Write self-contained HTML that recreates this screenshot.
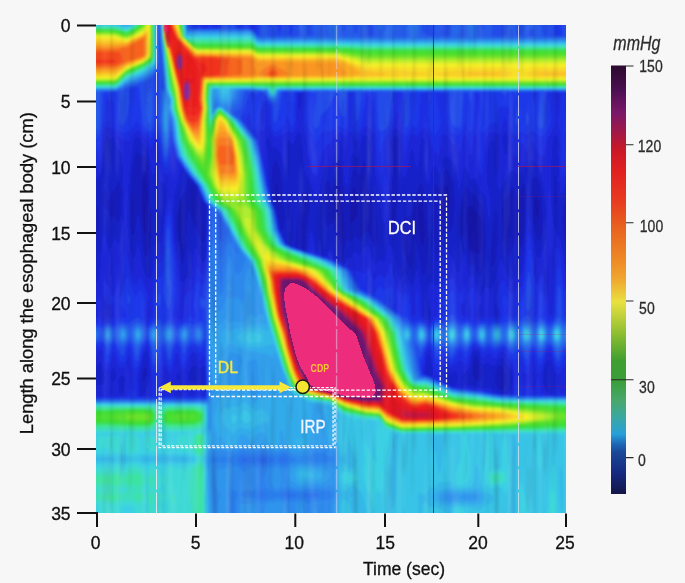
<!DOCTYPE html>
<html><head><meta charset="utf-8"><title>Esophageal pressure topography</title>
<style>
html,body{margin:0;padding:0;background:#f7f7f7;}
svg{display:block}
text{font-family:"Liberation Sans",sans-serif;}
</style></head>
<body>
<svg width="685" height="583" viewBox="0 0 685 583">
<defs>
<clipPath id="pc"><rect x="96" y="25" width="470" height="488"/></clipPath>
<filter id="bl" x="-2%" y="-2%" width="104%" height="104%"><feGaussianBlur stdDeviation="0.8"/></filter>
<pattern id="st" width="141" height="173" patternUnits="userSpaceOnUse"><rect x="85.6" y="135" width="2.5" height="41" fill="#fff" opacity="0.051"/><rect x="0.7" y="122" width="3.0" height="81" fill="#fff" opacity="0.034"/><rect x="38.1" y="24" width="4.0" height="60" fill="#000" opacity="0.075"/><rect x="108.6" y="88" width="2.5" height="94" fill="#fff" opacity="0.030"/><rect x="83.9" y="-12" width="2.5" height="61" fill="#fff" opacity="0.053"/><rect x="86.2" y="69" width="1.5" height="60" fill="#fff" opacity="0.025"/><rect x="26.4" y="100" width="4.0" height="51" fill="#fff" opacity="0.050"/><rect x="21.2" y="26" width="2.0" height="87" fill="#000" opacity="0.068"/><rect x="87.6" y="108" width="2.5" height="63" fill="#000" opacity="0.069"/><rect x="49.5" y="83" width="1.5" height="29" fill="#fff" opacity="0.035"/><rect x="20.6" y="121" width="2.5" height="94" fill="#000" opacity="0.057"/><rect x="87.4" y="97" width="2.0" height="36" fill="#fff" opacity="0.032"/><rect x="55.1" y="-3" width="2.5" height="40" fill="#000" opacity="0.044"/><rect x="119.7" y="95" width="4.0" height="34" fill="#000" opacity="0.073"/><rect x="123.8" y="79" width="2.0" height="38" fill="#000" opacity="0.055"/><rect x="24.7" y="133" width="1.5" height="70" fill="#000" opacity="0.047"/><rect x="56.3" y="21" width="3.0" height="86" fill="#fff" opacity="0.041"/><rect x="44.1" y="110" width="1.5" height="27" fill="#fff" opacity="0.026"/><rect x="16.8" y="147" width="1.5" height="55" fill="#000" opacity="0.069"/><rect x="47.2" y="82" width="3.0" height="73" fill="#fff" opacity="0.041"/><rect x="104.8" y="137" width="4.0" height="90" fill="#fff" opacity="0.048"/><rect x="111.0" y="4" width="1.5" height="54" fill="#000" opacity="0.031"/><rect x="86.1" y="117" width="4.0" height="76" fill="#fff" opacity="0.031"/><rect x="49.7" y="11" width="2.5" height="49" fill="#000" opacity="0.056"/><rect x="46.6" y="27" width="1.5" height="56" fill="#000" opacity="0.053"/><rect x="71.4" y="135" width="4.0" height="77" fill="#000" opacity="0.049"/><rect x="120.3" y="51" width="3.0" height="30" fill="#fff" opacity="0.041"/><rect x="130.3" y="23" width="4.0" height="81" fill="#000" opacity="0.062"/><rect x="86.3" y="148" width="2.0" height="53" fill="#fff" opacity="0.027"/><rect x="29.2" y="138" width="2.0" height="84" fill="#fff" opacity="0.043"/><rect x="65.6" y="83" width="2.5" height="46" fill="#000" opacity="0.051"/><rect x="86.0" y="90" width="3.0" height="38" fill="#fff" opacity="0.037"/><rect x="104.7" y="121" width="4.0" height="33" fill="#000" opacity="0.066"/><rect x="120.2" y="71" width="3.0" height="89" fill="#fff" opacity="0.026"/><rect x="2.8" y="24" width="3.0" height="38" fill="#000" opacity="0.032"/><rect x="80.9" y="9" width="2.0" height="72" fill="#fff" opacity="0.034"/><rect x="128.6" y="73" width="3.0" height="71" fill="#000" opacity="0.039"/><rect x="78.7" y="-13" width="4.0" height="81" fill="#000" opacity="0.068"/><rect x="6.9" y="39" width="4.0" height="33" fill="#000" opacity="0.066"/><rect x="43.0" y="129" width="2.0" height="81" fill="#fff" opacity="0.048"/><rect x="120.9" y="14" width="2.5" height="70" fill="#000" opacity="0.034"/><rect x="90.6" y="89" width="2.5" height="83" fill="#000" opacity="0.045"/><rect x="98.9" y="130" width="2.5" height="36" fill="#fff" opacity="0.045"/><rect x="29.4" y="78" width="4.0" height="91" fill="#fff" opacity="0.033"/><rect x="62.5" y="94" width="2.5" height="52" fill="#fff" opacity="0.045"/><rect x="113.8" y="45" width="1.5" height="51" fill="#000" opacity="0.040"/><rect x="33.9" y="37" width="4.0" height="31" fill="#000" opacity="0.056"/><rect x="41.1" y="-7" width="2.5" height="78" fill="#fff" opacity="0.029"/><rect x="17.9" y="-6" width="3.0" height="44" fill="#fff" opacity="0.050"/><rect x="84.9" y="12" width="4.0" height="55" fill="#000" opacity="0.047"/><rect x="97.4" y="-3" width="3.0" height="79" fill="#000" opacity="0.060"/><rect x="50.8" y="-9" width="3.0" height="61" fill="#000" opacity="0.039"/><rect x="36.5" y="73" width="2.0" height="88" fill="#fff" opacity="0.031"/><rect x="109.5" y="92" width="3.0" height="75" fill="#000" opacity="0.072"/><rect x="115.5" y="114" width="3.0" height="70" fill="#fff" opacity="0.048"/><rect x="103.8" y="105" width="2.0" height="56" fill="#fff" opacity="0.038"/><rect x="4.6" y="126" width="2.5" height="52" fill="#000" opacity="0.062"/><rect x="52.3" y="124" width="2.5" height="89" fill="#fff" opacity="0.029"/><rect x="104.2" y="152" width="1.5" height="75" fill="#000" opacity="0.071"/><rect x="16.9" y="-4" width="1.5" height="94" fill="#fff" opacity="0.030"/><rect x="78.8" y="57" width="4.0" height="38" fill="#000" opacity="0.040"/><rect x="105.4" y="-8" width="3.0" height="58" fill="#fff" opacity="0.034"/><rect x="42.8" y="105" width="2.0" height="29" fill="#000" opacity="0.070"/><rect x="125.5" y="23" width="2.5" height="53" fill="#fff" opacity="0.029"/><rect x="4.5" y="67" width="4.0" height="37" fill="#000" opacity="0.052"/><rect x="25.2" y="96" width="1.5" height="44" fill="#000" opacity="0.043"/><rect x="70.7" y="89" width="2.5" height="53" fill="#000" opacity="0.069"/><rect x="24.6" y="4" width="2.5" height="33" fill="#000" opacity="0.072"/><rect x="31.6" y="148" width="4.0" height="60" fill="#fff" opacity="0.052"/><rect x="5.6" y="35" width="2.0" height="67" fill="#fff" opacity="0.032"/><rect x="63.7" y="132" width="1.5" height="83" fill="#000" opacity="0.062"/><rect x="116.4" y="98" width="3.0" height="76" fill="#fff" opacity="0.030"/><rect x="103.6" y="9" width="2.0" height="67" fill="#fff" opacity="0.053"/><rect x="21.3" y="69" width="4.0" height="31" fill="#000" opacity="0.056"/><rect x="110.1" y="29" width="2.5" height="74" fill="#000" opacity="0.073"/><rect x="59.4" y="52" width="4.0" height="73" fill="#000" opacity="0.045"/><rect x="91.7" y="16" width="1.5" height="79" fill="#fff" opacity="0.047"/><rect x="2.1" y="146" width="2.5" height="58" fill="#fff" opacity="0.047"/><rect x="71.7" y="106" width="4.0" height="64" fill="#000" opacity="0.072"/><rect x="5.4" y="58" width="1.5" height="69" fill="#000" opacity="0.033"/><rect x="81.3" y="18" width="1.5" height="87" fill="#fff" opacity="0.039"/><rect x="102.8" y="102" width="1.5" height="64" fill="#000" opacity="0.051"/><rect x="85.0" y="122" width="2.0" height="70" fill="#fff" opacity="0.042"/><rect x="54.3" y="109" width="3.0" height="52" fill="#fff" opacity="0.048"/><rect x="69.0" y="38" width="1.5" height="52" fill="#000" opacity="0.065"/></pattern>
<filter id="bs" x="-2%" y="-5%" width="104%" height="110%"><feGaussianBlur stdDeviation="0.8 6"/></filter>
<filter id="b2" x="-50%" y="-50%" width="200%" height="200%"><feGaussianBlur stdDeviation="1.3"/></filter>
<linearGradient id="cb" x1="0" y1="0" x2="0" y2="1">
<stop offset="0" stop-color="#2a0a2e"/>
<stop offset="0.055" stop-color="#4a1050"/>
<stop offset="0.11" stop-color="#7a1868"/>
<stop offset="0.155" stop-color="#a01848"/>
<stop offset="0.195" stop-color="#c81828"/>
<stop offset="0.245" stop-color="#e02020"/>
<stop offset="0.315" stop-color="#e83a20"/>
<stop offset="0.375" stop-color="#e86020"/>
<stop offset="0.455" stop-color="#ee8a25"/>
<stop offset="0.50" stop-color="#f0a830"/>
<stop offset="0.552" stop-color="#e8e040"/>
<stop offset="0.63" stop-color="#88bc30"/>
<stop offset="0.69" stop-color="#3f9e30"/>
<stop offset="0.735" stop-color="#3a9e3a"/>
<stop offset="0.785" stop-color="#48a870"/>
<stop offset="0.82" stop-color="#3aa8a0"/>
<stop offset="0.86" stop-color="#28a0d8"/>
<stop offset="0.883" stop-color="#1e68b8"/>
<stop offset="0.902" stop-color="#1a4898"/>
<stop offset="0.95" stop-color="#152a80"/>
<stop offset="1" stop-color="#141548"/>
</linearGradient>
</defs>
<rect width="685" height="583" fill="#f7f7f7"/>
<!-- heat map -->
<g clip-path="url(#pc)">
<g filter="url(#bl)">
<rect x="86" y="15" width="490" height="508" fill="#1617aa"/>
<path fill="#181aba" d="M573.5 520.6L88.4 520.5L88.5 17.5L573.5 17.5L573.5 203.4L568.5 210.1L567.5 212.5L566.6 222.5L567.1 230.5L568.5 236.4L569.5 237.8L570.5 237.9L573.5 236.2L573.5 520.6ZM146 233.5L146.9 230.5L147.5 223.2L147.4 190.5L146.5 175.5L145.5 171.5L144.5 170.8L143.3 173.5L142.3 180.5L142 200.5L143.5 225.1L144.5 231.7L145.5 234.2L146 233.5ZM277.7 202.5L278.4 199.5L278.3 193.5L277.5 185.4L276.5 183.3L275.9 187.5L276 193.5L276.5 199.4L277.5 202.9L277.7 202.5ZM446.2 215.5L447.9 210.5L448.6 200.5L447.5 188.9L446.5 185.2L445.5 184.5L444.5 186.3L443.3 191.5L441.5 208.5L441.9 212.5L442.7 214.5L444.5 216.2L446.2 215.5ZM340.8 242.5L341.5 242.3L342.7 235.5L343.4 217.5L342.2 200.5L340.5 188.6L339.5 185.1L338.5 186.4L337.9 192.5L337.7 212.5L338.8 232.5L339.5 238.6L340.8 242.5ZM351.6 222.5L356.5 216.4L357.7 211.5L357.1 197.5L355.8 190.5L354.5 187.7L353.5 188.5L352.5 192.2L350.2 208.5L350 219.5L350.5 222.2L351.6 222.5ZM538.6 218.5L539 211.5L538.5 202.4L537.5 196.9L536.5 195.8L535.5 200.4L535.7 207.5L537.5 218.6L538.5 218.9L538.6 218.5ZM423 244.5L424.3 235.5L424.2 221.5L422.5 205.6L421.5 201.8L420.5 200.9L419.5 202.8L418.5 209.5L418.4 224.5L420.5 239.9L421.5 243.7L422.5 245.4L423 244.5ZM479.3 253.5L480.5 249.5L481.8 238.5L481.9 228.5L481 220.5L479.5 216.1L475.9 212.5L472.5 207.6L470.5 206L469.5 205.9L468.4 206.5L467.3 208.5L466.6 215.5L467.3 227.5L469.5 248.1L470.5 251.7L471.5 252.5L474.5 250.5L475.5 250.9L478.5 254.4L479.3 253.5Z"/>
<path fill="#1920c8" d="M573.5 520.6L88.4 520.5L88.5 219.6L89.5 215.5L90 208.5L89.5 203.5L88.5 201L88.5 17.5L573.5 17.5L573.5 187.3L567.5 194.5L565.9 198.5L563.4 210.5L562.6 220.5L563.8 233.5L567.1 249.5L568.5 252.1L569.3 252.5L573.5 252.5L573.5 520.6ZM393.9 230.5L395.5 225.5L397 210.5L397.4 179.5L398.7 152.5L398.5 140.6L397.7 137.5L396.5 136.1L395.5 136.4L394.5 138.1L393.3 144.5L393 179.5L390.2 211.5L390.9 225.5L392.5 230.4L393.5 231L393.9 230.5ZM146.7 255.5L148.1 252.5L149.1 247.5L150.5 230.5L149.5 186.5L148.6 171.5L147.5 163.5L145.5 157.1L144.5 156L143.5 155.7L140.5 156.3L137.5 151L136.5 151.1L135.5 153L133.5 161.4L131.4 178.5L130.1 205.5L130.6 225.5L131.5 232.3L132.5 235.1L133.5 235L135 229.5L137.5 213L138.5 210.8L139.5 215L143.5 248.8L145.5 255.5L146.7 255.5ZM340.9 261.5L341.5 261.1L342.5 257.5L345.5 239.9L346.5 237.9L349.5 241.3L350.5 241.4L354.5 236.4L355.5 236.6L358.5 239.4L359.5 238.9L362.5 233.5L367.5 229.9L368.5 230.6L372.5 242.8L374.5 246.6L375.5 246.3L376.9 242.5L377.9 235.5L378 227.5L375.5 199.6L373.5 191.2L372.5 191.2L369.5 198.2L368.5 195.5L365.5 165.6L364.5 161L363.5 160L359.5 175.3L358.5 175.7L357.5 174.8L354.5 170.5L353.5 170.7L353.2 171.5L348.5 196.6L346.5 203.7L345.5 203.1L344.5 198.8L340.5 163.6L339.5 158.9L338.5 158.8L336.8 166.5L333.5 197.1L332.5 195.1L330.2 185.5L328.5 181.7L327.5 181.1L326.5 181.7L325.2 185.5L324 193.5L323.7 203.5L324.2 214.5L325.3 222.5L326.5 225.7L327.5 226.1L330.6 223.5L332.5 221.1L333.5 220.7L334.5 225.1L338.5 257.7L339.3 260.5L340.9 261.5ZM282.7 230.5L284.1 223.5L284.4 214.5L281.9 185.5L279.5 169.5L277.5 163.5L276.5 161.9L275.5 161.4L274.5 162.2L273.5 164.6L272.5 170.5L271.8 182.5L272 193.5L273.5 202.5L276.2 209.5L280.5 228.3L281.5 230.2L282.7 230.5ZM437.7 259.5L441.1 239.5L442.5 233.9L444.5 231.2L448.5 232.1L450.5 230.8L452.5 225.9L453.7 218.5L454.5 200.5L453.5 184.7L452.5 181.1L447.7 171.5L446.5 170.1L445.5 170L444.5 171.3L440.5 187.3L439.5 189.1L438.5 188.9L435.5 183.2L434.5 183.5L433.5 188.5L433.1 205.5L435.5 250.7L436.5 259.9L437.5 260.5L437.7 259.5ZM556.6 206.5L556.8 192.5L555.5 175.3L554.5 177.5L554.4 192.5L555.5 204.4L556.5 207L556.6 206.5ZM539.8 240.5L541.5 235.8L542.5 226.5L542.4 215.5L541.2 198.5L540 187.5L538.5 180.6L536.5 177.4L534.5 177L533.5 177.2L532.5 178.5L531.5 183.5L531.3 191.5L532 202.5L533.8 218.5L536.5 235L538.5 240.9L539.5 241L539.8 240.5ZM182.6 263.5L183.5 260.7L184.7 252.5L187.5 214.9L188.5 209.4L189.5 210.2L193.5 222.5L196.8 229.5L200.5 239.2L202.5 241.8L203.5 241.5L204.5 239.8L205.5 234.8L206.1 218.5L205.7 205.5L203.5 203.7L202.1 201.5L195.4 186.5L191.5 181.1L188.5 178.7L187.8 179.5L186.5 190L185.5 191.6L183.5 193.3L181.5 198.1L178.9 208.5L177.8 216.5L177.8 227.5L179.5 250.3L180.6 259.5L181.5 263.4L182.6 263.5ZM118.7 221.5L119.5 219L120.2 212.5L120.6 198.5L119.9 185.5L119.5 182.4L118.5 181.2L115.5 188.9L114.5 190.2L112.5 190.3L111.5 192.6L108.6 208.5L109.2 213.5L110.5 216.8L111.5 217.3L113.5 216.2L114.5 216.4L117.5 222L118.5 222.2L118.7 221.5ZM423.7 275.5L424.5 273.8L425.5 267.7L427.1 252.5L428 237.5L428 223.5L426.9 210.5L423.8 191.5L422.5 185.7L421.5 183.5L420.5 183.3L418.7 186.5L417.1 191.5L412.5 212.3L407.5 218.2L406.5 218.3L404.5 217.1L403.5 219L402.5 227.8L402.1 244.5L402.6 249.5L405.5 255.1L409.5 268.6L410.5 269.9L411.8 265.5L413.5 236.4L414.5 234.2L418.5 251L422.5 274.3L423.5 275.9L423.7 275.5ZM508.7 255.5L509.5 254.5L513.5 244.3L516.5 234.4L517.5 234.3L520.5 247.1L521.5 246.3L522.5 242.2L524.9 222.5L526.2 199.5L525.6 187.5L524.5 184.2L523.5 183.6L521.5 187.4L518.5 199.8L517.5 202L516.5 199.6L514.5 190.1L513.5 187.7L512.5 187.2L511.5 188.1L508.5 195.3L504.5 200L503.5 203.3L502.7 209.5L502.6 216.5L504.2 238.5L506.5 252.8L507.5 255.2L508.7 255.5ZM480.4 276.5L481.6 273.5L483 266.5L484.8 247.5L484.8 228.5L483.3 212.5L482.2 207.5L480.5 203.5L474.5 195.6L470.5 192.5L466.5 186.4L465.5 186.5L463.5 192.5L461.5 207.5L460.2 224.5L460.5 234.5L461.5 236.1L463.5 235.3L464.5 235.6L465.5 237.5L469.5 263L470.5 264.8L473.5 264.1L474.5 264.9L478.5 276.1L479.5 277.2L480.4 276.5ZM107.3 208.5L107.9 206.5L106.7 196.5L105.5 190L104.5 188.7L103.2 194.5L103.3 203.5L104.5 207.7L105.5 208.9L106.5 209.2L107.3 208.5ZM303.5 248.5L308.8 216.5L309.6 207.5L309 200.5L307.6 195.5L305.5 192.8L303.5 192.2L302.5 192.9L301.5 195L299.5 205.1L297.5 222.7L295.7 245.5L297.2 247.5L299.6 248.5L303.5 248.5ZM288.6 220.5L289.5 216.4L290.1 202.5L290.3 194.5L289.5 193.7L287.3 210.5L287.5 216.8L288.6 220.5ZM97.6 244.5L98.5 235.7L99 217.5L98.5 208.5L97.5 205.8L96.5 210.1L96.3 217.5L97.5 245.4L97.6 244.5ZM492.7 266.5L494.5 263L495.5 258.9L497 246.5L497.6 222.5L496.5 210.1L495.5 210.2L494.5 218.3L491.2 253.5L491.2 263.5L491.5 265.5L492.7 266.5ZM479.7 380.5L481.2 378.5L481.5 374.5L477.5 359L476.5 356.7L475.5 356.8L474.5 359.3L473.5 365.2L473 370.5L473.3 374.5L475.5 379.3L477.5 380.6L479.7 380.5ZM502.8 389.5L504 387.5L505.2 383.5L505.7 376.5L504.7 372.5L502.8 368.5L500.6 365.5L499.5 365.4L497.5 368.3L495.8 372.5L495 376.5L495.1 379.5L496.3 384.5L498.5 388.9L500.5 390.3L502.8 389.5ZM143 380.5L144.5 379.3L146.5 375.3L146.6 369.5L145.5 367L143.5 370L142.4 373.5L142 378.5L142.5 380.6L143 380.5Z"/>
<path fill="#1a25d7" d="M573.5 520.5L88.4 520.5L88.5 395L89.5 394.1L91.1 387.5L92.5 384.2L94.5 383.6L99.5 384.9L101.5 384.7L103.5 382.5L104.4 377.5L102.5 367.4L101.5 364.7L100.5 363.6L98.5 364.4L92.5 371.3L91.5 371.4L88.5 369.4L88.5 251.3L91.5 239.6L92.5 240.5L93 246.5L93.5 276.5L94.5 281.4L95.5 282.8L96.5 282.9L98.5 279.7L99.5 275L101.6 243.5L102.5 235.8L103.5 233.5L104.9 235.5L107.5 246L108.5 248.6L109.5 249.4L110.5 248.4L113.5 239.5L114.5 237.9L115.5 238.1L118.5 243.2L119.5 242.9L119.9 241.5L121 235.5L122 222.5L122.9 192.5L122.4 165.5L120.9 154.5L119.5 151.3L116.9 147.5L113.5 137.9L112.4 137.5L109.5 140.3L107.5 136.6L106.5 136.2L105.5 137.7L105.2 139.5L103.2 162.5L100.5 174.5L97.5 178L93.5 187L92.5 187.5L88.5 186.2L88.5 17.5L573.5 17.5L573.5 172.8L570.5 171.9L569.5 172.2L563.5 192.2L562.5 194.7L561.5 195.7L560.5 194.2L559.7 190.5L558.6 179.5L557.5 138.5L556.5 135.4L555.5 135.4L554.1 138.5L553.3 143.5L551.7 164.5L551.3 181.5L552 205.5L553.6 222.5L555.5 230.1L559.5 236.8L561.6 243.5L564 255.5L565.5 271L566.5 273.8L569.3 267.5L570.5 265.9L571.5 265.6L573.5 266.1L573.5 367.7L571.4 368.5L569.5 370L568.5 372.5L568.1 375.5L568.8 381.5L571.5 391.4L572.5 393.4L573.5 393.7L573.5 520.5ZM299.9 109.5L300.8 105.5L301.4 95.5L301.1 93.5L299.5 93L298.6 93.5L298.4 94.5L298.4 102.5L298.5 106L299.5 110.4L299.9 109.5ZM428.5 319.5L429.9 316.5L430.3 313.5L427.1 297.5L427.1 291.5L428 285.5L429.5 281.5L430.5 281L432.5 282L435.5 285.4L436.5 285.6L437.5 284.8L438.5 282.9L440.5 274.4L442.5 253.2L443.5 248.3L444.5 246.1L445.5 245.8L446.5 246.8L449.5 253.1L452.5 257.5L456.5 269.3L457.5 271.5L458.5 272.2L459.8 269.5L462.5 253.8L463.5 251.1L464.5 250.7L465.6 253.5L468.5 274.4L469.5 276.5L470.5 276.5L472.5 275.2L473.5 275.6L474.5 277.3L479.5 296.4L480.5 296.6L483.5 288.5L485.5 285.8L486.5 285.9L489.5 288.6L490.5 288.8L492.5 286.5L496.4 275.5L500.5 257.4L501.5 256.4L506.5 272L508.5 276.9L510.5 280L511.5 280.4L512.5 279.6L516.5 269L517.5 269.9L519.5 274.5L520.5 275.1L521.5 273.2L522.5 267.2L527.5 220.6L528.5 215.6L529.5 214.4L531.5 221.5L536.9 254.5L537.5 257.1L538.5 258.4L539.5 257.7L543 249.5L545 240.5L545.9 228.5L545.4 214.5L542.7 185.5L540.6 172.5L538.5 166.9L535.5 164L532.5 159.9L531.5 160L528.5 166.8L527.5 167.8L526.5 167.8L523.5 165.6L522.5 166.2L518.5 176L517.5 176.4L513.5 171.5L511.5 171.1L510.5 171.8L504.5 181.4L500.5 190.8L499.5 190.9L498.3 187.5L496.9 178.5L494.7 144.5L493.5 140.7L492.5 140L491.3 140.5L489.9 143.5L488.8 149.5L487.5 170.5L488 185.5L490.5 197.7L491 203.5L490.6 215.5L489.5 221.6L488.5 221.2L486 200.5L484.6 195.5L478.6 188.5L474.5 179.5L471.5 179.7L470.5 178.9L466.5 168.9L465.5 167.5L464.5 168.1L463.5 171L459.5 191.8L458.5 194L456.3 172.5L454.6 164.5L453.5 162.7L450.5 161L446.5 156.7L444.5 156.9L443.5 158.6L440.5 172.2L439.5 174.3L438.5 173.8L435.5 167.1L434.5 165.9L433.5 166L431.8 170.5L429.5 183.8L428.5 186.1L427.5 185.3L426.2 180.5L424.9 170.5L424.5 159.5L424.9 142.5L424.5 139.4L423.5 138L422.5 138.2L421.2 141.5L419.4 159.5L417.5 168.1L416.5 169.2L415.5 167.3L412.7 150.5L412.5 149.6L411.5 149.4L407.4 172.5L405.5 176.9L404.5 177.7L403 177.5L402.2 175.5L401.5 170.3L400.9 137.5L399.5 132.1L398.5 130.3L396.5 129L395.5 129.6L393.5 132.9L391.6 140.5L389.9 180.5L386.5 219.5L385.5 225.2L384.5 226.2L383.5 224.9L381.5 217.6L375.5 178.8L371.9 160.5L371 153.5L370.5 142L369.4 139.5L366.1 135.5L364.5 135L363.5 135.6L361.9 138.5L359.1 154.5L357.5 159.2L356.5 159.2L353.5 153.9L352.4 153.5L351.5 156.3L348.5 180.9L347.5 185.1L346.5 186.9L345.5 185.9L344.2 178.5L341.9 145.5L340.5 140.7L339.5 139.9L338.5 140.4L336.5 145.8L332.5 165.6L331.5 167L327.5 165.7L326.5 166L323.8 170.5L322 177.5L319.5 192.4L318.5 196.2L317.5 197.1L315.5 195L312.5 189.8L308.5 180.4L305.5 175.1L304.3 171.5L302.2 158.5L301.9 138.5L300.9 134.5L299.5 132L298.5 131.7L296.5 134.5L293.5 146L292.5 146L289.5 140.9L288.5 140.2L287.5 141L286.2 148.5L285.5 167.8L284.5 169.5L282.1 158.5L280 153.5L276.5 148.1L275.5 147.6L272.5 147.7L271.5 147.1L268.5 137.7L267.5 137.3L266.7 139.5L266.5 142.5L268 154.5L268.2 177.5L269.5 189.3L272.2 201.5L275.7 210.5L279.5 229.5L286.5 243.5L289.8 245.5L299.5 249.5L303.5 250.6L306.4 250.5L309.5 233.7L310.5 231.2L311.5 230.8L312.5 232.6L313.8 238.5L315.4 252.5L316.5 253.5L319.5 254L322.7 255.5L326.5 256L327.1 255.5L328.5 249.5L329.5 248.5L330.5 249.7L333.3 258.5L338.3 262.5L343.5 264.5L345.1 263.5L346.5 258.6L347.5 257.5L349.5 257.9L350.5 257.3L353.5 252.3L354.5 251.7L355.5 252L358.5 255L359.5 254.8L363.5 247.7L366.5 245.2L367.5 245.2L368.5 246.1L369.5 248.2L373.5 262.5L374.5 264.3L375.5 264.6L379.5 260L380.5 259.9L383.5 261.7L384.5 260.8L385.5 257.8L388 245.5L388.5 244.5L389.5 244.2L390.5 244.7L393.1 248.5L395.3 254.5L398 274.5L399.5 280L400.5 280.4L403.7 273.5L404.5 272.2L405.5 272.1L407.5 275.9L410.5 284.6L411.5 285.8L411.9 285.5L413.5 282L415.5 270.1L416.5 267.5L417.5 268.7L422.3 294.5L422.9 314.5L424 317.5L425.5 319.6L427.5 320.3L428.5 319.5ZM505.8 154.5L506.5 154.2L507.5 150.2L508.2 140.5L507.5 135.1L505.5 132L504.5 132.2L503.5 133.7L502.5 139.5L503.5 148.2L504.5 152.5L505.8 154.5ZM150.7 278.5L151.9 273.5L153.3 254.5L154.5 246.2L155.5 243L156.5 241.8L157.5 241.8L159.5 243.3L160.5 242.3L161.5 237.6L165.5 200.5L165.6 189.5L164.8 185.5L163.5 183.2L162.5 182.7L160.5 182.8L159.5 180.7L156.5 164.3L155.5 164.9L153.5 178L152.5 179.7L149.2 158.5L147.5 151.4L145.5 146.8L142.5 143.2L139.5 138.4L137.5 136.9L135.5 138L133.9 142.5L129.7 171.5L127.7 207.5L127.7 222.5L128.4 235.5L130 246.5L132.5 255.7L133.5 257.5L134.5 257L137.5 244.5L138.5 243.3L139.5 246.1L142.4 263.5L144.5 272.2L146.5 275.6L149.5 278.5L150.7 278.5ZM260.7 142.5L260.5 141.2L260.5 142.8L260.7 142.5ZM183.1 281.5L186.5 276.6L187.5 277.1L189.5 279.4L190.5 279.1L191.5 276.6L193.2 252.5L194.4 247.5L195.5 246.6L197.5 249.6L201.5 260.2L202.5 261.2L203.5 261.2L204.5 260.2L205.5 256.1L206.6 243.5L207.6 206.5L207.4 205.5L203.7 201.5L196.5 185.7L183.5 169.9L181.5 168.3L180.9 169.5L178.5 183.6L175.5 190.8L174.5 194.9L173.8 212.5L174.5 228.5L179.5 273.6L180.5 279.4L181.5 281.9L182.5 282.1L183.1 281.5ZM480 316.5L481.4 314.5L481.8 311.5L480.5 304.1L479.5 303.8L477.8 313.5L478.5 316.6L480 316.5ZM506.4 393.5L509.3 391.5L511.1 388.5L512.5 381.5L512.5 376L511 371.5L502.5 359L500.5 357.5L499.5 358.2L495.5 364.9L493.5 366.2L491.6 365.5L488.5 362.8L487.5 362.7L483.5 365.7L482.5 365.3L480.9 362.5L477.5 351L476.5 350L474.7 350.5L472.5 354.5L469.5 367.6L468.5 369.5L465.2 372.5L463.8 374.5L463.7 378.5L465.5 384.5L467.5 386L472.5 385.2L481.5 388.2L490.5 387.7L492.5 388.7L496.7 392.5L498.8 393.5L502.5 393.9L506.4 393.5ZM142.7 395.5L143.8 394.5L147.8 384.5L149.5 376.5L148.5 360.1L147.5 352.8L146.5 351.3L145.5 351.8L144.5 354.1L139.7 372.5L139 377.5L139.9 394.5L140.7 395.5L142.7 395.5ZM432.6 376.5L433.1 375.5L432.5 370.1L429.8 356.5L428.5 354.1L427.5 355.8L424.8 372.5L425.4 373.5L429.1 375.5L432.6 376.5ZM551.9 393.5L554 382.5L554.1 374.5L551.5 363L550.5 360.9L549.5 359.9L548.5 359.7L547.5 360.6L546.5 362.7L543.8 371.5L543.1 375.5L543.2 380.5L544.5 386.2L548.5 392.5L549.5 393.6L551.9 393.5ZM204.6 390.5L205.5 379.5L204.5 366.9L203.5 365.9L200.5 368.9L199.5 369L194.5 365.4L189.5 370.6L188.3 374.5L188.5 378.8L189.5 380.6L192.5 380.4L196.5 384.4L200.5 384.4L201.5 385.5L203.5 390.5L204.5 391.4L204.6 390.5ZM453.8 386.5L455.7 385.5L457 382.5L457.9 377.5L457.3 373.5L456.5 372.1L454.5 371.4L452.5 372.5L448.5 376.5L447.5 375.1L444.5 367.2L443.5 366.2L442.5 366.9L441.1 371.5L440.6 377.5L441.1 380.5L443.5 382.5L448.5 383.7L450.5 385.5L453.8 386.5ZM115 380.5L116 378.5L116.1 375.5L114.5 368.8L113.5 367.7L112.5 369.1L111.5 372.5L111 377.5L111.5 379.8L112.5 381.2L113.5 381.5L115 380.5ZM533.1 374.5L533.5 372.5L532.5 370.8L532.5 375.2L533.1 374.5ZM178.7 379.5L179.3 376.5L178.5 373.5L177.5 372.7L176.7 374.5L176.6 376.5L177.5 379.3L178.5 379.8L178.7 379.5ZM123.2 394.5L124.5 383.8L125.8 378.5L126.5 377.5L125.5 378.1L121.5 376L120.4 376.5L119 378.5L118.8 383.5L120 394.5L121.5 395.4L123.2 394.5Z"/>
<path fill="#1c2ee2" d="M573.5 520.5L88.4 520.5L88.5 396.9L95.5 396.1L106.5 396.4L111.5 395.4L120.5 397L126.5 396.2L127.7 395.5L128.1 394.5L131.4 380.5L132.1 373.5L130.5 358.7L129.5 354.9L128.5 355.6L125.5 365.8L124.5 367.4L122.5 368.4L120.5 368L118.5 366.5L116.9 362.5L114.5 352.5L113.5 352L109.5 367.9L108.5 369.6L107.5 370.2L106.5 369.5L104.6 364.5L102.7 351.5L101.5 349.1L99.5 349.7L98.1 351.5L94.6 360.5L92.5 363.4L91.5 363.8L90.5 363.4L88.5 361.6L88.5 280.6L90.5 286.3L92.2 296.5L92.3 302.5L91.5 313.5L92.5 318.6L93.5 319.5L94.5 319.6L95.9 318.5L97.5 315.9L98.5 316L100.5 319.6L102.5 321.5L104.5 320.5L107.5 317.6L112.5 318.6L113.5 317.4L114.2 314.5L113.5 306.1L112.5 303.1L111.5 303.2L109.5 305.5L108.5 305.9L106.5 303.5L102.8 294.5L103.5 284.2L104.5 279.7L108.5 286.2L112.5 296.7L113.5 296.1L121.5 272.4L124.5 251.4L125.5 250.5L129.5 263.8L132.5 277.7L134.5 283.7L135.5 284.3L136.5 283.4L139.5 277L140.5 277.3L147.6 292.5L148.9 297.5L149.2 301.5L147.1 315.5L147.5 317.6L148.5 318.9L149.5 319L150.5 318.3L151.6 316.5L152.2 313.5L151.9 299.5L155.6 268.5L156.5 263.6L157.5 261.9L159.5 262.8L160.5 262.7L161.5 260L165.5 217.5L167.5 203.5L168.5 198.6L169.5 196.7L170.5 199.3L171.1 204.5L173.5 240.1L176.5 264.5L179.2 294.5L179.1 301.5L176.7 315.5L177.1 317.5L178.5 319.4L179.5 319.9L181.5 319.6L183.6 317.5L184.7 314.5L184 301.5L184.6 296.5L186.5 292.6L190.5 291.2L192.5 288L193.7 282.5L195.5 268.5L196.5 265.6L197.5 265.9L200.5 272.4L202.5 274.9L204.5 275L205.5 272.5L207.5 243.5L208.3 206.5L207.5 204.5L205.1 202.5L203.9 200.5L197.5 186L188.1 174.5L176.1 158.5L174.7 155.5L172.5 146.8L171.5 147.6L170.8 160.5L169.3 171.5L168.2 174.5L167.5 175.4L166.5 175.4L163.5 172.2L161.2 166.5L159.9 159.5L157.5 140.5L156.5 137.8L155.5 137.6L154.5 139.3L151.5 149.3L150.5 148.8L147.5 141.9L145.5 138.7L139.5 131.8L137.5 130.7L136.5 130.8L134.5 132.2L132.4 135.5L129.5 141.9L128.5 141.8L126.5 140.2L123.5 140.3L121.5 139.1L118.5 136L114.5 130L112.5 128L109.5 128.4L107.5 126.5L106.5 126.4L104.5 130.8L103.2 135.5L101.5 152.6L99.8 160.5L93.5 172.1L91.5 173.9L88.5 175.2L88.5 17.5L203.2 17.5L203.5 23.2L204.5 26.6L205.3 17.5L573.5 17.5L573.5 151.5L571 135.5L569.5 131.6L568.5 130.5L567.5 130.6L565.5 133.5L564.5 137.5L565 165.5L564.1 174.5L562.5 179.9L561.5 179.5L560.4 173.5L559.9 158.5L560.4 137.5L557.8 123.5L560.5 94.5L560.3 93.5L558.5 92.6L556.5 93L555.7 94.5L555.5 120.5L554.9 125.5L552.5 131.7L550.5 134.7L547.6 137.5L546.7 139.5L544.5 153.6L543.5 156.9L542.5 157L536.5 150.8L532.5 140.4L531.5 140.5L531 141.5L528.5 150.1L527.5 152L526.5 152L525.5 150.5L523.5 143.9L522.5 142.2L521.5 143L517.5 155.4L516.5 156.5L514.5 156.4L513.5 155.1L512.4 151.5L510.5 134.5L506.5 120L505.5 118.7L504.5 118.8L503.5 120.5L500.5 131.7L498.5 135.4L494.5 132.4L491.5 131.9L488.5 133.8L486.1 137.5L484.8 143.5L483.1 169.5L481.9 174.5L481.5 175.3L480.5 175.7L479.5 174.4L478.7 171.5L477.8 165.5L477.3 155.5L477.8 139.5L476.5 134.2L475.5 133.7L474.5 134.6L473.4 137.5L471.5 152.7L470.5 156.4L469.5 155.7L469 153.5L467.4 139.5L466.5 136L465.5 134.6L464.5 134.7L463 137.5L460.5 150.5L459.5 152.7L458.5 152.1L455.5 145.9L451.5 143L447.5 135.7L444.5 133.9L442.5 133.9L441.3 135.5L440.4 138.5L439.6 152.5L438.5 156.2L437.5 155.7L431.9 147.5L428.4 134.5L425.5 129L424.5 127.9L423.5 127.6L421.5 129.4L416.5 137L415.5 136.7L412.5 133.7L411.5 134L410.5 135.4L409.1 139.5L406.5 151.9L405.5 153.7L404.5 152.2L403 137.5L400.7 126.5L399.5 117.3L398.5 112.5L397.5 111.2L396.5 112.7L393.9 124.5L390.2 136.5L389.2 141.5L385.5 191.1L384.5 198L383.5 199.3L382.5 196.7L376.5 166.3L374.1 135.5L371.5 129.7L366.5 126L365.5 126L364.5 126.8L362.5 129.7L359.9 134.5L357.5 141.6L356.5 142.8L351.5 131.5L350.5 131.1L349.5 132L346.5 137.5L345.5 138.1L340.5 132.7L339.5 132.4L337.5 133.2L333.9 137.5L329.5 144.6L326.5 145.7L324.5 148.4L321.5 157L317.5 174.3L316.5 175.8L315.5 176L313.5 174.1L311.2 168.5L308 155.5L306.7 140.5L302.8 127.5L303.6 99.5L303.5 93.5L302.9 92.5L298.5 92L297.1 92.5L296.6 93.5L296.2 124.5L295.2 129.5L293.5 133.2L292.5 133.8L291.5 133.6L288.5 131.3L287.5 131.1L280.5 136.1L275.5 136.9L273.5 136.6L271.5 133.9L268.8 126.5L268.1 120.5L268.4 110.5L267.5 108L267 122.5L265.9 127.5L264.5 130.2L263.5 130.9L260.5 130.1L259.5 130.6L257.3 133.5L256.5 136.5L258 140.5L263.1 160.5L270.5 197.8L271.5 201.6L275.1 210.5L278.5 228.5L285.5 243.5L288.4 245.5L301.2 250.5L307.5 251.7L309.1 251.5L310.5 250.6L313.5 253.5L315.7 254.5L330.5 258.9L340.5 264.4L348.5 267.9L352.5 270.4L353.5 270.6L355.5 269.7L363.5 274.1L364.5 274L365.4 272.5L367.5 266.3L368.5 266.6L371.7 276.5L373.5 279.8L374.5 279.9L375.5 279.1L378.5 274.5L379.5 273.8L380.5 274L383.5 277.6L384.5 277.9L385.5 277.3L387.3 273.5L389.5 265L390.5 263L391.5 263.3L392.6 266.5L395.9 284.5L398.5 292.3L399.5 293.3L400.5 292.8L404.5 283.3L405.5 282.6L406.5 283.4L407.5 285.5L411 298.5L412.1 312.5L412.5 314.5L413.5 315.7L414.6 315.5L415.9 312.5L415 298.5L416.1 291.5L416.5 290.1L417.5 289.3L418.5 291.6L419.4 297.5L419.3 310.5L419.9 314.5L422.9 319.5L427.5 324L429.5 323.1L433.5 318.1L436.3 315.5L437.4 313.5L438.4 298.5L444.5 277.9L445.5 276.8L448.5 280.1L449.5 280L452.5 278.1L453.5 278.4L455.5 281.9L459.5 293.2L460.5 294.3L463.5 284.9L464.5 283.4L465.5 285.7L467.3 296.5L464.5 302.7L463.5 303.6L461.5 303.1L460.5 304.2L459.9 311.5L460.5 314L461.5 315.1L467.5 318L469.5 317.7L470.5 316.5L470.9 312.5L467.8 296.5L470.8 288.5L472.5 286.1L473.5 286.8L474.5 289.5L475.5 295.5L475.6 303.5L474.3 314.5L474.7 317.5L476.2 320.5L477.5 321.3L478.5 321.1L486.5 317L490.5 317.8L494.5 316.9L498.5 317L499.6 315.5L499.5 311.5L498.5 308.4L495.8 303.5L495.3 298.5L497.3 289.5L500.5 281.7L502.5 280.1L504.5 281.3L509.5 291.8L511.5 294.5L512.5 294.2L513.5 292.8L516.5 287.1L517.5 286.7L520.5 287.8L522.3 284.5L523.7 276.5L526.5 244.4L528.5 233.4L529.5 232L530.5 233.6L531.5 237.5L533.2 248.5L535.5 282.3L536.5 284.6L537.5 283.7L541.5 274.3L542.5 273.7L543.5 275.2L544.5 279.1L548.1 297.5L548.4 313.5L549.5 315.7L550.5 316.3L551.5 316L552.5 314.6L553 311.5L553.2 300.5L554.7 281.5L554.2 252.5L554.7 249.5L555.7 247.5L556.5 246.9L557.5 247L558.5 248.2L561.1 257.5L563.5 281.5L564.5 288.7L565.5 292L566.5 291.1L569.3 280.5L570.5 277.7L571.5 277L573.5 277.5L573.5 362.2L571.5 362.7L567.4 362.5L561.5 369.7L558.5 375.2L557.5 375.3L555.5 369.9L551.5 354.2L550.5 352.6L548.5 351.8L547.5 352.4L546.4 354.5L543.5 364.5L539.9 374.5L539.5 378.5L542 393.5L542.7 394.5L550.5 395.4L554.8 394.5L557.5 384.2L558.5 385.3L560.5 393.6L561.5 394.3L563.5 394L564.2 393.5L565.5 390.2L566.5 390.1L569 394.5L573.5 395.4L573.5 520.5ZM98.5 307.4L97.5 307.4L97 303.5L97.5 299.8L98.5 298.3L99.5 298.4L99.8 300.5L98.5 307.4ZM145.9 396.5L148 395.5L148.6 394.5L151.1 383.5L151.7 377.5L149 350.5L148.3 347.5L147.5 346.1L146.5 345.6L144.5 347.2L143.5 349.5L141 361.5L137.2 374.5L136.8 379.5L137.6 395.5L138.4 396.5L140.5 397L145.9 396.5ZM513 394.5L513.8 393.5L515.1 379.5L515.2 374.5L514.7 370.5L513.5 367.5L509.5 362.3L506.5 355.7L501.5 351.5L499.5 352.1L495.5 358.4L494.5 358.7L493.5 358L490.5 353.9L488.5 352.9L486.5 353.9L483.5 358.3L482.5 358.3L481.5 356.9L478.5 349L477.5 347.5L475.5 346.5L473.5 347.7L471.7 350.5L468.9 360.5L467.5 363.6L465.5 364.5L460.5 360.5L458.5 360.6L452.9 366.5L450.5 368L449.5 368.1L448.5 367.4L444.5 357.5L443.5 356.4L442.5 356.8L441.5 359.2L437.5 375.9L436.6 376.5L436.7 377.5L439 380.5L443.5 383.5L452.5 387.5L456.5 387.6L461.5 386.4L466.5 388.5L475.5 388.9L481.5 390.5L490.5 391.8L499.3 394.5L513 394.5ZM436.5 377.5L433.5 364.5L431.5 352.4L430.4 349.5L428.5 347.6L427.5 348.1L426.7 349.5L425.8 352.5L424.5 361.8L422.7 368.5L423 373.5L424 374.5L432.5 377.8L434.5 378.2L436.5 377.5ZM205 396.5L205.8 394.5L206.3 379.5L205.5 362.7L204.5 355.9L203.5 355.5L201.5 359.8L199.5 361.6L197.5 359.9L194.5 352.1L193.5 351.5L192.5 352.1L190.5 355L186 367.5L184.5 369.6L183.5 369.8L182.5 369L180.7 365.5L177.5 353.5L176.5 352.6L175.5 354.3L172.5 369.9L171.5 372.7L170.5 373.9L169.5 373.5L168.5 372.3L164.5 364.4L163.5 363.9L161.6 369.5L160.3 377.5L161.5 395.5L164.5 396.7L168.5 396.5L170.7 395.5L171.4 394.5L171.5 392.3L172.5 391L173.7 394.5L175 395.5L180.5 395.9L181.8 395.5L182.6 394.5L184.5 391L185.5 391.1L188.5 395.6L191.1 395.5L193.5 393.9L196.5 395.1L199.5 395.1L202.7 396.5L205 396.5ZM534.2 389.5L536.9 381.5L537.8 376.5L534.7 358.5L533.5 355.1L532.5 355.2L531.5 358.3L529.5 369.4L528.5 373.5L527.5 375.3L523.5 371.9L522.4 372.5L521.9 375.5L522.5 380.6L524.5 386.2L525.5 385.9L527.5 381L528.5 380.8L532.5 389.6L533.5 390.2L534.2 389.5Z"/>
<path fill="#1d39e9" d="M573.5 520.5L88.5 520.5L88.5 397.9L122.5 397.9L129.2 397.5L131.3 396.5L133.5 389L134.5 390.6L135.2 396.5L138.5 397.8L152.5 397.2L165.5 397.9L204.5 397.8L205.6 397.5L206.5 395.5L206.8 380.5L205.5 349L204.5 345.1L203.5 346L200.5 352.8L199.5 353.8L198.5 353.1L196.5 348.5L194.5 345.9L192.5 345.9L190.5 347.2L188.3 350.5L185.5 361.2L184.5 362.8L183.5 363L182.5 361.9L181.5 359L179.5 348.1L177.5 345.2L176.5 345L175.5 345.4L174.5 346.9L173.5 350.4L171.6 363.5L170.5 365.9L169.5 366.4L168.5 365.8L166.8 362.5L164.4 351.5L163.5 349.7L162.5 350.2L159.3 365.5L157.5 369.3L155.5 371.4L154.5 371.4L153.5 370.3L152.5 367.6L151.3 361.5L149.8 347.5L148.5 343.9L146.5 342.1L144.5 343.5L142.5 347.5L139.4 361.5L137.5 366.4L135.5 368.8L134.5 367.7L133.6 364.5L131.5 349.5L130.5 347.3L129.5 346.4L128.5 346.7L127.5 348.1L124.7 360.5L123.5 362.5L122.5 362.9L120.5 361.9L119.5 360.2L116.8 349.5L114.5 345.6L113.5 345.5L112.5 346.4L111.6 348.5L109.5 360.8L108.5 363.1L107.5 363.8L106.5 362.8L105.5 359.5L103.5 346.5L101.5 343.9L99.5 344.5L96.1 347.5L92.5 355.3L91.5 356L88.5 352.1L88.5 317.8L90.3 320.5L92.5 322.3L94.5 322.9L97.5 322.8L101.5 325.2L102.5 325.2L107.5 321.8L113.5 323.4L114.9 322.5L119.5 317L123.5 318.4L125.4 317.5L125.7 314.5L124.5 309.9L122.5 306.1L120.5 304.6L120 301.5L120.4 298.5L122.5 292.9L125.5 280.8L126.5 277.9L127.5 276.9L128.5 277.8L129.5 280.1L134.5 296L135.5 296.6L136.5 295.7L139.5 290.4L140.5 290.3L142.4 293.5L143.8 301.5L143 315.5L143.5 318.5L144.6 321.5L146.1 323.5L147.5 324.3L149.5 323.5L152.7 320.5L154.4 317.5L155 314.5L154.9 297.5L156.5 282.1L157.5 278.3L158.5 277.3L160.5 278.2L161.5 277.7L162.5 273.7L165.4 230.5L166.5 221.8L168.5 213.5L169.5 214.2L170.6 220.5L176 290.5L175.5 299.9L172.3 312.5L172.5 318.1L174.5 322.2L177.5 324.1L179.5 323.9L186.4 320.5L190.5 315.1L193.5 319.3L194.5 319.9L195.5 319.6L196.6 317.5L196.7 314.5L193.8 305.5L193.6 302.5L196.5 283.9L197.5 281.9L198.5 281.8L201.5 284.8L204.5 286.1L205.5 284.4L206.5 277.5L208.3 237.5L208.9 206.5L208.1 204.5L205.8 202.5L204.4 200.5L198.5 186.5L188 173.5L176.9 157.5L176 155.5L171.5 138L170.5 138.9L168.3 162.5L167.1 166.5L166.5 167.5L165.5 167.7L163.9 165.5L162.3 160.5L159.3 137.5L158.3 133.5L156.5 130.1L155.5 130.2L154.5 131.4L151.5 137L150.5 137.8L149.5 137.4L142.8 130.5L138.5 122.4L137.5 121.1L136.5 121.1L130.5 130.5L126.5 131.2L123.5 132.4L120.5 131.8L117.8 128.5L116.4 124.5L113.5 102.3L112.8 100.5L112.5 99.8L110.5 101.1L109.5 100.7L107.5 96.6L106.5 96.2L105.2 102.5L103.3 126.5L98.9 147.5L94.5 157.2L88.5 163L88.5 17.5L92.2 17.5L92.5 19.4L93.5 19.7L99.5 19.6L105.5 20.1L108.7 19.5L109.2 17.5L123.9 17.5L124.4 20.5L126.5 21.6L130.4 20.5L131 19.5L131.2 17.5L193.9 17.5L194.3 25.5L195.1 27.5L197.2 27.5L198.5 26.6L202.4 28.5L204.5 28.7L206.8 28.5L208.7 27.5L208.5 17.5L212.2 17.5L212 26.5L212.4 27.5L215.5 28.1L217.6 27.5L218 26.5L218.3 17.5L249.1 17.5L249.3 27.5L254.5 30.6L255.3 30.5L255.7 29.5L256.3 17.5L573.5 17.5L573.5 132.7L571.9 129.5L570.9 124.5L569.2 93.5L567.5 92.4L558.5 91.6L549.5 92.7L548 93.5L550.5 107.7L550.7 122.5L549.2 126.5L543.5 135.2L541.5 136.8L539.5 136.3L537.5 135.2L532.5 130.6L531.5 130.8L527.5 135.3L526.5 135.1L523.5 131.5L522.5 131L516.5 135.3L514.5 134.7L512.5 131.2L511.5 127.9L509.7 110.5L508.5 106.5L507.5 105.7L499.5 106.8L498.6 109.5L497.2 122.5L496.5 123.2L492.5 122.7L490.5 123.4L484.5 130.9L482.5 132.4L481.5 132.4L479.5 129.3L478.7 124.5L479.9 106.5L479.9 94.5L479.7 93.5L478.8 92.5L477.5 92.4L476.3 92.5L475.2 94.5L473.9 125.5L472.5 130.1L470.5 132.8L469.5 132.5L468.5 131L465.5 121.8L462.3 130.5L459.5 134.8L457.5 134.9L453.5 133.5L450.5 131.2L447.9 126.5L446.9 122.5L445.1 94.5L444.5 93.4L438.5 92.4L436.5 93L435.9 94.5L439.7 118.5L439.7 125.5L438.6 129.5L436.5 133.3L434.5 134.7L432.5 133.7L430 129.5L428.7 124.5L427.6 93.5L424.5 92.8L420.7 93.5L420.1 94.5L418.7 120.5L417.5 126.8L416.5 128.1L415.5 128L413.5 125.2L412.5 124.6L407.5 134.6L406.5 135.8L405.5 135.5L403.5 130.5L402.7 125.5L401.5 93.5L400.5 92.5L399.5 92.3L395.3 92.5L394.5 94.2L392.6 116.5L390.8 127.5L388.5 133.3L384.4 138.5L382.8 141.5L380.5 152.7L379.5 154.5L378.5 150.6L377.7 138.5L374.4 125.5L373.5 109.6L372.5 102L370.8 97.5L368.5 94.6L367.5 94.5L366.5 95.4L365.5 98.3L361.1 123.5L359.5 128.5L357.5 132.2L356.5 132.6L355.5 131.8L353.6 126.5L353.1 120.5L353.2 93.5L352.7 92.5L350.5 92.1L349 92.5L348.5 93.5L347.7 122.5L346.5 128.2L345.5 129.4L344.5 129.6L340.5 126.2L338.5 125.5L332.3 130.5L329.5 131.3L325.5 131.3L322.5 132.3L319.3 135.5L316.5 143.6L315.5 144.1L312.5 134.5L310.5 131.3L307.5 127.9L306.5 125.5L305.5 93.5L305.1 92.5L302.6 91.5L297.4 91.5L295.3 92.5L295 93.5L294.2 119.5L293.5 124.8L292.5 126.7L291.5 126.7L290.5 125.5L287.5 115.6L286.5 114.3L284.5 123.1L282.8 126.5L280.6 128.5L277.5 130.2L275.5 130.9L273.5 130.6L272.2 128.5L271.3 124.5L270.5 105.9L268.5 102.1L266.5 100.6L265.5 100.4L263.8 102.5L260.5 111.6L257.1 125.5L255.5 129.2L254.5 130.3L253.5 130.4L252.5 129.5L251.6 127.5L249.7 115.5L248.5 113.1L247.5 113.2L246.5 114.6L244.5 121.5L245.6 124.5L252.5 132.5L257.1 140.5L264.1 169.5L267.5 188.1L270.9 201.5L274.6 210.5L278.2 229.5L284.8 243.5L287.4 245.5L296.9 249.5L303.5 251.5L310.5 252.9L317 255.5L328.5 258.9L347.5 268.5L351 271.5L360.9 288.5L363.3 290.5L367.4 292.5L372.5 294.5L374.5 294.7L377.5 288.4L379.5 286.4L380.5 286.9L383.5 290.6L384.5 290.8L386.5 289.8L390.5 286L391.3 286.5L392.6 289.5L393.9 297.5L393.6 302.5L392.2 307.5L394.5 310.5L400.5 314.5L401.5 314.5L402 313.5L402.6 302.5L403.5 296.6L404.5 293.4L405.5 292.1L406.1 292.5L407.5 295.3L408.3 299.5L409.4 315.5L411.1 319.5L413.5 321.7L414.5 321.8L417.5 319.9L419.5 319.3L422.5 321.1L427.5 326.6L428.5 326.9L434.5 320.7L442.3 317.5L443.8 315.5L444.6 312.5L444.4 302.5L445.3 297.5L446.5 295.8L452.5 290.4L453.5 290.5L454.5 292L455.5 295.5L456.7 315.5L458.5 319.5L460.5 320.9L464.5 320.4L467.5 320.8L472.5 322.1L476.5 324.2L481.5 321.7L483.5 321.2L489.5 322.4L494.5 320.7L499.5 320.9L500.9 320.5L502.6 318.5L504.1 314.5L504.2 311.5L502.8 300.5L503.3 296.5L504.5 294.9L505.5 295.8L506.7 300.5L506.8 305.5L506 312.5L506.7 315.5L508.4 317.5L509.5 317.8L513.7 317.5L516.3 316.5L518.4 314.5L519.2 312.5L519.4 304.5L521.5 299.1L523.5 291.9L525.1 281.5L527.5 253.7L528.5 249L529.5 247.8L530.5 249.9L531.7 257.5L534 295.5L534 302.5L532.9 313.5L533.3 316.5L534.5 317.9L535.5 317.6L538 313.5L539.3 296.5L540.5 292.5L541.5 291L542.5 291.2L543.5 293.4L544.4 299.5L544.1 311.5L544.7 315.5L547.5 320.7L548.6 321.5L550.5 321.7L553.5 319L555.1 314.5L555.8 292.5L557.5 268.1L558.5 265.1L559.5 267.3L560.5 272.8L562.8 291.5L563.9 314.5L564.5 317.2L565.5 318.4L566.5 317.7L567.5 314.5L567.9 299.5L569.5 289.6L570.5 286.9L571.5 286L573.5 286.3L573.5 357L571.5 357.4L570.5 357L567.5 353.8L566.5 353.3L565.5 353.6L563.5 356.7L559.5 365.9L558.5 367L557.5 367L555.5 363.4L552.5 351.3L550.5 348.2L548.5 347.7L546.4 349.5L542.5 361.3L540.5 364.8L539.5 365.1L537.9 362.5L535.1 351.5L533.5 349.3L532.5 349.5L531 352.5L528.5 364.1L527.5 365.8L526.5 366.1L523.9 363.5L520.5 356.4L519.5 356L518.8 356.5L515.5 360.3L512.5 360.1L510.5 357.9L507.5 351.3L505.6 349.5L503.5 348.5L500.5 348.1L495.5 352.4L494.5 352.2L490.5 348.7L488.5 348.2L486.5 349L483.5 352L482.5 352.1L477.5 345.1L475.5 343.8L473.5 344.7L471.5 347.1L467.5 356.7L466.5 357.9L465.2 357.5L461.5 352L459.5 351.6L457.5 352.9L453.1 361.5L451.5 363L450.5 363.3L449.5 362.8L448.5 361.4L445.4 352.5L443.6 350.5L442.5 350.6L440.5 354.5L438.5 362.9L437.5 365.2L436.5 365.6L434.7 361.5L432.3 349.5L430.5 345.7L428.5 344L426.5 346L425.4 348.5L423.1 359.5L421.2 364.5L420.9 367.5L421.7 373.5L422.5 374.8L426.5 375.8L436.5 380.1L442.2 383.5L450.6 387.5L453.5 388.4L461.5 388.5L466.5 389.6L474.5 390.1L499.5 395L512.5 395.6L515.5 394.5L516.9 385.5L517.5 383.5L518.5 383.1L519.8 386.5L521.1 393.5L521.5 394.5L523.5 395.3L529.5 394.9L534.5 395.5L538.5 395L544.5 395.9L551.5 396L557.5 395.4L573.5 396L573.5 520.5ZM534.6 98.5L535.5 97L535.9 93.5L534.5 92.9L531.8 93.5L533.5 98.4L534.6 98.5ZM88.5 304.7L88.5 299.8L88.5 304.7ZM164.4 316.5L164.5 315.3L163.5 313.8L163.5 317.2L164.4 316.5Z"/>
<path fill="#224be8" d="M573.5 520.5L88.5 520.5L88.5 398.8L205.5 398.6L206.5 397.9L207.1 395.5L207.3 381.5L206.2 347.5L205.5 339.7L204.5 339L201.5 345.1L199.5 347.1L198.5 346.8L193.5 342.1L190.5 343.3L187.5 346.5L184.5 354L183.5 354.3L181.8 348.5L179.5 343.7L177.5 341.2L176.5 340.9L175.5 341.4L172.9 346.5L170.9 357.5L169.5 360.6L168.5 360.1L167.5 357.7L165.4 347.5L163.5 344.4L162.5 344.4L160.9 346.5L159.7 349.5L157.3 361.5L155.5 364.4L154.5 364.6L153.5 363.5L152.5 360.6L150.5 345.8L148.5 341L146.5 338.6L144.5 340.5L141.9 345.5L138.5 358.8L136.5 361.8L135.5 361L134.7 358.5L132.5 346.6L130.8 343.5L129.5 342.6L128.5 343L126.5 345.8L123.5 355.2L122.5 356.3L121.4 355.5L117.4 345.5L114.5 341.8L113.5 342L112.5 343L111 345.5L108.5 355.1L107.5 356.3L104.7 345.5L102.5 341.1L101.5 340.2L99.5 340.9L92.5 347.3L90.5 347.5L88.5 346.3L88.5 323L96.9 325.5L101.5 328.6L105.5 324.9L107.5 323.8L109.5 324.2L113.5 326.7L114.5 326.6L119.5 322.4L121.5 322.1L128.5 323.1L136.5 318L138.5 317.7L140.5 319.6L146.5 328.2L147.5 328L157.5 318.8L158.5 318.5L162.3 323.5L163.5 324L168.5 319.2L169.5 319.4L174.5 326L176.5 327.7L178.5 327.2L181.5 324.9L184.5 323.6L189.5 323.2L193.5 324.8L194.5 324.7L200.5 320.7L201.5 321L202.5 322.2L204.5 326.3L205.5 324.3L205.7 318.5L205.5 310.7L204.5 304.9L202.5 308.9L201.5 309.2L199.9 305.5L199.2 300.5L199.9 297.5L200.5 297L201.5 297.1L203 298.5L204.5 301.6L205.5 298L206.5 289L208.7 242.5L209.5 206.5L208.6 204.5L204.9 200.5L198.5 185.8L188.5 173.5L177.1 156.5L172.8 140.5L171.5 131.5L170.5 131L167.6 158.5L166.5 161.5L165.5 162.1L164.3 160.5L162.6 153.5L160.5 135.6L158 121.5L157.8 108.5L159 82.5L158.5 71.4L155.5 75.1L154.7 77.5L155.2 100.5L154.9 114.5L153.8 124.5L151.5 130.9L150.5 131.7L149.5 131.7L147.8 130.5L144.5 126.7L143.1 123.5L141.7 116.5L139.8 94.5L138.5 87.1L137.8 86.5L136.5 86.5L130 88.5L129.1 89.5L129.1 103.5L128.1 113.5L125.3 122.5L124.1 124.5L122.5 125.6L121.5 125.3L120.1 123.5L118.7 117.5L117.9 106.5L118 93.5L117.4 92.5L115.5 92.1L105.5 92.1L103.8 92.5L103.1 93.5L101.8 122.5L100.5 130.3L98.5 135.1L94.5 141.3L92.5 142.6L88.5 143.1L88.5 17.5L90.5 17.5L90.7 19.5L92.1 20.5L105.5 20.8L109.3 20.5L110.5 19.9L111.1 19.5L111.3 17.5L120.5 17.5L120.9 20.5L126.5 22.5L130.5 21.5L132.3 20.5L133.3 19.5L133.9 17.5L190.8 17.5L191.2 27.5L192.8 28.5L194.5 28.8L204.5 29.3L210.5 28.7L216.5 29L219.6 28.5L220.5 27.9L221.2 26.5L221.3 17.5L235.1 17.5L235.3 27.5L238.5 28.7L245.5 28.2L250.5 29.1L252.5 30L257.5 34.7L258.6 34.5L259 32.5L259.7 17.5L269.3 17.5L269.5 25.5L270.5 33.9L270.7 17.5L276.9 17.5L277.6 28.5L278.5 32.9L279.5 33.9L280.5 32.3L281.1 28.5L281.7 17.5L289.6 17.5L289.3 33.5L289.4 34.5L290.5 35L291.8 34.5L292.5 31.8L293.6 17.5L369.2 17.5L369.5 21.7L370.5 24.8L371.5 22.4L371.7 17.5L554 17.5L554.9 34.5L555.9 35.5L558.5 36L561.8 35.5L562.5 34.5L561.2 17.5L573.5 17.5L573.5 92.4L569.3 91.5L557.5 91.2L547.6 91.5L544.8 92.5L544.8 121.5L543.5 127.3L542.5 128.6L541.5 129L538.9 127.5L537.5 123.5L539.7 93.5L539.4 92.5L536.4 91.5L519.5 92.5L514.5 91.7L509.5 91.9L506.8 92.5L504.5 95.2L503.5 95L501.7 92.5L498.5 91.7L489.5 92.2L475.4 91.5L472.7 92.5L472.2 93.5L470.5 104.3L468.5 93.5L467.5 92.4L464.1 92.5L463.6 93.5L461.5 121.7L460.5 126L459.5 127.7L458.5 128.1L453.5 126.1L451.8 123.5L450.4 115.5L448.9 93.5L448.5 92.5L444.8 91.5L414.5 91.5L409 92.5L408.5 93.5L409.1 107.5L408.9 120.5L407.8 126.5L406.5 128.4L405.2 126.5L404.5 119.5L404.8 104.5L405.9 93.5L405.3 92.5L401.5 91.5L394.6 91.5L392.4 92.5L389.9 117.5L388.7 124.5L386.5 128.7L382.5 131.2L380.5 131L379.5 130.1L378 126.5L376.8 93.5L376.4 92.5L373.5 91.7L365.5 91.7L362.6 92.5L362 93.5L358.5 116.7L357.5 121.4L356.5 122L355.8 114.5L355.5 93.5L354.5 92.1L351.5 91.3L348.6 91.5L347.1 92.5L345.6 111.5L344.5 117.1L343.5 117.8L341.5 114.9L339.2 106.5L337.5 96.3L336.5 94.1L335.5 94.4L332.5 98.8L328.5 107.7L324.5 112.4L321.5 114.5L320.5 116.7L318.7 125.5L317.5 127.9L316.5 128.6L315.5 128.4L314.5 127L313.7 122.5L314.1 114.5L316.2 96.5L316.1 93.5L314.5 92.4L308.5 92.2L301.5 91.1L295 91.5L293.1 92.5L292.7 93.5L292.5 99.8L291.5 104.1L290.9 93.5L290.4 92.5L286.5 91.6L282.2 92.5L277.4 117.5L275.9 121.5L274.5 122.4L273.5 119.8L272.9 109.5L272.1 105.5L270.5 102.5L265.6 96.5L263.5 92.7L261.5 92.2L259 92.5L257.6 93.5L256.5 96.1L254.3 92.5L250.5 92.3L249.2 93.5L241.2 117.5L241.6 119.5L243.8 123.5L254 136.5L256.8 141.5L263.9 171.5L266.5 186.5L270.3 201.5L274.1 210.5L277.7 229.5L284.2 243.5L286.7 245.5L296 249.5L311.5 253.9L329.5 259.9L347.5 269.3L349.8 271.5L359.6 289.5L364.6 292.5L378.5 299.3L392.6 310.5L401.5 316.8L403.5 317.7L406.5 316.8L411.5 323.2L413.5 325L415.5 324.6L418.5 322L420.5 321.7L423.5 323.6L428.5 329.9L429.5 329.3L432.5 324.6L434.5 322.6L437.5 321.4L443.5 322.1L449.5 316L451.5 314.7L452.5 314.9L453.5 315.8L457.5 322.2L459.5 323.9L460.5 324.1L464.5 322.4L467.5 322.5L470 323.5L474.5 327L475.5 327.2L479.5 324.1L482.5 322.9L484.5 323.1L489.5 325.5L495.5 322.4L501.5 323.5L504.5 322.2L511.5 320.6L517.5 321.8L519.5 321.6L527.5 314.6L531.5 320.7L533.5 322.8L535.5 322.4L539.5 318.8L541.5 318.3L543.5 319.2L547.5 324.1L549.5 325.1L551.5 324.1L553.5 321.8L556.4 316.5L557 312.5L557.5 292.3L558.5 286.1L559.5 285.2L560.5 288.5L561.5 295.9L562.2 316.5L563.5 320.7L564.5 322.2L565.5 322.6L567.7 320.5L569.7 315.5L569.8 302.5L570.5 297.1L571.5 295.2L573.5 295.5L573.5 352.5L571.5 352.7L570.5 352.2L566.5 348.6L564.5 349L562.5 352L559.7 359.5L558.5 361.5L557.5 361.7L556.5 360.5L552.8 348.5L551.5 346.2L549.5 344.7L547.5 345.3L546.5 346.4L541.5 357.6L540.5 358.5L539.2 357.5L535.5 348L533.5 346L532.5 346.2L530.5 349.5L527.5 359.5L526.5 360.2L524.5 357.6L521.5 350.4L519.5 348.8L517.5 349.4L513.5 353.8L512.5 354.1L510.5 352.3L507.5 347.8L504.5 345.8L501.5 345.3L495.5 348.9L490.5 345.4L488.5 345L483.5 348.5L482.5 348.7L480.5 347.2L475.5 341.3L474.5 341.3L472.5 343.2L466.5 351.7L465.5 351.6L461.5 347.8L460.5 347.3L458.5 347.7L456.5 349.7L453.5 355.9L451.5 358.5L450.5 358.6L449.5 357.6L445.5 348.5L443.5 346.9L442.5 347.1L440.5 349.5L437.5 357.6L436.5 358.2L432.5 346.6L430.5 342.7L428.5 340.8L427.5 341.6L425.4 345.5L421.5 356.8L420.5 357.4L419.5 357L419.2 357.5L418.9 360.5L420 370.5L421.6 375.5L427.5 376.8L452.5 388.7L474.5 391L500.5 395.6L573.5 396.6L573.5 520.5ZM517.5 124.8L516.5 125L515.5 123.5L515.4 119.5L516.5 113L518.5 106.3L519.5 109.5L519.5 117L518.7 122.5L517.5 124.8ZM527.5 125.9L526.5 125.3L525.7 121.5L525.7 116.5L526.5 111.7L527.5 111.8L528.8 118.5L528.6 123.5L527.5 125.9ZM433.5 123.5L433.1 120.5L433.5 118.3L433.9 121.5L433.5 123.5ZM168.5 309L167.5 308L165.2 301.5L164 292.5L165.5 244.5L166.5 233.3L167.5 227.5L168.5 225.6L169.5 228.5L170.6 240.5L172 291.5L170.9 302.5L169.5 307.8L168.5 309ZM528.5 311.1L527.5 311.3L526.5 309L525.6 304.5L525.5 299.5L527.5 278.9L528.5 272.1L529.5 271.3L531.3 287.5L531.6 297.5L530.5 306.4L528.5 311.1ZM158.5 307L157.5 302.9L157.4 299.5L158.5 292.9L159.6 293.5L160.5 298.5L159.6 305.5L158.5 307ZM129.5 304.8L128.5 304.3L127.4 300.5L127.5 295.4L128.5 293.6L129.5 295.3L130.2 299.5L130.2 302.5L129.5 304.8Z"/>
<path fill="#255ae9" d="M92.5 132.5L88.5 131.2L88.5 17.5L89 19.5L91.5 20.8L105.5 21.2L111.6 20.5L112.9 19.5L113.1 17.5L118.6 17.5L118.8 19.5L120.5 21.5L126.5 22.9L131.5 21.6L133.6 20.5L136.1 17.5L158.4 17.5L158.5 62.5L158 66.5L156.2 71.5L150.5 79.1L142.5 82.9L128.5 87.1L122.5 90.2L116.5 91.2L104.5 91.4L100.5 92.5L99.7 93.5L99.9 113.5L99 125.5L97.9 128.5L96.5 130.6L94.5 132.1L92.5 132.5ZM573.5 520.5L88.5 520.5L88.5 399.7L204.5 399.6L206.5 399.2L207.5 396.5L207.7 379.5L206.2 332.5L210.1 206.5L209.1 204.5L205.3 200.5L198.8 185.5L189 173.5L177.7 156.5L173.4 140.5L171.5 126.2L170.5 123.4L167.7 151.5L166.5 156.3L165.5 157.1L163.9 153.5L160 121.5L160.8 92.5L161.2 90.5L163.5 87.5L162.1 74.5L160.8 51.5L160.1 17.5L187.8 17.5L187.9 26.5L188.5 28.4L189.5 28.7L195.5 29.5L215.5 29.6L225.5 28.1L238.5 29.4L249.5 29.6L252.5 30.7L256.7 35.5L258.5 36.6L260.5 35.9L261.2 34.5L262 17.5L265.4 17.5L266.3 33.5L266.8 35.5L267.5 36.1L269.5 36.7L275.5 36.1L279.5 36.7L284.5 35.8L290.5 36.8L299.5 35.6L300.3 34.5L298.9 26.5L298.4 17.5L306.3 17.5L307 34.5L307.7 35.5L310.5 35.9L312.2 35.5L312.7 34.5L312.4 17.5L320.9 17.5L321.5 23L322.5 25.1L323.5 23.6L323.9 17.5L341.1 17.5L341.6 26.5L342.5 30.4L343.5 31.5L344.5 30.7L345.5 27.9L346.6 17.5L352.8 17.5L353.5 28.5L354.5 32.9L355.5 33.8L356.7 32.5L358 28.5L359 17.5L365.8 17.5L366.2 26.5L367.6 34.5L368.5 35.6L371.5 36.3L373.9 35.5L374.3 34.5L374.4 17.5L421.3 17.5L421.5 25.5L422.5 31.8L423.5 32.4L425.5 32.1L427.4 35.5L431.5 36.4L434.5 35.5L434.9 34.5L435.2 17.5L440.8 17.5L439.9 34.5L440.5 35.6L443.5 36.2L447.5 35.7L448.5 34.5L449.5 26.6L449.8 17.5L480.1 17.5L480.8 24.5L481.5 27L483.5 30.8L484.1 28.5L484.1 17.5L492.8 17.5L491.8 34.5L492.2 35.5L496.5 36.6L506.8 35.5L507.4 34.5L506.8 17.5L515.7 17.5L515.6 34.5L516.1 35.5L518.5 35.9L520.9 35.5L522 34.5L522.8 32.5L524 26.5L524.4 17.5L541 17.5L541.7 28.5L543.2 35.5L546.5 36.5L559.5 37.1L567.5 36.4L570 35.5L569.9 17.5L573.5 17.5L573.5 91.3L558.5 90.8L542.5 91.6L534.5 91L504.5 91.5L477.5 91L464.5 91.3L453.5 92.4L445.5 91.1L407.5 91.4L397.5 90.9L386.5 92.4L373.5 91.1L358.5 91.7L350.5 90.9L346.4 91.5L345.1 92.5L343.5 100.2L342.5 99.3L341.2 92.5L339.1 91.5L328.5 91.5L322.5 92L300.5 90.7L292.5 91.4L284.5 91.1L281.1 91.5L280.1 92.5L277.7 100.5L275.8 103.5L274.5 104.2L272.5 103L268.4 98.5L264.5 91.6L250.5 90.8L245.9 91.5L244.9 92.5L243.4 100.5L241.5 106.6L239.5 109.1L237.5 109.7L235.5 111.1L234 113.5L235.1 115.5L240.5 120.1L255.8 140.5L260.2 157.5L266 186.5L269.2 199.5L273.9 211.5L277.2 229.5L283.7 243.5L286 245.5L295.3 249.5L328.5 260L345.1 268.5L348.7 271.5L357.3 288.5L359.4 290.5L377.5 299.9L400.9 317.5L403.5 320.1L407.5 321L413.5 327.8L414.5 327.9L415.5 327.3L419.5 323.3L421.5 323.4L423.5 324.8L426.1 328.5L428.1 333.5L428.2 336.5L426.8 340.5L421.5 351L420.5 351.2L419.5 350.3L415.5 344.8L415 345.5L418.7 369.5L420.5 375.8L421.7 376.5L427.5 377.3L452.5 389.2L475.5 391.8L498.5 395.8L524.5 396.8L573.5 397L573.5 520.5ZM285.5 26L284.6 17.5L286.7 17.5L286.5 21.9L285.5 26ZM533.3 35.5L533.7 34.5L533.1 31.5L532.5 29.1L531.5 27.9L529.5 30.6L528.2 34.5L528.6 35.5L530.5 36.1L533.3 35.5ZM484.7 33.5L484.5 32.7L484.7 33.5ZM150.5 124.5L149.5 124.9L148.5 124L147 120.5L145.9 115.5L145.6 109.5L147 97.5L149.5 88.5L150.5 87.8L151.7 93.5L152.2 107.5L151.7 119.5L150.5 124.5ZM221.6 220.5L221.5 219L220.5 218.2L220.5 220.2L221.6 220.5ZM167.5 287.7L166.5 275.5L166.3 257.5L167.5 241.7L168.5 240.9L169.4 251.5L169.5 265.6L168.5 286L167.5 287.7ZM558.5 356.6L557.5 356.9L556.5 355.5L553.5 347.3L551.5 343.8L549.5 341.9L547.5 342.8L542.5 351L540.5 352.9L539.5 352.2L534.5 343.7L533.5 343.2L532.5 343.6L530.5 346.6L527.5 353.6L526.5 354.5L525.5 353.8L521.5 346.8L519.5 345.2L517.5 345.8L514.5 348.8L512.5 349.9L510.5 348.9L506.5 344.3L503.5 342.8L501.5 343.2L497.5 346.2L495.5 346.8L493.5 345.7L490.5 342.6L488.5 342.2L484.5 345.8L482.5 346.6L480.5 345.5L475.5 338.3L474.5 338L467.5 347.9L465.5 348.3L461.5 344.9L459.5 344.2L456.5 346.6L452.5 353.3L451.5 354.2L450.5 354L445.5 345.5L443.5 344.1L441.5 345.3L437.5 351.1L436.5 351.3L430.8 340.5L429.2 335.5L429.4 334.5L431.9 327.5L434.5 324.1L436.5 323.1L438.5 323L443.5 325.4L449.5 320.1L451.5 319.5L454.5 321L457.5 325L459.5 326.8L460.5 326.7L464.5 323.9L466.5 323.6L468.5 324.2L471.3 326.5L474.5 330.8L475.5 330.5L479.4 325.5L481.5 324.3L484.5 324.6L488.5 328.1L489.5 328.3L493.5 324.8L495.5 323.7L497.5 323.8L501.5 325.8L503.5 326.1L509.5 322.9L512.5 322.3L514.5 322.9L517.5 324.9L519.5 325.2L524.5 320.7L526.5 320.1L529.5 321.5L533.5 326.1L535.5 325.4L539.5 321.5L542.5 321.2L544.5 322.6L548.5 327.7L549.5 328L551.5 326.3L558.5 317.2L559.5 316.7L564.5 325.4L565.5 325.5L566.5 324.8L570.5 319.7L571.5 319.1L573.5 319L573.5 349.4L570.5 349.2L566.5 345.6L564.5 345.5L562.2 348.5L558.5 356.6ZM137.5 354.8L136.5 354.9L133.7 345.5L130.5 339.6L129.5 339.3L128.5 340.1L124.5 346.1L122.5 348.1L120.5 346.6L115.5 338.7L114.5 338L113.5 338.8L108.5 346.8L107.5 347.2L104.1 341.5L101.8 335.5L102 332.5L104.6 327.5L106.5 325.7L108.5 325.4L110.5 326.4L114.5 330.4L118.5 325.9L120.5 324.6L124.5 324.6L129.5 327.4L130.5 327.2L134.2 323.5L136.5 322.1L138.5 322L140.5 323.2L144 328.5L145 331.5L145.2 334.5L144.1 338.5L139.9 347.5L137.5 354.8ZM154.5 359.1L153.5 356.5L152.1 347.5L148.3 337.5L147.6 334.5L147.9 331.5L148.8 329.5L152.5 324.9L155.5 323.4L157.5 323.3L162.5 327.5L163.5 327.2L167.5 323.2L169.5 322.8L173 326.5L176.5 333.3L180.5 327.5L183.5 325.4L185.5 325.2L187.5 325.8L192.5 328.7L193.5 328.5L198.5 324.6L200.5 324.6L201.5 325.5L203.3 329.5L203.8 334.5L202.8 339.5L200.5 343.4L198.5 344L193.5 339L192.5 338.6L190.5 339.9L185.5 345.8L184.5 346.5L183.5 346.4L181.1 343.5L176.5 335.3L171.8 345.5L169.5 352.7L168.5 352.2L166.6 346.5L164.5 342.5L162.5 340.7L161.5 341.4L158 347.5L155.5 358.1L154.5 359.1ZM91.5 344.6L88.5 343.3L88.5 325.6L92.5 325.7L96.5 327.4L99 330.5L100.1 333.5L100 335.5L97.3 340.5L94.5 343.3L91.5 344.6Z"/>
<path fill="#2766ea" d="M93.5 121.8L92.5 122.4L91.5 121.3L88.5 111.2L88.5 20.6L93.5 21.5L107.5 21.5L112.5 20.8L115.5 19.5L116.5 19.6L120.5 22L126.5 23.3L132.6 21.5L134.5 20.5L137.2 17.5L157.9 17.5L157.9 61.5L156.9 67.5L155.2 71.5L151.5 76.1L145.5 80L127.5 86.4L119.5 89.9L115.5 90.7L96.5 91.5L94.1 92.5L93.7 94.5L94.7 105.5L94.9 113.5L94.5 118.5L93.5 121.8ZM573.5 520.5L88.5 520.5L88.5 400.4L205.5 400.4L207.3 399.5L207.9 397.5L208.2 380.5L207 331.5L210.8 206.5L205.7 200.5L199.2 185.5L189.5 173.5L178.2 156.5L173.9 140.5L171.5 120.7L170.5 118L169.6 120.5L167.4 147.5L166.5 151.3L165.5 152.4L164.5 150.5L163.2 143.5L161.2 123.5L162 92.5L164.5 87.5L161 43.5L160.6 17.5L186.9 17.5L187.1 27.5L187.5 28.9L188.5 29.5L204.5 30.2L225.5 29.4L249.5 30L252.5 31.2L256.5 36.2L258.5 37.4L263.5 36.7L269.5 37.6L290.5 37.6L303.5 37L311.5 37.3L318.5 36.2L323.5 36.9L327.6 36.5L328.7 35.5L328.7 34.5L327.5 26.7L327.1 17.5L338.7 17.5L339.1 35.5L339.7 36.5L342.5 37.1L347.7 36.5L349.5 35.1L351.1 36.5L353.5 37.1L362.5 36.9L370.5 37.6L375.5 37.2L381.8 35.5L382.6 32.5L385.5 30.4L387.5 26.7L389 21.5L389.4 17.5L393.8 17.5L394.4 35.5L395 36.5L397.5 37.1L405.5 36.8L406.6 36.5L407.1 35.5L406.1 17.5L419.4 17.5L419 35.5L419.5 36.7L421.5 37.2L446.5 37.5L451.1 36.5L451.8 33.5L452.2 17.5L460.6 17.5L460.1 25.5L458.6 35.5L459 36.5L461.5 37.2L464.5 37.1L465.8 36.5L466.1 35.5L465.1 17.5L476.9 17.5L477.4 35.5L478 36.5L479.5 37L496.5 37.6L511.5 36.9L517.4 37.5L531.5 37.5L538.5 36.9L544.5 37.5L559.5 37.8L570.5 37.4L572.8 36.5L573.5 35.4L573.5 90.8L477.5 90.6L453.5 91.2L444.5 90.6L397.5 90.5L386.5 91.2L371.5 90.6L357.5 91L350.5 90.5L343.5 91.4L336.5 90.8L284.5 90.7L279.5 91.5L276.6 99.5L275.5 101L273.5 101.7L271.5 100.7L268.5 97.5L265.5 91.4L262.5 90.8L246.5 90.4L242.5 91.5L241.4 97.5L240.1 101.5L235.5 106.9L231.9 112.5L234 115.5L239.9 120.5L255.3 140.5L259.6 157.5L265.4 186.5L268.7 199.5L273.2 210.5L276.7 229.5L283.2 243.5L285.5 245.5L294.6 249.5L327.5 260L345.7 269.5L348.3 272.5L356.9 289.5L377.5 300.7L399.7 317.5L403.5 322.1L407.5 322.9L408.5 323.5L413.5 330.8L414.5 331.1L417.6 326.5L419.5 324.7L421.5 324.5L423.5 325.8L425.8 329.5L427 335.5L426 340.5L423.5 345.5L421.5 347.9L420.5 348L414.5 340.3L413.5 340.7L412.7 342.5L417.5 369.5L419.7 376.5L427.5 377.8L452.5 389.7L474.5 392.1L498.5 396.2L523.5 397.3L573.5 397.4L573.5 520.5ZM381.5 32.1L379.5 30.8L378.5 28.6L377.5 22.7L377.3 17.5L382.6 17.5L382.4 31.5L381.5 32.1ZM511.5 30.5L510.5 29.5L509.6 25.5L509.1 17.5L513.3 17.5L512.8 26.5L511.5 30.5ZM573.5 33.3L573 17.5L573.5 17.5L573.5 33.3ZM92.1 102.5L92.4 94.5L92.3 93.5L91.5 93L90.6 101.5L91.5 103L92.1 102.5ZM222 241.5L224 235.5L224.7 225.5L222.3 218.5L218.5 213L217.5 212.4L217 213.5L217.1 218.5L218.3 232.5L220.5 240.5L221.5 241.9L222 241.5ZM558.5 351.7L557.5 351.9L556.5 350.9L549.5 338.7L548.5 338.9L542.5 348.2L540.5 349.2L538.5 347.4L534.5 340.8L533.5 340.3L532.5 341.1L528.5 348.2L526.5 350.1L524.5 348.5L519.5 342.1L517.5 343L513.5 347.1L511.5 347.4L509.5 345.9L505.5 341L503.5 340L497.5 344.8L495.5 345.2L493.5 343.9L489.5 338.7L488.5 338.9L484.5 344.1L482.5 345.1L481.5 344.9L478.9 342.5L476.8 338.5L476.1 334.5L476.6 331.5L478.5 327.5L481.5 325.2L484.5 325.9L488.5 331.3L489.5 331.7L493.2 326.5L495.5 324.9L498.5 325.4L503.5 329.3L505.5 328.3L509.5 324.3L512.5 323.7L514.5 324.5L518.5 328.3L519.5 328.2L523.5 323.6L526.5 322.1L529.5 323.5L533.5 329.2L534.5 329.2L539.5 323.2L542.5 322.8L544.5 324.3L548.5 331L549.5 331.4L554 324.5L557.5 321.2L559.5 321L560.5 321.9L564.5 328.2L565.5 328.1L570.5 322.1L573.5 321.7L573.5 347.4L570.5 347.1L566.5 343.2L565.5 342.5L564.5 342.6L558.5 351.7ZM452.5 349.9L451.5 350.5L450.5 350.3L445.5 342.9L443.5 341.4L442.5 341.9L437.5 347.9L436.5 348L434.5 346L431.8 340.5L430.8 335.5L431.8 329.5L434.5 325.3L436.5 324.2L438.5 324.4L443.5 328.4L444.5 328L448.5 323L451.5 321.6L454.5 323L458.5 328.9L459.5 329.6L460.5 329.2L463.5 325.8L465.5 324.8L468.5 325.3L470.7 327.5L472.8 332.5L473 335.5L471.9 339.5L469.5 344L467.5 346L465.5 346.3L460.5 341.6L459.5 341.2L457.5 342.8L452.5 349.9ZM137.5 347.8L136.5 347.5L134.5 344.1L131.7 337.5L130.7 333.5L132 329.5L133.8 326.5L135.5 324.9L137.5 324L139.5 324.5L141.6 326.5L143.1 329.5L143.8 333.5L143.3 337.5L142.2 340.5L139.5 345.4L137.5 347.8ZM154.5 347.8L151.5 343.1L149 336.5L149 332.5L150.5 328.4L153.5 325.7L156.5 325.4L158.5 326.7L161.5 331.4L162.5 332.1L167 325.5L168.5 324.7L170.5 325.3L173.3 329.5L174.3 334.5L173.3 339.5L170.5 345.3L169.5 346.4L168.5 346.4L162.5 336.4L161.5 336.9L156.5 346L154.5 347.8ZM122.5 344.8L120.5 343.7L118.9 341.5L117.1 337.5L116.6 334.5L117 331.5L118.4 328.5L120.5 326.4L122.5 325.8L124.5 326.1L126.5 327.6L128.9 331.5L129.3 333.5L129.1 335.5L126.8 340.5L124.5 343.7L122.5 344.8ZM199.5 342.1L198.5 342.1L196.5 340.5L194.7 337.5L193.9 334.5L194.3 331.5L196 328.5L197.5 327L199.5 326.4L201.1 327.5L202.1 329.5L202.8 334.5L201.7 339.5L199.5 342.1ZM92.5 342.7L90.5 342.4L88.5 341.1L88.5 327.8L91.5 326.9L93.5 327.3L95.7 328.5L97.2 330.5L98 333.5L97.8 336.5L96.5 339.5L94.5 341.6L92.5 342.7ZM108.5 344.1L107.5 344.2L105.5 342.2L103.9 338.5L103.2 335.5L103.5 332.5L104.5 329.5L106 327.5L107.5 326.6L109.5 327.1L111 328.5L113.1 333.5L112.2 338.5L110.5 341.8L108.5 344.1ZM184.5 344L182.5 343.2L181.2 341.5L179.3 337.5L178.9 334.5L179.2 332.5L180.5 329.3L182.5 327.2L184.5 326.5L186.5 327L188.4 328.5L190.2 331.5L190.6 333.5L190.2 336.5L188.7 339.5L186.5 342.5L184.5 344Z"/>
<path fill="#2972eb" d="M101.5 90.5L88.5 91.1L88.5 21.1L93.5 21.8L106.5 21.8L116.5 20.8L120.5 22.4L126.5 23.7L133.5 21.5L138 17.5L157.4 17.5L157.3 62.5L156 68.5L153.6 72.5L150.5 75.7L144.5 79.4L127.5 85.5L117.5 89.9L101.5 90.5ZM573.5 520.5L88.5 520.5L88.5 401L205.5 401.1L207.5 400.7L208.3 398.5L208.7 385.5L207.7 330.5L210.3 249.5L212.5 221.7L213.5 222.2L215.2 235.5L220.5 256.6L221.5 259L222.5 257.4L223.5 252.8L227.2 233.5L227.3 230.5L225.5 224.5L219.5 212.6L217.5 210.4L213.5 208.9L210.9 205.5L206.7 201.5L199.7 185.5L189.9 173.5L178.6 156.5L174.4 140.5L171.8 119.5L170.5 115.7L169.5 114.9L167.5 140.7L166.5 146.4L165.5 147.7L164.5 145.4L162.2 128.5L161.9 117.5L163 92.5L164.7 89.5L165 87.5L161.2 38.5L160.8 17.5L186.4 17.5L186.6 27.5L187.2 29.5L188.5 30.2L249.5 30.5L252.5 31.7L257.5 37.8L259.5 38.2L324.5 38L331.8 37.5L333.4 36.5L333.8 35.5L332.5 18.5L332.5 17.5L333.5 17.5L336 17.5L336.1 36.5L337.5 37.5L340.5 38L371.5 38.4L408.5 37.9L409.6 37.5L410.2 36.5L409.3 17.5L417.5 17.5L417.6 25.5L416.4 36.5L416.9 37.5L421.5 38.3L447.5 38.4L454.5 37.7L465.5 38.2L468 37.5L468.7 36.5L468 17.5L471.5 17.5L474.3 17.5L473.6 36.5L474.8 37.5L476.5 37.9L496.5 38.4L573.5 38.1L573.5 90.4L350.5 90.3L343.5 90.8L282.5 90.4L280.5 90.5L278.5 91.5L276.5 97.9L275.3 99.5L273.5 100.4L271.5 99.6L269.5 97.8L268 95.5L266.5 91.5L265.5 90.8L251.5 89.9L245.5 90L241.5 90.5L240 91.5L238.1 98.5L229.8 111.5L232.1 114.5L239.5 120.8L254.7 140.5L259.1 157.5L264.9 186.5L268.4 200.5L272.8 210.5L276.6 230.5L282.7 243.5L284.9 245.5L293.9 249.5L327.5 260.4L344.6 269.5L347.2 272.5L355.6 289.5L358.6 291.5L376.2 300.5L398.6 317.5L403.5 323.8L406.5 323.9L408.5 324.8L411.1 328.5L412.8 333.5L413 336.5L411.3 343.5L416.6 370.5L418.4 376.5L419.5 377.5L425.5 377.7L427.5 378.3L452.5 390.1L475.5 392.7L499.5 396.7L523.5 397.7L573.5 397.8L573.5 520.5ZM452.5 347.6L451.5 348L449.5 347L444.5 338.5L443.5 337.9L438.5 345.3L436.5 346L434.5 344.3L432.2 339.5L431.6 335.5L432.2 330.5L434.5 326.3L436.5 325.2L438.6 325.5L440.8 327.5L443.5 331.8L444.5 331.3L448.5 324.6L450.5 323.2L452.5 323.1L455.5 325.9L459.5 334L462.4 328.5L464.5 326.2L467.5 325.8L469.5 327.2L471.3 330.5L472 335.5L471.1 339.5L468.8 343.5L466.5 345L464.5 344.2L462.3 341.5L459.5 336.7L455.2 344.5L452.5 347.6ZM526.5 347.5L525.5 347.2L523.5 345.1L519.5 338.5L518.5 338.7L515.4 343.5L512.5 345.8L510.5 345.3L508.5 343.2L505.8 338.5L504.6 334.5L507 328.5L509.5 325.5L511.5 324.7L513.5 325.1L516 327.5L518.5 331.6L519.5 331.7L522.4 326.5L524.5 324.2L527.5 323.6L529.9 325.5L533.1 332.5L533.4 335.5L529.5 344.7L527.5 347.2L526.5 347.5ZM558.5 348.6L557.5 348.8L555.5 346.9L552.9 342.5L550.9 337.5L550.9 332.5L552.9 327.5L555.5 324L558.5 322.5L560.5 323.9L564.5 331.4L565.5 331L569.5 324.3L571.5 323.2L573.5 323.2L573.5 345.8L571.5 345.9L569.5 344.8L565.5 339.4L564.5 339.2L560.5 346.1L558.5 348.6ZM541.5 347L539.5 346.4L538 344.5L533.7 334.5L534.5 333.8L537.6 326.5L539.5 324.5L541.5 323.8L543.5 324.6L545.1 326.5L547 330.5L547.8 334.5L547.1 338.5L545.9 341.5L543.5 345.4L541.5 347ZM421.5 346L419.5 345.3L418.2 343.5L415.9 338.5L415.4 335.5L415.8 332.5L417.3 328.5L418.7 326.5L420.5 325.4L422.5 325.8L424.5 328L425.9 331.5L426.3 334.5L426.2 337.5L424.9 341.5L423.5 344L421.5 346ZM137.5 344.8L135.5 343.4L134 340.5L132.8 336.5L132.6 333.5L133.1 330.5L134.7 327.5L136.5 325.8L138.5 325.5L140.5 326.7L141.7 328.5L142.7 331.5L143 334.5L141.4 340.5L139.5 343.4L137.5 344.8ZM169.5 344L168.5 344L166.5 341.8L164.9 338.5L164.1 335.5L164.2 332.5L165.2 329.5L166.5 327.5L168.5 326.1L170.5 326.7L171.5 327.8L172.8 330.5L173.3 333.5L173.2 336.5L172.4 339.5L170.9 342.5L169.5 344ZM483.5 343.6L481.5 343.9L479.5 342.3L477.9 339.5L477.1 336.5L477.2 332.5L478.1 329.5L479.5 327.3L481.5 326.1L483.5 326.3L485 327.5L487 331.5L487.6 334.5L487 338.5L485.5 341.5L483.5 343.6ZM497.5 343.7L495.5 344L493.5 342.5L491.8 339.5L490.8 335.5L491.1 332.5L492.7 328.5L494.5 326.4L496.5 325.7L498.5 326.3L499.9 327.5L501.8 330.5L503.3 334.5L502.9 336.5L500.8 340.5L497.5 343.7ZM123.5 342.7L121.5 342.5L120.3 341.5L118.7 338.5L118 335.5L118.1 332.5L119.2 329.5L120.5 327.9L122.5 327L124.5 327.4L125.8 328.5L127.1 330.5L127.7 333.5L126.8 338.5L125.5 340.8L123.5 342.7ZM155.5 344.1L154.5 344.4L152.5 342.9L150.5 339.1L149.7 335.5L149.8 332.5L150.8 329.5L152.5 327.4L154.5 326.6L156.5 327L158 328.5L159.8 333.5L159.1 338.5L157.5 341.7L155.5 344.1ZM93.5 340.9L91.5 341.2L88.5 338.9L88.5 329.8L91.5 328.1L93.5 328.4L95.1 329.5L96.4 331.5L96.9 333.5L96.4 337.5L95.2 339.5L93.5 340.9ZM108.5 342.3L107.5 342.4L105.6 340.5L104 335.5L104.9 330.5L106.2 328.5L107.5 327.8L109.5 328.3L110.5 329.3L112 333.5L111.3 338.5L108.5 342.3ZM185.5 341.7L183.5 342.1L182.5 341.5L180.6 338.5L179.9 335.5L180.8 330.5L182.5 328.4L184.5 327.7L186.5 328.5L187.5 329.5L188.9 333.5L187.9 338.5L185.5 341.7ZM198.5 340.5L197.1 339.5L195.9 337.5L195.3 333.5L196.7 329.5L198.5 328L199.5 328.1L201.4 330.5L201.9 335.5L200.5 339.6L198.5 340.5ZM263.4 463.5L265.3 462.5L266.9 460.5L266.2 458.5L264.5 457.1L262.5 456.5L260.5 456.8L258 458.5L257.4 459.5L258.1 461.5L260.5 463.3L263.4 463.5ZM246.6 461.5L247.7 460.5L247.7 459.5L246.6 458.5L244.5 458.2L242.6 459.5L242.7 460.5L243.9 461.5L246.6 461.5Z"/>
<path fill="#2b7eec" d="M116.5 89.7L88.5 90.3L88.5 21.6L106.5 22.1L116.5 21.4L126.5 24L134.2 21.5L138.6 17.5L157 17.5L157 61.5L156.1 66.5L154.8 69.5L150.5 74.6L144.5 78.3L127.5 84.6L116.5 89.7ZM573.5 520.5L88.5 520.5L88.5 401.6L208 401.5L208.7 399.5L209.3 391.5L208.3 329.5L210.9 260.5L211.5 251L212.5 245.8L213.5 245.4L215.9 253.5L217.3 262.5L219.1 280.5L220.5 285.5L221.5 284.8L222.5 280.7L225.8 253.5L227.5 245.5L228.5 243L229.5 242.1L230.5 242.4L231.5 243.6L236.5 253.9L237.5 254.2L238.7 252.5L238.5 250.5L237.5 248.1L231 235.5L223.3 218.5L219.5 211.6L217.5 209.7L213.5 207.3L207.1 201.5L200.1 185.5L190.3 173.5L179.1 156.5L174.8 140.5L172.5 120.1L169.5 111.8L168.7 114.5L167.5 135.4L166.5 141.5L165.5 142.9L164.5 140.1L162.8 127.5L162.6 114.5L163.8 93.5L165.3 89.5L165.4 87.5L161.9 44.5L161.1 17.5L186 17.5L186.3 28.5L187.5 30.8L249.5 31L252.5 32.3L256.5 37.7L257.5 38.5L259.5 38.9L334.5 38.5L403.5 39.1L413.5 38.5L421.5 39.1L470.5 38.7L483.5 39.2L573.5 39.1L573.5 90.1L282.5 90.1L278.5 90.8L275.9 97.5L273.5 99.3L271.5 98.8L269.5 96.9L267.1 91.5L266.1 90.5L251.5 89.5L244.5 89.6L238.6 90.5L237.7 91.5L236.1 97.5L233.8 102.5L230.5 107.1L227.3 109.5L227.6 110.5L230.3 113.5L239.5 121.5L254.2 140.5L258.6 157.5L264.4 186.5L267.9 200.5L272.4 210.5L276.1 230.5L282.2 243.5L284.5 245.6L293.5 249.6L326.9 260.5L343.6 269.5L346.2 272.5L354.4 289.5L357.4 291.5L375.2 300.5L397.5 317.5L403.5 325.4L406.5 325.1L408.5 326L410.3 328.5L411.6 332.5L411.9 336.5L410.2 342.5L410.2 344.5L415.2 369.5L418 377.5L419.5 378.3L425.5 378.2L427.5 378.8L452.5 390.5L475.5 393.2L499.5 397L522.5 398.1L573.5 398.1L573.5 520.5ZM217.2 106.5L218 105.5L217.5 104.4L216.5 103.8L215.7 106.5L217.2 106.5ZM452.5 346L450.5 346.1L448.5 344L446.3 339.5L445.5 335.5L445.9 331.5L447.5 327.5L449.5 324.9L451.5 324.1L453.5 324.8L455.5 327.4L457.1 331.5L457.5 334.5L457.3 337.5L456.3 340.5L454.5 343.9L452.5 346ZM558.5 346.5L557.5 346.8L556.5 346.3L554.5 343.9L552.4 339.5L551.6 335.5L552 331.5L553.6 327.5L556.5 324.3L558.5 323.9L560.4 325.5L561.9 328.5L563.4 335.5L561.9 341.5L560.3 344.5L558.5 346.5ZM573.5 344.5L570.5 344.3L568.6 342.5L566.9 339.5L565.9 335.5L566.3 332.5L568.2 327.5L569.5 325.6L571.5 324.3L573.5 324.4L573.5 344.5ZM527.5 345.5L525.5 345.5L523.5 343.4L521.2 338.5L520.7 335.5L521.2 331.5L522.8 327.5L524.5 325.4L526.5 324.5L528.5 325.2L530.2 327.5L531.7 331.5L532.1 334.5L530.8 340.5L529.5 343.2L527.5 345.5ZM542.5 344.9L540.5 345.4L538.5 343.6L536.9 340.5L535.8 335.5L536.1 332.5L537.4 328.5L539.5 325.6L541.5 324.9L543.5 325.7L544.9 327.5L546.2 330.5L546.8 334.5L545.6 340.5L542.5 344.9ZM421.5 344.5L419.5 343.7L418 341.5L416.9 338.5L416.5 335.5L417 331.5L418.1 328.5L419.5 326.8L421.5 326.2L423.5 327.5L424.7 329.5L425.9 335.5L424.5 341L422.5 343.9L421.5 344.5ZM436.5 344.6L434.5 342.9L433.2 340.5L432.1 334.5L433.7 328.5L435.5 326.5L437.5 326L439.5 327.2L441 329.5L442 332.5L442.2 335.5L441.2 339.5L439.7 342.5L438.5 343.9L436.5 344.6ZM466.5 343.8L464.5 342.9L463.3 341.5L461.9 338.5L461.4 335.5L461.7 332.5L462.7 329.5L464.5 327.1L466.5 326.4L468.5 327.2L469.7 328.5L471 331.5L471.3 334.5L471.1 337.5L470 340.5L468.5 342.7L466.5 343.8ZM513.5 344L511.5 344.4L509.5 343.1L507.3 339.5L506.3 335.5L506.7 331.5L508 328.5L509.5 326.6L511.5 325.6L513.5 326.1L515 327.5L516.2 329.5L517.4 333.5L516.9 338.5L515.6 341.5L513.5 344ZM138.5 342.7L136.5 342.5L135.5 341.4L134.2 338.5L133.6 335.5L133.7 332.5L134.6 329.5L136.1 327.5L137.5 326.8L139.5 327.2L140.5 328.1L141.7 330.5L142.2 333.5L141.5 338.5L140.5 340.5L138.5 342.7ZM169.5 342.2L168.5 342.3L166.7 340.5L165 335.5L165.7 330.5L166.8 328.5L168.5 327.3L170.5 328L171.5 329.4L172.6 333.5L172 338.5L170.5 341.4L169.5 342.2ZM483.5 342.6L482.5 343L480.5 342.4L478.5 339.5L477.7 336.5L478.2 330.5L479.5 328.2L481.5 326.8L483.5 327.2L484.8 328.5L486.5 333.5L486.1 338.5L483.5 342.6ZM497.5 342.8L495.5 343L493.7 341.5L492.3 338.5L491.8 335.5L492 332.5L493 329.5L494.5 327.3L496.5 326.5L498.5 327.2L499.7 328.5L501.2 331.5L501.7 334.5L500.4 339.5L497.5 342.8ZM124.5 340.5L123.5 341.2L121.5 341L120.2 339.5L119.1 336.5L119.5 331.2L120.5 329.4L122.5 328.2L124.1 328.5L125.4 329.5L126.7 332.5L126.6 336.5L124.5 340.5ZM154.5 342.5L153.5 342.2L151.5 339.7L150.3 334.5L151.5 329.8L152.5 328.6L154.5 327.7L156.4 328.5L157.3 329.5L158.2 331.5L158.6 334.5L157.5 339.5L156.1 341.5L154.5 342.5ZM93.5 339.7L92.5 340L90.8 339.5L88.5 336.1L88.6 332.5L89.8 330.5L91.5 329.3L93.5 329.5L94.5 330.2L95.8 332.5L95.8 336.5L94.9 338.5L93.5 339.7ZM108.5 340.8L107.5 340.9L106.5 340.3L105.4 338.5L104.7 335.5L105.5 330.9L107.5 328.9L109.5 329.5L110.8 331.5L111.2 333.5L110.9 337.5L108.5 340.8ZM184.5 340.8L182.5 340L181.5 338.5L180.7 334.5L181.8 330.5L182.6 329.5L184.5 328.8L186.9 330.5L187.9 334.5L186.9 338.5L184.5 340.8ZM199.5 338.9L198.5 339L197.5 338.3L196.3 335.5L196.8 331.5L198.5 329.6L199.5 329.7L200.5 330.8L201.1 333.5L200.9 336.5L199.5 338.9ZM264 466.5L273.5 461.5L274.4 459.5L273.7 458.5L262.5 453.5L260.5 453.7L254.5 456.6L252.5 457L246.5 454.5L243.5 454.4L239.5 456.4L236.6 459.5L236.5 460.5L238.2 462.5L243.5 465.4L246.5 465.4L251.5 463.2L253.5 462.9L261.5 467L264 466.5ZM283.6 464.5L285.5 463.8L286.8 462.5L287.9 459.5L285.9 456.5L283.5 455.3L280.6 456.5L278.2 459.5L278.4 460.5L280 462.5L283.6 464.5ZM263.4 498.5L265.6 496.5L266.7 494.5L263.5 490.3L261.5 489.5L260.5 490L258.2 492.5L257.6 495.5L258.7 497.5L260.5 499L261.5 499.2L263.4 498.5ZM293.9 497.5L295.9 496.5L296.6 495.5L296.4 494.5L294.5 493.2L290.5 492.7L285.5 491.1L283.5 491.7L281.6 494.5L282.4 496.5L285.5 498.3L293.9 497.5ZM310.3 498.5L313.5 496.9L317.5 497.2L318.7 496.5L319.1 494.5L317.5 493L312.5 493.3L307.5 491.9L305.5 492.5L304.2 493.5L303.4 495.5L305.5 498.4L307.5 499.3L310.3 498.5Z"/>
<path fill="#2d89ec" d="M115.5 89.5L88.5 89.9L88.5 22L105.5 22.4L116.5 21.9L126.5 24.3L134.5 21.7L139.1 17.5L156.7 17.5L156.7 60.5L155.9 65.5L154.5 68.9L150.5 73.5L144.5 77.2L127.5 83.7L118.6 88.5L115.5 89.5ZM573.5 520.5L235.5 520.5L235.1 503.5L238.5 494.5L235.5 490.3L233.5 489L231.5 490.7L230.2 494.5L230.6 504.5L229.5 520.5L88.5 520.5L88.5 402L199.5 402L208.5 402.7L209.3 400.5L210 391.5L208.9 330.5L212.5 270.3L213.5 267L214.5 271.6L216.2 289.5L219.5 295.1L220.5 295.5L221.5 294.6L223.8 289.5L226.5 265.8L228.5 256.6L229.5 255.6L230.5 256.5L234.7 270.5L235.6 272.5L237.5 274.1L239.5 273.3L241.5 270.9L245.6 259.5L244.7 256.5L240.2 250.5L236.8 244.5L220 211.5L207.5 201.5L200.5 185.5L190.8 173.5L179.5 156.5L175.2 140.5L172.8 119.5L170.5 111.9L169.5 109.6L168.5 109L167.5 130.8L166.5 136.8L165.5 138.3L165.2 137.5L163.5 128.5L163.2 116.5L164 99.5L165.8 88.5L161.8 39.5L161.3 17.5L185.7 17.5L186 28.5L186.5 30.7L187.5 31.6L249.5 31.4L252.5 32.9L256.5 38.4L259.5 39.5L573.5 39.9L573.5 89.8L282.5 89.8L278.1 90.5L275.7 96.5L273.5 98.4L271.5 98L269.8 96.5L267.5 91.2L266.5 90.3L251.5 89.2L241.5 89.4L236.5 90.5L234.4 97.5L231.9 102.5L229.5 105.3L225 107.5L225.1 108.5L226.5 110.5L238.9 121.5L253.7 140.5L258 157.5L263.8 186.5L267.3 200.5L271.9 210.5L275.6 230.5L281.7 243.5L284.5 245.9L293.5 249.8L326 260.5L342.7 269.5L345.2 272.5L353.1 289.5L356.2 291.5L374.3 300.5L396.5 317.5L402.5 326.3L403.5 327L406.5 326.2L408.5 327.1L410.4 330.5L411.1 334.5L411 337.5L408.9 344.5L414.1 369.5L416.4 376.5L417.5 378.3L419.5 378.9L426.5 378.9L452.5 391L475.5 393.6L499.5 397.4L522.5 398.5L573.5 398.5L573.5 520.5ZM168.7 104.5L169.5 100.5L168.5 98.2L167.6 99.5L168.5 105.2L168.7 104.5ZM216.7 107.5L219.8 105.5L216.5 100.2L215.5 100.4L214.6 106.5L214.7 107.5L215.5 108.2L216.7 107.5ZM452.5 344.6L450.5 344.7L448.5 342.5L446.9 338.5L446.4 335.5L446.8 331.5L447.8 328.5L449.5 326.1L451.5 325.1L453.5 325.9L454.8 327.5L456.1 330.5L456.7 334.5L455.5 340.5L454.5 342.5L452.5 344.6ZM558.5 345L556.5 344.9L554.5 342.5L553 339.5L552.2 335.5L552.6 331.5L553.8 328.5L555.5 326.1L557.5 324.9L559.5 325.7L560.7 327.5L562.4 334.5L561.3 340.5L559.9 343.5L558.5 345ZM572.5 343.6L570.5 343.2L568.9 341.5L567.4 338.5L566.9 335.5L567.1 332.5L568.4 328.5L569.5 326.7L571.5 325.4L573.5 325.5L573.5 343.4L572.5 343.6ZM513.5 342.8L511.5 343.3L509.5 341.9L508.1 339.5L507.2 336.5L507.3 332.5L508.2 329.5L509.5 327.6L511.5 326.5L513.5 327.1L514.8 328.5L516.4 333.5L516.1 338.5L513.5 342.8ZM527.5 344.2L525.5 344.2L523.9 342.5L522.1 338.5L521.6 335.5L522 331.5L523.1 328.5L524.5 326.5L526.5 325.5L528.5 326.3L529.5 327.6L530.8 330.5L531.3 333.5L531.3 336.5L530.5 339.5L529 342.5L527.5 344.2ZM542.5 343.7L540.5 344L538.9 342.5L537.4 339.5L536.6 335.5L537.1 331.5L538.2 328.5L539.5 326.7L541.5 325.8L543.5 326.7L544.5 328L546.1 333.5L546.1 336.5L545.3 339.5L542.5 343.7ZM422.5 342.8L420.5 343.2L419.5 342.4L417.9 339.5L417.2 335.5L418.3 329.5L419.5 327.8L421.5 327L422.6 327.5L424.2 329.5L425.4 334.5L424.6 339.5L422.5 342.8ZM438.5 342.6L436.5 343.4L435.5 342.9L433.5 339.8L432.7 336.5L433.3 330.5L434.5 328.2L436.5 326.9L438.5 327.3L439.6 328.5L441.3 333.5L440.8 338.5L438.5 342.6ZM466.5 342.8L464.5 341.8L463.6 340.5L462.1 335.5L462.4 332.5L463.5 329.5L464.5 328.1L466.5 327.2L468.5 328L469.5 329.3L470.8 334.5L470.5 337.5L469.5 340.2L468.5 341.7L466.5 342.8ZM497.5 342L495.5 342.1L494.5 341.3L493 338.5L492.4 335.5L493.5 329.8L494.5 328.3L496.5 327.3L498.5 328.1L499.5 329.3L500.9 333.5L500.2 338.5L499.1 340.5L497.5 342ZM138.5 341.3L137.5 341.4L136.1 340.5L135 338.5L134.4 335.5L135.1 330.5L136.5 328.5L137.5 327.9L139.5 328.4L140.4 329.5L141.5 333.5L140.7 338.5L138.5 341.3ZM169.5 340.8L168.5 340.8L167.5 340.1L166.1 337.5L165.7 335.5L166.5 330.5L168.5 328.4L169.5 328.5L170.6 329.5L171.9 333.5L171.5 337.9L169.5 340.8ZM483.5 341.6L481.5 342.1L480.5 341.5L479.1 339.5L478.2 336.5L478.1 333.5L478.8 330.5L480 328.5L481.5 327.5L483.5 328L484.5 329.2L485.9 333.5L485.7 337.5L483.5 341.6ZM123.5 339.9L121.5 339.5L120.2 337.5L119.8 335.5L120.3 331.5L121.5 329.8L122.5 329.3L123.5 329.4L125 330.5L126 333.5L125.5 337.5L123.5 339.9ZM154.5 341L153.5 340.7L151.7 338.5L150.9 334.5L152 330.5L153.5 329.1L154.5 328.9L156.7 330.5L157.6 334.5L156.9 338.5L155.5 340.5L154.5 341ZM93.5 338.6L91.3 338.5L89.7 335.5L90.5 331.5L92.5 330.3L94.4 331.5L95.1 333.5L95 336.5L93.5 338.6ZM108.5 339.5L107.5 339.6L106.5 338.8L105.4 335.5L106.1 331.5L107.5 330L109.5 330.8L110.5 333.5L110.4 336.5L108.5 339.5ZM185.5 338.9L183.5 339.4L182.5 338.6L181.5 336.5L181.7 332.5L183.5 330.1L185.5 330.4L186.7 332.5L186.8 336.5L185.5 338.9ZM199.5 337L198.5 337.3L197.4 335.5L197.5 333L198.5 331.5L199.5 331.8L200 333.5L199.5 337ZM309.6 503.5L313.5 500.9L317.5 501.3L322.5 499.3L327.5 499.9L329.5 499.4L332 496.5L332.2 493.5L331.5 492.2L329.5 490.8L322.5 491.2L317.5 489.5L312.5 490.1L306.5 489.6L301.5 491.9L299.5 492L295.5 490.5L289.5 489.6L284.5 487.6L279.5 491.7L276.5 492.4L271.5 489.9L267.5 489.2L265.1 486.5L264.4 482.5L265 473.5L265.7 470.5L267.5 467.9L276.5 463.8L278.5 464.4L282.5 467.5L284.5 467.8L289.5 463.2L295.1 460.5L295.6 459.5L294.8 458.5L289.5 456.3L284.5 452.3L282.5 452L278.5 454.8L276.5 455.6L269 453.5L264.5 450.8L262.5 450.2L259.5 450.7L254.5 453.1L252.5 453.5L246.5 450.8L243.5 450.5L240.5 451.5L235.5 455L228.5 457.4L222.5 456L217.5 458L213.5 455.9L212.5 456.1L211.2 457.5L210.7 460.5L211.5 462.4L212.5 463.3L214.5 463.1L217.5 461.4L222.5 463.1L226.5 462.1L228.5 462.3L232.5 464.6L239.5 467.5L244.5 472.4L245.5 472.6L249.1 468.5L252.1 466.5L254.5 466.5L257.3 468.5L258.7 471.5L259.1 474.5L259.2 482.5L258.4 486.5L256.5 489.2L253.5 490.9L251.5 491L246.5 490L243.5 491.4L241.7 493.5L241.5 494.5L241.9 495.5L244.5 497.3L247.5 498L253.5 498.2L256.5 499.8L260.5 503.4L261.5 503.6L266.5 499.6L272.5 499.2L277.5 497.5L279.5 498L284.5 500.9L286.5 501.4L293.5 501.1L300.5 498.4L302.5 499.3L307.5 504.1L308.5 504.3L309.6 503.5ZM325.2 462.5L328.5 461.1L332.5 462L333.6 459.5L332.5 456.5L328.5 457.2L323.5 452.7L319.5 453.4L315.5 452.6L312.5 454L307.7 458.5L307.7 459.5L308.7 460.5L314.4 462.5L325.2 462.5Z"/>
<path fill="#2f94ec" d="M117.5 88.6L114.5 89.3L88.5 89.4L88.5 22.3L105.5 22.6L116.5 22.3L126.5 24.6L134.5 22.1L139.5 17.5L156.4 17.5L156.3 60.5L155.8 64.5L154.5 67.7L150.5 72.4L144.5 76.1L126.5 83.3L117.5 88.6ZM573.5 520.5L330.1 520.5L330.8 506.5L335.4 495.5L334.9 491.5L332.5 486.7L330.5 485.5L322.5 487.5L317.5 486.4L312.5 487.4L307.5 487L301.5 489.4L299.5 489.4L290.5 486.7L288.8 485.5L287 481.5L286.3 474.5L287.2 469.5L289.5 466.3L291.5 465.2L301.5 462.2L315.5 465.2L327.5 466L332.5 467.9L333.5 467.4L335.4 463.5L335.9 459.5L335.1 453.5L333.7 450.5L332.5 450L328.5 450.4L323.5 448.7L314.5 448.8L310.4 450.5L304.5 455L301.5 455.7L290.5 453.2L285.5 449.8L283.5 449.1L281.5 449.3L277.5 451.7L275.5 452L268.5 450.1L263.5 448L261.5 447.8L252.5 450L246.5 448.2L242.5 448.1L234.5 451.3L230.5 452L228.5 452L222.5 450.3L217.5 451L213.5 450.2L212.2 450.5L211.1 451.5L209.5 455.3L208.6 459.5L211.3 471.5L211.3 494.5L212.9 506.5L213.2 520.5L88.5 520.5L88.5 402.4L203.5 402.5L207.4 403.5L209.5 405.8L211 391.5L209.9 360.5L209.6 330.5L211.5 312.7L212.5 308L213.5 306.2L214.5 306.6L217.5 311L219.5 311.8L220.5 311.3L222.5 308L225.5 299.2L226.5 297.3L227.5 296.8L229.5 298L232.5 297.4L238.5 298.1L239.9 299.5L242.5 304.5L243.5 303.9L245 293.5L244.2 289.5L244.4 285.5L246 273.5L247.5 269.1L248.5 267.9L249.5 267.7L251.5 270.1L251.6 269.5L249.4 261.5L239.2 247.5L220.4 211.5L218.6 209.5L213.5 206.1L207.9 201.5L201 185.5L191.2 173.5L179.5 155.5L175.5 139.5L173.3 119.5L169.8 108.5L169.9 99.5L166.6 93.5L166.1 91.5L161.9 38.5L161.5 17.5L185.4 17.5L185.7 28.5L186.5 31.9L187.5 32.6L190.5 32L249.5 32.1L251.5 32.7L252.5 33.5L256.5 39L259.5 40.2L573.5 40.6L573.5 89.5L281.5 89.6L277.4 90.5L275.5 95.8L274.5 97.1L272.5 97.7L269.7 95.5L267.6 90.5L266.5 89.9L251.5 88.9L241.5 89L236.6 89.5L234.7 90.5L232.8 97.5L230.5 101.5L228.5 103.4L224.5 105L222.5 105.1L220.5 103.5L216.5 96.3L215.5 95.3L214.4 98.5L213.9 107.5L214.5 109.7L218.5 107L220.5 106.6L222.5 106.9L226.9 111.5L237.5 120.6L253.1 140.5L257.5 157.5L263.3 186.5L266.8 200.5L271.5 210.5L275.2 230.5L281.2 243.5L284.5 246.2L292.5 249.7L325.2 260.5L341.7 269.5L344.1 272.5L351.9 289.5L355 291.5L370.5 298.8L374.9 301.5L395.4 317.5L402.5 328.1L403.5 328.6L406.5 327.2L408.5 328.2L410.1 331.5L410.6 335.5L410.1 338.5L408 342.5L407.7 344.5L412.9 369.5L416.5 378.7L418.5 379.5L426.5 379.4L452.5 391.4L475.5 393.9L499.5 397.8L522.5 398.9L573.5 398.9L573.5 520.5ZM165.5 134.1L164.3 129.5L163.7 119.5L164.3 104.5L165.5 97.7L166.5 99.6L167.4 106.5L167.6 117.5L167 129.5L166.5 132.7L165.5 134.1ZM252.6 272.5L252.5 271.1L252.6 272.5ZM253.6 276.5L253.5 274.3L253.6 276.5ZM254.5 280.5L254.5 277.7L254.5 280.5ZM230.5 290.5L228.5 290.5L227.6 289.5L228.5 284.2L229.5 282.3L230.5 284.1L231.6 288.5L231.5 289.6L230.5 290.5ZM451.5 343.6L449.5 342.5L448.5 340.9L447.1 335.5L447.3 332.5L448.5 328.6L449.5 327.2L451.5 326.1L453.5 327L454.6 328.5L455.7 331.5L456.1 335.5L454.5 341.1L453.5 342.5L451.5 343.6ZM527.5 343L526.5 343.2L524.5 342L523.1 339.5L522.3 335.5L523.3 329.5L524.5 327.6L526.5 326.5L527.5 326.7L529.3 328.5L530.7 333.5L530.7 336.5L529.9 339.5L527.5 343ZM558.5 343.6L556.5 343.6L554.6 341.5L553.3 338.5L552.8 335.5L553.9 329.5L555.5 327L557.5 325.9L559 326.5L560.4 328.5L561.6 334.5L560.9 339.5L558.5 343.6ZM572.5 342.6L570.5 342.1L569.5 341.2L568.1 338.5L567.5 335.5L568.6 329.5L569.8 327.5L571.5 326.4L573.5 326.5L573.5 342.4L572.5 342.6ZM513.5 341.7L512.5 342.3L510.5 341.9L508.7 339.5L507.8 336.5L507.8 333.5L508.5 330.5L509.6 328.5L511.5 327.3L513.5 328L514.5 329.2L515.8 333.5L515.3 338.5L513.5 341.7ZM542.5 342.6L540.5 342.8L539.5 342L538.1 339.5L537.3 335.5L538.4 329.5L539.5 327.8L541.5 326.7L542.5 327L544.1 328.5L545.6 333.5L545.1 338.5L544.3 340.5L542.5 342.6ZM422.5 341.8L420.5 342.1L419.5 341.1L417.8 336.5L418.5 330.5L419.8 328.5L421.5 327.8L423.6 329.5L425 334.5L424.5 338.5L422.5 341.8ZM438.5 341.5L437.5 342.2L435.5 341.8L434 339.5L433.2 336.5L433.9 330.5L435.1 328.5L436.5 327.6L438.5 328.3L439.5 329.5L440.7 333.5L440.5 337.5L438.5 341.5ZM467.5 341.6L465.5 341.6L464.5 340.7L463.3 338.5L462.8 335.5L463.6 330.5L465.1 328.5L466.5 327.9L467.5 328.1L468.9 329.5L470.2 333.5L469.7 338.5L467.5 341.6ZM483.5 340.6L481.5 341.3L480.5 340.6L478.6 336.5L479 331.5L479.9 329.5L481.5 328.3L483.5 328.9L485.2 332.5L485.1 337.5L483.5 340.6ZM497.5 341.1L495.5 341.2L494.5 340.2L493 335.5L493.8 330.5L495.3 328.5L496.5 328L497.5 328.2L498.9 329.5L500.2 333.5L499.9 337.5L499 339.5L497.5 341.1ZM138.5 339.9L137.5 340L136.5 339.3L135.1 335.5L135.7 331.5L137.5 329.2L139.5 329.8L140.8 333.5L140.5 337.2L138.5 339.9ZM155.5 338.8L154.5 339.5L153.5 339.3L151.7 336.5L151.9 332.5L153.5 330.3L154.5 330.1L155.5 330.7L156.5 332.8L156.6 336.5L155.5 338.8ZM169.5 339.4L168.5 339.4L167.5 338.6L166.4 335.5L167 331.5L168.5 329.7L169.5 329.8L170.5 330.9L171.2 333.5L171.2 336.5L169.5 339.4ZM108.5 338.1L107.5 338.2L106.8 337.5L106.1 335.5L106.5 332.5L107.5 331.3L108.7 331.5L109.7 333.5L109.6 336.5L108.5 338.1ZM123.5 338.6L122.5 338.6L121.5 337.8L120.7 335.5L121 332.5L122.5 330.6L123.5 330.7L124.5 331.5L125.2 333.5L125 336.5L123.5 338.6ZM184.5 338.1L182.9 337.5L182.2 335.5L182.6 332.5L183.5 331.4L184.5 331.2L185.7 332.5L186.1 334.5L185.9 336.5L184.5 338.1ZM92.5 337.6L91.1 336.5L90.8 334.5L91.3 332.5L92.5 331.7L93.7 332.5L94.3 334.5L93.9 336.5L92.5 337.6ZM226.5 520.5L218.8 520.5L218.2 503.5L220.4 494.5L217.2 489.5L216 486.5L215.4 476.5L215.8 471.5L217.5 468.6L218.5 468.3L222.5 469.3L225.5 467.6L227.5 467.2L229.6 468.5L230.7 472.5L229.6 484.5L227 494.5L227.6 504.5L226.5 520.5ZM278.5 488.8L276.5 489L274.2 487.5L272.3 484.5L271.6 481.5L272 471.5L273.8 468.5L276.5 466.9L278.5 467.6L280 469.5L281.4 475.5L281.4 484.5L280.5 486.8L278.5 488.8ZM452.2 498.5L452.8 496.5L451.5 495.1L449.5 495.4L448.4 496.5L448.3 497.5L449.5 498.8L450.5 499.1L452.2 498.5ZM286.5 520.5L263.5 520.5L264.5 508.5L265.3 505.5L266.5 503.6L268.5 502.7L272.5 502.8L277.5 500.9L279.5 501.1L281.9 502.5L284.6 505.5L286 508.5L287.1 517.5L287.2 520.5L286.5 520.5ZM303.5 520.5L295.3 520.5L295.6 506.5L297.1 503.5L299.5 501.9L301.7 502.5L303.5 505.8L304.1 520.5L303.5 520.5ZM257.5 520.5L239.2 520.5L239.4 507.5L240.5 503.9L242.5 503.4L247.5 504L252.5 503.1L254.9 504.5L256.2 506.5L257.1 510.5L257.8 518.5L257.9 520.5L257.5 520.5ZM317.5 520.5L313.1 520.5L313.5 511.8L314.5 508.7L315.5 509.3L317 513.5L317.9 519.5L318 520.5L317.5 520.5Z"/>
<path fill="#319fec" d="M116.5 88.6L88.5 89.1L88.5 22.7L116.5 22.7L126.5 25L134.5 22.4L140 17.5L156.1 17.5L156 59.5L155.6 63.5L154.5 66.5L151.5 70.4L148.5 72.7L142.5 76L126.5 82.5L116.5 88.6ZM573.5 520.5L334 520.5L334.6 506.5L337.3 494.5L335.7 485.5L334.8 476.5L337.2 462.5L337.3 458.5L336.4 451.5L334.9 448.5L333.5 447.5L328.5 447.6L323.5 445.8L319.5 446.4L315.5 445.9L313.5 446.3L304.5 450.4L301.5 451L290.5 449.7L283.5 446.7L281.5 446.8L277.5 448.7L275.5 448.9L268.5 447.7L263.5 445.1L261.5 444.7L252.5 447.5L243.5 445.1L233.5 448.6L229.5 448.7L222.5 447.5L217.5 447.9L213.5 447.4L211.5 447.9L209.9 449.5L207.4 459.5L209.1 470.5L209.4 494.5L210.7 520.5L88.5 520.5L88.5 402.8L205.5 403.2L207.4 404.5L207.8 405.5L208 427.5L208.5 430.1L209.5 430.5L210.5 429.5L211 427.5L211.5 397.8L212.5 395.4L213.5 394.8L216.5 394.6L217.5 393.9L218.4 392.5L218.7 390.5L217.5 382.9L216.7 381.5L215.5 381.9L213.5 383.8L212.5 381.6L211.5 373.3L210.4 334.5L210.9 328.5L212.5 322.2L213.5 321.2L214.5 321.6L216.5 323.9L218.5 325L220.5 323.9L224.5 318.9L225.5 318.7L228.5 322.7L229.5 323.2L234.5 320.9L239.5 322.5L242.5 322.7L245.9 320.5L250.5 313.4L253.6 316.5L255.5 317.6L257.5 316.5L260.5 313.5L263.5 315.5L263.5 312.9L259.5 290.6L254.5 272.2L250.4 261.5L241.6 250.5L239.1 246.5L220.9 211.5L219.2 209.5L208.3 201.5L201.4 185.5L191.5 173.3L181 157.5L179.6 154.5L175.9 139.5L173.9 120.5L170.2 107.5L170.5 99.7L166.6 90.5L162.1 37.5L161.7 17.5L185.1 17.5L185.5 29.6L186.5 33.2L187.5 33.6L190.5 32.9L249.5 32.9L251.5 33.4L252.5 34.3L256.5 39.7L259.5 40.8L336.5 40.8L366.5 41.4L573.5 41.4L573.5 89.3L281.5 89.3L277.5 89.9L276.8 90.5L275.1 95.5L273.5 96.9L272.5 97.1L270.2 95.5L268.1 90.5L266.5 89.6L251.5 88.6L240.5 88.7L235.5 89.2L233.5 90.1L231.5 96.5L229.8 99.5L227.5 101.5L223.5 102.9L221.5 102.2L219.5 99.4L216.6 90.5L215.5 90L214.5 90.4L213.4 98.5L213.2 107.5L213.5 110.8L214.5 110.7L216.6 108.5L218.5 107.4L220.5 107.1L222.5 107.8L236.9 120.5L252.6 140.5L256.7 156.5L262.8 186.5L266.3 200.5L271.1 210.5L274.7 230.5L280.8 243.5L283.5 245.9L292.5 250L324.4 260.5L340.7 269.5L343.1 272.5L349.4 287.5L350.7 289.5L353.8 291.5L370.9 299.5L375.3 302.5L394.4 317.5L402.5 330L403.5 330.3L406.5 328.3L408.5 329.4L409.8 332.5L409.9 336.5L409 339.5L406.4 342.5L406.4 344.5L411.8 369.5L414.8 377.5L416.1 379.5L418.5 380L426.5 379.9L452.5 391.8L475.5 394.3L499.5 398.1L522.5 399.2L573.5 399.3L573.5 520.5ZM165.5 130L164.5 124.9L164.4 119.5L164.5 112.2L165.5 104.5L166.6 107.5L166.9 118.5L166.5 128.1L165.5 130ZM249.5 290.1L248.5 289.7L248.1 288.5L248.5 285.2L249.5 284.2L250.6 288.5L250.5 289.5L249.5 290.1ZM452.5 342.2L450.5 342.1L449.5 341.2L448.2 338.5L447.7 335.5L447.8 332.5L448.8 329.5L450.4 327.5L451.5 327.1L453.8 328.5L454.9 330.5L455.5 333.5L455 338.5L454.1 340.5L452.5 342.2ZM527.5 341.9L525.5 341.8L524.5 340.7L523.4 338.5L522.8 335.5L523 332.5L524 329.5L525.5 327.7L526.5 327.4L527.5 327.6L529.2 329.5L530.2 333.5L529.7 338.5L527.5 341.9ZM557.5 342.7L555.5 341.6L554.5 340.2L553.2 335.5L553.5 332.5L554.4 329.5L555.5 328L557.5 327L558.7 327.5L560.1 329.5L561 335.5L559.8 340.5L558.5 342.3L557.5 342.7ZM572.5 341.6L570.5 341.2L569.5 340.1L568.1 335.5L568.8 330.5L569.9 328.5L571.5 327.4L573.5 327.6L573.5 341.4L572.5 341.6ZM437.5 341.2L435.5 340.8L434.6 339.5L433.6 335.5L434.4 330.5L436.5 328.4L437.5 328.5L438.7 329.5L440.1 333.5L439.6 338.5L437.5 341.2ZM513.5 340.6L512.5 341.3L510.5 340.9L509.4 339.5L508.4 336.5L508.3 333.5L509.1 330.5L510.5 328.6L511.5 328.1L513.5 329L515.1 332.5L515 337.5L513.5 340.6ZM542.5 341.6L540.5 341.7L539.5 340.7L538.4 338.5L537.8 335.5L538.6 330.5L539.8 328.5L541.5 327.6L542.5 327.9L544 329.5L545.1 333.5L544.6 338.5L542.5 341.6ZM422.5 340.8L421.5 341.3L420 340.5L418.3 336.5L418.4 333.5L419.2 330.5L420.5 328.8L421.5 328.6L423.5 330.2L424.6 334.5L423.9 338.5L422.5 340.8ZM467.5 340.6L465.5 340.6L464.5 339.5L463.3 335.5L464.3 330.5L465.5 329L466.5 328.7L468.5 329.9L469.7 333.5L469.5 337.5L467.5 340.6ZM483.5 339.6L482.5 340.3L480.5 339.7L479.1 336.5L479.5 331.5L480.5 329.7L481.5 329.1L483.5 329.9L484.6 332.5L484.8 336.5L483.5 339.6ZM496.5 340.5L494.5 339.1L493.5 335.5L494.4 330.5L496.5 328.8L497.5 329.1L498.8 330.5L499.8 334.5L498.9 338.5L497.5 340.2L496.5 340.5ZM138.5 338.4L137.5 338.4L136.5 337.3L136 334.5L136.9 331.5L137.5 330.8L138.5 330.7L139.5 331.7L140.1 334.5L139.9 336.5L138.5 338.4ZM169.5 337.8L168 337.5L167.2 335.5L167.5 332.5L168.5 331.2L169.5 331.4L170.5 333.7L170.5 335.9L169.5 337.8ZM123.5 336.9L122.5 336.9L121.7 335.5L122.5 332.5L123.5 332.4L124.3 334.5L123.5 336.9ZM154.5 337.8L153.5 337.7L152.4 335.5L152.5 333.5L153.5 331.9L154.5 331.8L155.6 333.5L155.5 336.5L154.5 337.8ZM108.5 336.2L107.5 336.4L107.5 333.4L108.5 333.5L108.5 336.2ZM184.5 336.3L183.3 335.5L183.5 333.8L184.5 333.5L184.5 336.3ZM236.8 392.5L237.8 390.5L239.5 373.4L242.7 362.5L242.8 360.5L241.1 356.5L238.5 353.8L230.5 352.5L229.5 353.4L228.8 355.5L228.1 360.5L228.5 390.5L229.4 392.5L230.5 393.1L234.5 393.2L236.8 392.5ZM256.5 395.5L258.3 393.5L258.9 391.5L258.5 376.5L257.4 363.5L256.5 360.5L255.5 359.2L254.5 359L251.5 360.5L248.5 360.8L247.3 361.5L246.3 363.5L246.3 365.5L248.7 390.5L249.6 392.5L253.3 395.5L255.5 396L256.5 395.5ZM301.5 486.7L298.5 486.1L291.7 481.5L290.5 479.8L289.5 476.5L289.5 472.5L290.5 469.9L292 468.5L299.5 465.3L302.5 464.8L321.5 468.4L326.8 470.5L328.7 472.5L329.3 474.5L328.8 477.5L326.6 480.5L323.5 482.7L321.5 483.4L316.5 483.2L312.5 484.5L306.5 484.4L301.5 486.7ZM452.2 501.5L457.4 497.5L457.6 496.5L453.9 493.5L451.5 492.3L449.5 492.4L445.5 493.8L443.6 495.5L443.1 496.5L443.5 498.5L445.5 500.5L449.5 501.9L452.2 501.5ZM470.2 499.5L475.5 499.5L477.5 498.8L478.4 497.5L478.1 495.5L477.1 494.5L475.5 494.1L471.5 494.6L466.5 494.3L458.7 496.5L458.8 497.5L465.5 499.7L470.2 499.5ZM281.5 520.5L279.1 520.5L279.5 512.1L280.5 512.4L281.5 516.5L281.5 520.5Z"/>
<path fill="#33abeb" d="M115.5 88.5L88.5 88.7L88.5 23.1L115.5 23.1L126.5 25.4L134.5 22.8L140.4 17.5L155.8 17.5L155.8 58.5L155.5 62.5L154.5 65.3L151.5 69.2L148.5 71.6L142.5 75L126.5 81.6L117.9 87.5L115.5 88.5ZM573.5 520.5L336.7 520.5L337.1 505.5L338.9 495.5L337 478.5L337.2 471.5L338.6 460.5L337.8 451.5L336.9 448.5L334.1 443.5L332.5 438.7L330.5 443L329.5 443.6L328.2 442.5L326.2 423.5L324.5 414L321.9 406.5L318.3 404.5L313.5 404.1L312.5 404.5L312.2 405.5L310.5 442.5L309.1 445.5L305.5 447.5L302.5 448L295.5 447.7L290.5 447.1L287.2 445.5L285.7 443.5L283.5 433L281.5 428.6L280.5 429.2L279.8 432.5L279.3 443.5L278 445.5L276.5 446.2L269.5 444.6L268.5 443.9L265.5 434.7L264.5 433.1L262.5 432L259.5 432.8L256.5 434.4L254.9 436.5L252.5 442.1L251.5 442.1L248.5 437.5L246.5 435.8L242.5 434.5L240.5 434.5L238.7 437.5L236.6 444.5L233.5 446L229.5 445.9L225.6 444.5L223.9 442.5L222.5 438.5L221.5 437.1L219.5 436.4L218.5 437.4L217.5 437.4L214.5 424.6L214.1 416.5L214.8 413.5L217.5 407.3L219.4 399.5L220.7 397.5L222.5 396.1L224.5 395.8L229.5 398.4L235.5 398.5L237.5 398.2L242.5 395.7L244.5 395.7L250.2 398.5L254.5 403L255.5 403.2L256.5 402.5L259.5 398L261.5 396.9L265.5 398.2L272.5 397L278.5 398.6L280.5 398.1L285.5 394L288.5 394.8L289.2 394.5L287.5 385.6L285.8 382.5L278.5 358.8L275.5 352.3L274.5 353L272.5 356.9L271.5 357.2L266.5 353.6L264.5 353.5L261.5 354.5L256.5 351.4L251.5 351.6L246.5 350.7L238.5 346.9L233.5 345.6L229.5 343.2L227.5 345L224.5 350L223.5 349.9L222.3 347.5L221 342.5L220.9 337.5L222.2 332.5L224.5 329.2L225.5 329.2L228.5 331.7L229.5 331.8L234.2 328.5L239.5 328.4L242.5 327.7L250.5 323.5L255.5 324.4L260.5 323.5L265.5 324.9L266.5 324.3L266.7 323.5L266.5 320.4L260.5 291L254.6 270.5L250.5 260.5L240.2 247.5L221.3 211.5L219.5 209.4L208.8 201.5L201.9 185.5L191.5 172.6L180.4 155.5L176.5 140.4L174.1 119.5L170.8 108.5L170.9 99.5L167.1 90.5L162.2 37.5L161.8 17.5L184.8 17.5L185.1 28.5L186.5 34.5L191.5 33.8L249.5 33.8L251.5 34.3L252.5 35.1L256.5 40.4L259.5 41.4L337.5 41.5L366.5 42.1L573.5 42.1L573.5 89L281.5 89.1L277.5 89.5L276.5 90.2L274.5 95.4L272.5 96.4L270 94.5L268.5 90.4L266.5 89.2L251.5 88.3L239.5 88.4L232.2 89.5L231.3 90.5L230.4 94.5L228.9 97.5L226.5 99.5L223.5 100.6L221.5 99.7L220.5 98.3L217.6 89.5L215.5 89.1L213.8 89.5L213.3 90.5L212.4 101.5L212.6 110.5L213.5 112.3L217 108.5L218.5 107.7L220.5 107.5L222.5 108.4L236.3 120.5L252.1 140.5L256.5 157.8L262.2 186.5L265.7 200.5L270.6 210.5L274.2 230.5L280.2 243.5L283.5 246.2L291.5 249.9L323.5 260.5L339.7 269.5L342.1 272.5L348.2 287.5L349.4 289.5L352.6 291.5L371.7 300.5L392.2 316.5L395 319.5L402.5 332.3L403.5 332.5L406.1 329.5L407.5 329.5L409.2 332.5L409.4 336.5L408 339.5L405.4 340.5L404.7 341.5L404.9 343.5L410.6 369.5L414.3 378.5L415.5 380L417.5 380.6L426.5 380.4L452.5 392.3L474.5 394.6L499.5 398.5L522.5 399.6L573.5 399.6L573.5 520.5ZM165.5 122.6L165.5 114.9L165.5 122.6ZM452.5 341.1L450.5 341L449.5 339.9L448.2 335.5L449 330.5L450.4 328.5L451.5 328L452.5 328.2L453.8 329.5L455 333.5L454.5 338.3L452.5 341.1ZM527.5 340.8L525.5 340.7L524.5 339.5L523.4 335.5L524.2 330.5L525.5 328.7L526.5 328.3L528.5 329.5L529.8 333.5L529.5 337.5L527.5 340.8ZM542.5 340.6L540.5 340.6L539.5 339.5L538.4 335.5L539.2 330.5L540.5 328.9L541.5 328.5L543.5 329.8L544.6 333.5L544.4 337.5L542.5 340.6ZM558.5 341L557.5 341.5L555.5 340.6L554.3 338.5L553.7 335.5L554.5 330.5L555.5 328.9L557.5 328L559.5 329.8L560.4 333.5L560.2 337.5L558.5 341ZM572.5 340.7L571.5 340.7L569.9 339.5L568.6 335.5L569.4 330.5L571.5 328.3L573.5 328.5L573.5 340.5L572.5 340.7ZM422.5 339.8L421.5 340.3L420.5 339.9L418.9 336.5L419.3 331.5L420.5 329.8L421.5 329.4L422.5 329.9L423.5 331.4L424.1 334.5L423.8 337.5L422.5 339.8ZM437.5 340.2L436.5 340.4L435.5 339.8L434.5 338.1L434 335.5L434.5 331.5L435.5 329.9L436.5 329.3L437.5 329.4L438.5 330.3L439.6 333.5L439.3 337.5L437.5 340.2ZM512.5 340.3L511.5 340.5L510.2 339.5L508.8 335.5L509.5 330.9L511.5 329L513.5 330L514.7 333.5L514.4 337.5L512.5 340.3ZM467.5 339.7L466.5 340L465.4 339.5L464.2 337.5L463.9 335.5L464.5 331.4L465.5 330L466.5 329.5L467.5 329.8L468.5 331L469.2 333.5L468.9 337.5L467.5 339.7ZM482.5 339.4L481.5 339.5L480.5 338.7L479.5 335.5L480.1 331.5L481.5 329.9L482.5 330L483.5 331.1L484.3 333.5L484.2 336.5L483.5 338.4L482.5 339.4ZM496.5 339.6L494.9 338.5L494 335.5L494.6 331.5L495.5 330.2L496.5 329.7L497.5 330L498.5 331.2L499.2 334.5L498.5 338L496.5 339.6ZM213.5 350.7L212.5 345.7L212.1 337.5L212.5 332.6L213.5 331.5L214.7 333.5L215.4 338.5L214.5 346.8L213.5 350.7ZM138.5 336.5L137.5 336.3L137.2 334.5L137.5 333.3L138.5 333L139 334.5L138.5 336.5ZM168.5 335.7L168.5 334.1L169 334.5L168.5 335.7ZM208.5 520.5L88.5 520.5L88.5 403.2L197.5 403.2L204.5 403.5L206.5 404.4L207.3 407.5L207.5 430.2L208.5 432.3L211.1 433.5L211.9 436.5L211.4 443.5L208.5 449L206.4 458.5L207.9 470.5L208.2 494.5L209.1 517.5L209.2 520.5L208.5 520.5ZM218.5 442.6L217.5 443L216.9 442.5L217.5 437.6L218.5 439.7L218.5 442.6ZM303.5 482.6L301.5 483.3L299.2 482.5L296.7 479.5L294.9 475.5L295.2 472.5L296.3 470.5L300.5 467.5L303.5 467.3L312.5 469.1L320.5 471.9L322.7 474.5L322.5 476.9L320.5 478.8L317.5 479.1L312.5 481.4L306.5 481.3L303.5 482.6ZM452.5 503.5L455.5 501.5L457.5 500.9L466.5 502.3L477.5 502.4L479.5 501.4L481 499.5L481.6 497.5L481.5 495.5L479.8 492.5L477.5 490.9L458.5 493L456.5 492.7L452.5 490.5L450.5 490L443.5 491.8L440.3 493.5L438.5 495.5L438.3 497.5L439.5 499.5L444.5 503L449.5 504.3L452.5 503.5Z"/>
<path fill="#36b7e8" d="M116.5 87.8L113.5 88.3L88.5 88.3L88.5 23.6L115.5 23.6L126.5 26L134.5 23.3L140.9 17.5L155.5 17.5L155.5 58.5L154.3 64.5L151.5 68.1L148.5 70.5L141.5 74.4L126.5 80.8L116.5 87.8ZM573.5 520.5L338.8 520.5L339 505.5L340.7 494.5L339.2 486.5L338.5 479.5L338.7 471.5L340.1 459.5L339 450.5L337.1 442.5L336.6 418.5L337.7 413.5L337.2 412.5L329.5 405.4L314.5 402.6L307.5 402.3L299 396.5L290.7 392.5L289.8 390.5L289.4 386.5L285 376.5L276.5 350.3L273.5 343.8L272.5 343.5L270.5 345L265.5 345.8L261.5 347.7L255.5 346.8L250.5 347.2L246.5 346.2L243.5 344.7L236.7 338.5L236.7 336.5L237.8 335.5L249.5 328.2L251.5 327.9L255.5 328.6L260.5 328.4L265.5 330.5L268.5 329.9L268.5 324.9L264.9 310.5L261.1 291.5L255.5 271.8L251.1 260.5L240.5 247.2L221.8 211.5L219.5 208.9L209.2 201.5L202.3 185.5L192.5 173.4L182.5 158.4L180.5 154.6L176.8 139.5L174.7 120.5L171.1 107.5L171.3 99.5L167.3 89.5L162.4 37.5L161.9 17.5L184.5 17.5L184.9 29.5L185.5 33.3L186.5 35.8L190.5 34.7L249.5 34.7L251.5 35.2L252.5 36L256.5 41.1L259.5 42.1L337.5 42.1L366.5 42.8L573.5 42.8L573.5 88.8L280.5 88.8L276.5 89.6L274.5 94.6L272.5 95.8L270.5 94.5L269 90.5L267.5 89.2L251.5 88.1L239.5 88.1L233.2 88.5L230 89.5L227.5 95.5L225.5 97.3L223.5 97.9L222.3 97.5L220.9 95.5L219.2 89.5L215.5 88.5L213.5 88.9L212.5 90.1L211.6 100.5L212.5 113.4L213.5 113.3L217.5 108.5L219.5 107.8L222.1 108.5L235.8 120.5L251.5 140.5L255.7 156.5L261.7 186.5L265.2 200.5L270.1 210.5L273.7 230.5L279.7 243.5L282.5 246L291.5 250.1L322.6 260.5L337.2 268.5L340.6 271.5L346.9 287.5L348.2 289.5L351.4 291.5L370.8 300.5L392.3 317.5L394.6 320.5L401.1 332.5L409.4 369.5L413.4 378.5L414.8 380.5L416.5 381.1L426.5 381L452.5 392.7L475.5 395.1L499.5 398.9L522.5 400L573.5 400.1L573.5 520.5ZM452.5 340.2L451.5 340.4L450.1 339.5L448.7 335.5L449.5 330.8L451.5 328.9L453.5 330.2L454.5 333.5L454.2 337.5L452.5 340.2ZM527.5 339.9L526.5 340.1L525.4 339.5L524.2 337.5L523.9 335.5L524.5 331.2L525.5 329.7L526.5 329.2L527.5 329.5L528.5 330.6L529.3 333.5L529 337.5L527.5 339.9ZM542.5 339.6L541.5 340L540.4 339.5L539.5 338.2L538.9 335.5L539.5 331.4L540.5 329.8L541.5 329.4L543.2 330.5L544.2 333.5L543.8 337.5L542.5 339.6ZM558.5 339.8L557.5 340.5L556.5 340.4L555.5 339.5L554.2 336.5L554.5 332L555.5 329.9L556.5 329L557.5 328.9L558.5 329.5L559.7 332.5L559.8 336.5L558.5 339.8ZM573.5 339.5L571.5 339.8L570.5 339.2L569.2 336.5L569.5 331.7L570.5 329.8L571.5 329.2L573.5 329.5L573.5 339.5ZM407.5 338.8L406.5 339.1L405.5 338.7L404.1 336.5L404.8 332.5L406.5 330.4L407.5 330.6L408.1 331.5L408.8 333.5L408.8 336.5L407.5 338.8ZM422.5 338.8L421.5 339.3L420.5 338.8L419.4 336.5L419.6 332.5L420.5 330.8L421.5 330.4L422.5 330.9L423.5 333.5L423.5 336.5L422.5 338.8ZM437.5 339.2L436.5 339.4L435.5 338.7L434.5 335.8L434.8 332.5L435.5 330.9L436.5 330.2L437.5 330.3L438.5 331.5L439 333.5L439 336.5L437.5 339.2ZM467.5 338.6L466.5 339L465.5 338.5L464.4 335.5L464.8 332.5L465.5 331.1L466.5 330.5L468 331.5L468.7 333.5L468.6 336.5L467.5 338.6ZM511.5 339.5L509.7 337.5L509.3 334.5L509.9 331.5L511.5 329.9L512.5 330.1L513.5 331.2L514.2 335.5L513.5 338.2L512.5 339.3L511.5 339.5ZM482.5 338.3L481.5 338.4L480.5 337.5L480 335.5L480.4 332.5L481.5 331L482.5 331.1L483.7 333.5L483.6 336.5L482.5 338.3ZM496.5 338.6L495.5 338.1L494.6 335.5L495 332.5L495.5 331.3L496.5 330.7L497.8 331.5L498.7 334.5L498 337.5L496.5 338.6ZM234.5 432.9L233.5 433.4L231.5 432.7L224.7 425.5L223 422.5L222 418.5L222 414.5L222.9 410.5L224.5 407.8L228.5 408.1L233.5 406.5L238.5 406.8L242.5 402.9L244.5 402.3L249.5 405.8L255.5 411.4L257.5 410.7L260.5 408.4L261.5 408.5L267.9 414.5L268.8 418.5L268.5 420.5L267.5 422.1L264.5 422.2L260.5 424.1L256.5 425L252.5 428.7L250.5 429.7L244.5 428.7L240.5 427.4L239.5 427.6L234.5 432.9ZM207.5 520.5L88.5 520.5L88.5 403.6L194.5 403.6L203.5 403.9L205.7 404.5L206.6 406.5L206.9 411.5L206.8 430.5L208.8 437.5L208.5 444.5L205.4 459.5L207 470.5L208 517.5L208 520.5L207.5 520.5ZM303.5 443.9L302.5 444.2L299.5 443.2L296.3 443.5L295.3 442.5L295.2 441.5L296.5 438.1L299.5 441.1L300.5 440.7L303.5 436.7L304.5 438.7L304.7 441.5L304.5 442.8L303.5 443.9ZM303.5 478.7L301.5 479L300.5 478.4L299.3 476.5L299 474.5L299.5 472.6L301.5 470.6L303.5 470.5L306.5 471.8L311.5 472.4L313.6 474.5L313.2 476.5L311.8 477.5L306.5 477.3L303.5 478.7ZM451.8 506.5L455.5 503.6L457.5 503L467.5 504.5L478.5 505.3L481.2 503.5L483.8 500.5L484.9 497.5L484.5 495.5L482.9 492.5L479.5 488.4L477.5 487.2L476.5 487.2L470.5 489.5L458.5 490.9L455.5 490.1L451.5 487.6L446.5 487.9L438.5 490.4L431.8 495.5L431.4 496.5L431.8 498.5L437.2 502.5L446.5 507.1L449.5 507.4L451.8 506.5ZM353.1 496.5L353.5 495.5L353.2 493.5L352.5 492.5L351.5 492.4L350.7 493.5L350.5 495.5L351.5 497L352.5 497.2L353.1 496.5Z"/>
<path fill="#38c4e6" d="M115.5 87.7L88.5 87.9L88.5 24.2L115.5 24.3L126.5 26.8L134.5 23.8L140.5 18.8L141.4 17.5L155.2 17.5L155.2 57.5L154.8 61.5L153.6 64.5L151.5 67L148.5 69.4L141.5 73.3L126.5 79.9L118 86.5L115.5 87.7ZM571.5 520.5L515.4 520.5L514.6 480.5L515.6 444.5L515.2 436.5L515 435.5L513.5 434.6L511.5 435.1L511 436.5L512.4 479.5L510.3 500.5L509 520.5L451.4 520.5L451.6 513.5L452.3 510.5L453.8 507.5L456.5 505.3L459.5 505.2L467.5 507.4L471.5 507.6L473.8 508.5L477.5 511.1L478.5 511.1L484.5 505.4L486.5 504.5L490.5 504.2L491.5 503.5L493.4 500.5L494.4 497.5L493.6 495.5L485.5 490.9L483.5 488.8L481.5 485.5L479.9 480.5L478.5 470.1L477.5 465.8L476.5 464L475.5 466.7L474.2 481.5L472.8 484.5L470.5 486.5L462.5 488.4L457.5 488.6L454.5 486.7L450.5 481.6L443.5 482.8L439.5 481.8L435.3 486.5L433.5 487.2L430.5 487.1L429.5 487.8L424.5 495.1L423.5 495.3L419.5 492.6L418.5 493.1L417.6 497.5L418.8 508.5L418.8 520.5L405.9 520.5L405.5 514.5L404.5 510.2L403.5 509.9L402.9 520.5L390.2 520.5L391 513.5L394.8 501.5L395.9 492.5L397.9 436.5L397.6 434.5L395.5 433.6L394.1 434.5L393 447.5L390.1 465.5L389.2 478.5L388.5 506.5L387.4 520.5L368.3 520.5L367.5 513L364.4 502.5L363.4 496.5L362.3 493.5L360.5 490.8L354.8 486.5L352.5 485.7L350.1 486.5L345.5 490.6L343.5 490.9L342.5 490.1L340.7 485.5L339.8 478.5L340.3 470.5L341.5 464.9L342.5 462.9L343.5 462.6L349.3 468.5L350.5 469.1L352.5 469L354 467.5L354.9 465.5L355.8 460.5L349.5 440.5L348.5 439.2L347.5 440.9L346.6 449.5L345.5 453.5L343.5 456.4L342.5 456.2L341.5 453.8L339.5 441.7L339.6 420.5L340.9 415.5L340.6 414.5L336 409.5L329.5 404L310.5 400.9L292.5 392.7L291.2 391.5L290.1 386.5L283.1 369.5L272 335.5L265.9 312.5L261.4 290.5L255.6 270.5L252.1 261.5L250.2 258.5L242.5 249.6L240.5 246.5L221.6 210.5L209.5 201.2L202.8 185.5L192.5 172.6L181.4 155.5L177.5 140.5L175.2 120.5L171.5 107.5L171.7 99.5L168.3 91.5L167.5 88.5L162.7 38.5L162 17.5L184.2 17.5L184.8 30.5L185.5 35.1L186.5 36.7L191.5 35.6L249.5 35.7L251.5 36.1L252.5 36.9L256.5 41.8L259.5 42.7L337.5 42.8L366.5 43.6L573.5 43.6L573.5 88.5L280.5 88.6L277.5 88.8L276 89.5L274.5 93.7L273.5 94.9L272.5 95.1L270.5 93.7L268.8 89.5L266.5 88.6L257.5 88.5L250.5 87.8L231.5 88.3L227.3 89.5L225.5 93.1L223.5 94.4L222.3 93.5L220.9 89.5L219.2 88.5L215.5 88L212.7 88.5L211.8 89.5L210.9 99.5L211.5 112.5L212.2 114.5L212.5 114.8L213.5 114.1L217.5 108.8L219.5 108L221.5 108.5L235.2 120.5L250.9 140.5L255.5 158.3L261.1 186.5L264.6 200.5L269.6 210.5L273.1 230.5L279.9 244.5L283.5 246.9L292.5 250.8L321.6 260.5L336.1 268.5L339.5 271.5L345.7 287.5L347 289.5L350.2 291.5L369.9 300.5L391.3 317.5L393.5 320.5L399.9 332.5L408.3 369.5L412.5 378.5L414.5 381.2L416.5 381.7L426.5 381.5L439.5 387.8L452.5 393.2L475.1 395.5L499.5 399.3L522.5 400.4L573.5 400.5L573.5 503.1L572.5 509.6L572 520.5L571.5 520.5ZM452.5 339.2L451.5 339.5L450.5 338.9L449.2 335.5L449.9 331.5L451.5 329.9L452.8 330.5L454 333.5L453.9 336.5L452.5 339.2ZM527.5 338.8L526.5 339.2L525.5 338.6L524.4 335.5L525.1 331.5L526.5 330.2L527.5 330.5L528.8 333.5L528.7 336.5L527.5 338.8ZM542.5 338.6L541.5 339L540.5 338.5L539.4 335.5L539.8 332.5L540.5 331L541.5 330.3L542.5 330.7L543.7 333.5L543.6 336.5L542.5 338.6ZM558.5 338.6L557.5 339.5L556.5 339.4L555.5 338.5L554.7 336.5L554.9 332.5L556.5 330L557.5 329.9L558.2 330.5L559.1 332.5L559.4 335.5L558.5 338.6ZM573.5 338.5L571.5 338.8L570.5 338.1L569.8 336.5L569.9 332.5L570.5 331L571.5 330.2L573.5 330.5L573.5 338.5ZM422.5 337.5L421.5 338.2L420.5 337.6L419.9 335.5L420.4 332.5L421.5 331.5L422.5 332.3L422.9 333.5L423.1 335.5L422.5 337.5ZM437.5 338.1L436.5 338.3L435.6 337.5L435 335.5L435.4 332.5L436.5 331.2L437.5 331.5L438.5 333.8L438.4 336.5L437.5 338.1ZM511.5 338.5L510.4 337.5L509.9 334.5L510.5 331.8L511.5 330.9L512.5 331.2L513.3 332.5L513.7 335.5L513.1 337.5L511.5 338.5ZM259.5 342.6L255.5 342.4L251.5 343.2L248.5 342.5L246.5 341.2L245.2 339.5L245.2 336.5L247.5 333.6L250.5 332.1L260.5 333.4L262.5 335.5L263.2 338.5L261.8 341.5L259.5 342.6ZM406.5 337.8L405.5 336.8L405.2 335.5L405.5 333.2L406.5 331.8L407.7 332.5L408.2 335.5L407.5 337.5L406.5 337.8ZM466.5 337.9L465.5 337.1L465.1 335.5L465.5 332.5L466.5 331.6L467.6 332.5L468.1 335.5L467.5 337.4L466.5 337.9ZM482.5 337L481.5 337.2L480.7 335.5L481.5 332.4L482.5 332.6L482.8 333.5L483 335.5L482.5 337ZM497.5 336.9L496.5 337.5L495.5 336.5L495.4 333.5L496.5 332L497.5 332.6L497.8 333.5L497.5 336.9ZM206.5 520.5L88.5 520.5L88.5 461.8L94.5 461.7L99.5 460.4L103.5 461.5L111.5 461L113.6 460.5L114.9 459.5L114.5 458.2L111.5 457.1L103.5 456.6L99.5 457.5L94.5 456.3L88.5 456.5L88.5 404.1L195.5 404.1L203.5 404.4L205.5 405.3L206.6 415.5L206 432.5L207.1 436.5L207.2 442.5L204.5 459.5L206.1 470.5L207 517.5L207 520.5L206.5 520.5ZM248.5 422.7L245.5 423L243.7 422.5L241 419.5L240.2 417.5L240.6 415.5L242 412.5L243.5 410.8L245.5 410.6L247.2 411.5L249.5 413.3L251 415.5L251.5 419.6L250.5 421.6L248.5 422.7ZM234.5 423.1L233.5 423.2L232.5 422.5L231.5 420.5L231.3 418.5L232.4 415.5L234.5 414.6L237 416.5L237.4 418.5L236.2 421.5L234.5 423.1ZM439.7 474.5L440.5 472.7L441.5 465.5L444.7 436.5L444.5 435.5L442.5 434.7L436.5 435.2L433.5 434.8L431.4 435.5L431.2 436.5L432 447.5L432.5 450.1L435.5 452.6L438.5 472.4L439.5 475L439.7 474.5ZM164.3 462.5L169.5 460.6L175.5 461.9L185.6 461.5L188.5 460.5L189.6 459.5L189.5 458.5L186.5 456.9L175.5 456.1L169.5 457.3L163.5 455.3L158.5 456.2L153.5 458.2L144.5 456.1L142.5 456.6L140.3 458.5L141.4 460.5L144.5 462.2L146.5 462.1L153.5 459.8L159.5 462.1L164.3 462.5ZM125.7 461.5L127.5 459.5L127.5 458.5L125.5 456.4L122.5 456.1L119.5 458.5L119.5 459.5L121.5 461.5L123.5 462.2L125.7 461.5ZM562.5 509.5L563.2 497.5L562.9 483.5L561.5 467.6L560.5 466.3L559.5 474.5L559.8 488.5L561.5 509.8L562.5 510L562.5 509.5ZM350.5 520.5L340.9 520.5L341.4 503.5L342.5 500.4L344.5 499L346.9 500.5L348.8 504.5L350.1 512.5L350.5 520.5ZM442.5 520.5L423 520.5L422.4 507.5L423.1 503.5L424.4 501.5L425.5 502L429.5 507L434.5 507L439.5 508.6L441.5 510.1L442.5 511.7L443.1 514.5L443.3 520.5L442.5 520.5Z"/>
<path fill="#3bd0e3" d="M114.5 87.5L88.5 87.6L88.5 25L115.5 25.1L126.5 28L134.5 24.4L140.5 19.4L142 17.5L154.9 17.5L154.9 57.5L154.5 61L153.5 63.6L148.5 68.3L141.5 72.3L126.5 79.1L117.5 86.3L114.5 87.5ZM568.5 512.9L567.5 511.3L566.5 498.9L564.3 453.5L564.1 435.5L563.5 434.5L562.5 434.2L558.5 434.4L551.5 433.4L543.5 434L541.5 434.5L540.7 435.5L541.5 460.4L540.5 469.1L539.5 470.6L538.5 468.9L537.4 462.5L536.9 451.5L537.3 436.5L536.4 434.5L526.5 433.8L519.5 434.1L512.5 433.2L509.5 433.5L506.6 434.5L505.3 435.5L506.5 438.2L507.5 444L509.3 476.5L508.5 486.8L506.5 495.2L505.5 494.8L503.3 489.5L501.5 487.3L498.5 486.8L493.5 488.1L490.5 488.2L486.5 485.9L484.5 482.6L483.8 475.5L486.9 436.5L486.5 434.5L483.5 433.5L472.5 433.7L467.2 434.5L466.3 435.5L468.5 445.8L469.8 456.5L470.2 468.5L469.6 478.5L468.5 481.1L465.4 483.5L462.5 484.9L458.5 485.5L456.7 484.5L456.1 483.5L455.4 481.5L455.3 477.5L456.5 468.4L457.5 465.6L460 462.5L460.9 458.5L461.3 437.5L461.1 435.5L460.3 434.5L457.5 433.9L451.5 434.1L441.5 433.3L410.5 433.6L403.5 434.3L397.5 432.5L390.5 431.5L389.5 432.5L388.5 440.9L385.2 458.5L383.6 483.5L382.5 490.4L381.5 493.1L380.5 493.5L377.5 489L376.5 490L375.1 494.5L374.9 504.5L374.5 507.4L373.5 509.3L372.5 506.5L371.1 496.5L366 487.5L363.5 477.5L363.3 469.5L364.7 459.5L363.8 450.5L364.4 435.5L362.7 421.5L360.2 419.5L356.5 418.9L355 419.5L353.5 422.2L351.7 418.5L350.5 417.5L343.5 415.2L329.5 403L310.5 399.9L293.5 392.3L291.6 390.5L290.7 386.5L283.9 370.5L273 335.5L267.1 315.5L261.6 289.5L256 270.5L252.6 261.5L250.7 258.5L241.5 247.3L222.2 210.5L219.5 208.1L211.3 202.5L209.5 200.5L203.4 185.5L193.5 173.2L182 155.5L177.8 139.5L175.6 120.5L172.1 108.5L172.1 99.5L167.9 88.5L162.7 37.5L162.1 17.5L183.9 17.5L184.6 31.5L185.5 36.4L186.5 37.4L191.5 36.6L249.5 36.6L252.5 37.8L256.5 42.5L259.5 43.4L337.5 43.4L366.5 44.3L573.5 44.3L573.5 88.2L280.5 88.3L277.1 88.5L275.5 89.4L274 93.5L272.5 94.5L270.5 92.8L269.4 89.5L267.5 88.4L251.5 87.5L240.5 87.5L231.5 87.8L223.5 88.9L218.5 87.8L214.5 87.7L211.6 88.5L211.1 89.5L210.2 99.5L211.5 115.6L212.5 115.8L213.5 114.8L217.5 109.1L219.5 108.3L221.5 108.8L234.7 120.5L250.3 140.5L254.5 156.7L258.5 175.1L260.2 185.5L263.9 200.5L269 210.5L272.5 230.5L279.2 244.5L282.5 246.8L291.5 250.8L320.3 260.5L336.6 269.5L338.9 272.5L344.5 287.5L345.8 289.5L349.1 291.5L368.9 300.5L390.2 317.5L392.4 320.5L398.7 332.5L407.2 369.5L412.1 379.5L413.8 381.5L416.5 382.3L426.5 382.1L438.5 387.9L452.5 393.7L475.5 396.1L499.5 399.8L522.5 400.9L573.5 401L573.5 433.6L570.5 434.4L570 435.5L571.4 456.5L571.7 477.5L570.7 497.5L568.5 512.9ZM452.5 338.1L451.5 338.5L450.5 337.7L449.8 335.5L450.2 332.5L451.5 330.9L452.6 331.5L453.5 334.2L453.3 336.5L452.5 338.1ZM527.5 337.7L526.5 338.1L525.7 337.5L525 335.5L525.4 332.5L526.5 331.3L527.5 331.7L528.1 333.5L528.3 335.5L527.5 337.7ZM541.5 337.9L540.5 337.1L540.1 335.5L540.5 332.5L541.5 331.5L542.5 332.1L543.1 334.5L542.5 337.4L541.5 337.9ZM557.5 338.4L556.5 338.4L555.7 337.5L555.1 335.5L555.5 332.5L556.5 331L558 331.5L558.7 333.5L558.7 336.5L557.5 338.4ZM572.5 337.7L571.2 337.5L570.2 335.5L570.5 332.6L571.5 331.4L573.5 331.9L573.5 337.3L572.5 337.7ZM512.5 336.9L511.5 337.3L510.5 335.6L510.8 333.5L511.5 332.3L512.5 332.7L512.8 333.5L512.5 336.9ZM421.5 336.7L420.8 335.5L421.5 333.2L422.3 335.5L421.5 336.7ZM437.5 336.6L436.5 337L435.8 335.5L436.5 332.8L437.6 333.5L437.5 336.6ZM466.5 336.3L466.1 335.5L466.5 333.5L467.1 335.5L466.5 336.3ZM205.5 520.5L88.5 520.5L88.5 464.6L93.5 464.5L99.5 463.2L103.5 464.2L111.5 463.7L117.5 462.4L123.5 464.9L129.5 461.9L131.5 461.6L139.5 462.3L145.5 465.2L150.5 463.4L153.5 463L160.5 465.1L163.5 465.4L169.5 463.3L175.5 464.3L185.5 464L193.7 461.5L195.6 459.5L195.5 458.5L194.5 457.2L187.5 454.7L180.5 454.4L175.5 453.4L169.5 454.5L163.5 452.2L153.5 454.9L144.5 453.5L139.5 455.1L131.5 456.4L129.5 456.2L123.5 453L117.5 455.6L112.5 454.5L104.5 453.9L99.5 454.6L94.5 453.5L88.5 454L88.5 404.6L148.5 404.5L159.5 405.2L167.5 404.6L193.5 404.5L201.5 404.8L204.5 405.5L205.5 408.3L206.1 416.5L204.7 432.5L205.9 436.5L205.9 444.5L203.5 459.5L205.3 470.5L206 518.5L206 520.5L205.5 520.5ZM376.7 461.5L376.8 458.5L375.6 451.5L376.7 422.5L376.3 421.5L374.1 420.5L369.5 420.1L366.4 420.5L365 421.5L364.8 422.5L364.9 436.5L367.8 446.5L372.1 457.5L375.5 462.1L376.5 462.1L376.7 461.5ZM500.1 468.5L501.3 466.5L501.7 464.5L501.9 443.5L502.5 439L503.9 435.5L502.3 434.5L495.5 433.6L492.8 434.5L492.4 435.5L493 464.5L494 467.5L495.5 468.8L497.5 469.4L500.1 468.5ZM557.5 520.5L546.9 520.5L547.4 504.5L548.9 486.5L551.5 469.4L552.5 465.7L553.5 464.2L554.5 465.4L554.9 467.5L556.2 479.5L557.6 508.5L557.5 520.5ZM345.5 484.5L343.2 483.5L341.7 479.5L341.9 474.5L342.5 472.4L343.5 471.4L345.5 471.4L351.5 473.5L355.5 473.9L357.5 475.2L357.9 478.5L356.7 480.5L345.5 484.5ZM529.5 520.5L517.7 520.5L518.5 492.1L519.5 483.6L520.5 482.1L522.5 487.2L528.1 508.5L529.2 514.5L529.5 520.5ZM465.5 520.5L454 520.5L454.5 511.8L455.3 509.5L456.5 508.2L458.5 507.9L460.3 508.5L462.9 509.5L464.5 511L466 515.5L466.1 520.5L465.5 520.5ZM413.5 520.5L413.5 516.7L414.3 520.5L413.5 520.5Z"/>
<path fill="#3cd9d5" d="M115.5 86.8L88.5 87.1L88.5 25.7L115.5 25.9L126.5 29.2L134.5 25.2L141.2 19.5L142.6 17.5L154.6 17.5L154.6 56.5L153.5 62.4L149.5 66.7L141.5 71.4L126.5 78.2L117.9 85.5L115.5 86.8ZM569.5 432.6L512.5 432.4L489.5 433.1L482.5 432.5L463.5 433.1L441.5 432.6L401.5 432.9L386.5 428.8L383.8 426.5L380.5 421.5L378.5 419.7L363.5 418.3L344.5 414.3L329.5 402.3L310.5 399.2L294.5 392L292.5 390.5L284 369.5L268.4 318.5L262.1 289.5L256.8 271.5L253.1 261.5L251.3 258.5L244.3 250.5L241.5 246.3L222.8 210.5L210.5 200.9L204 185.5L194.4 173.5L182.5 155L178.5 140.1L176.1 120.5L172.5 108.4L172.5 99.5L168.3 88.5L162.9 37.5L162.3 17.5L183.6 17.5L183.7 25.5L184.9 35.5L185.5 37L187.5 38.1L191.5 37.7L249.5 37.7L251.5 38.1L256.5 43.3L258.5 44.1L337.5 44.2L366.5 45.2L573.5 45.2L573.5 87.9L279.5 87.9L275.5 88.7L274 92.5L272.5 93.8L270.9 92.5L269.5 88.8L267.5 88.1L257.5 87.9L250.5 87.1L223.5 87.8L214.5 87.2L212.3 87.5L210.7 88.5L209.5 99.5L210.6 114.5L211.5 117.2L213.5 115.5L217.5 109.4L219.5 108.5L221.5 109.1L234.1 120.5L249.6 140.5L254.5 159.9L259.6 186.5L263 200.5L268.3 210.5L271.7 230.5L277.8 243.5L280.5 246.1L286.5 249.1L318.8 260.5L335.3 269.5L337.7 272.5L343.4 287.5L344.6 289.5L347.9 291.5L367.8 300.5L389.2 317.5L391.3 320.5L397.2 331.5L405.8 368.5L410.6 378.5L412.8 381.5L415.5 382.9L426.5 382.9L452.5 394.3L475 396.5L499.5 400.3L522.5 401.3L573.5 401.6L573.5 432.3L569.5 432.6ZM452.5 336.6L451.5 337.2L450.5 335.8L450.5 334.1L451.5 332.3L452.6 333.5L452.5 336.6ZM557.5 337.1L556.5 337.1L555.8 335.5L556.5 332.4L557.5 332.4L557.9 333.5L558.1 335.5L557.5 337.1ZM526.5 336.7L525.8 335.5L526.5 332.9L527.6 334.5L527.5 335.7L526.5 336.7ZM541.5 336.4L541 335.5L541.5 333.3L542.2 334.5L541.5 336.4ZM572.5 336.1L571.5 336.2L571.2 335.5L571.5 333.2L572.5 333.3L573.2 334.5L572.5 336.1ZM204.5 520.5L166.5 520.5L165.7 504.5L164.5 500.4L163.5 499.8L162.5 501L161.6 504.5L162.4 520.5L145.7 520.5L146.4 506.5L145.5 503.4L144.4 503.5L143.3 506.5L143.3 520.5L135.1 520.5L134.2 508.5L132.5 505.6L130.5 505L122.5 505.5L121 506.5L120.3 509.5L120.9 520.5L99.7 520.5L99.1 509.5L97.7 505.5L95.5 504L92.5 503.8L89.7 505.5L88.5 507.4L88.5 469.5L93.5 468.9L98.5 466.3L100.5 466.5L103.5 468.1L107.5 467L111.5 467.1L117.5 465.2L119.5 466.1L122.5 469L123.5 469.3L124.5 469L128.5 465.1L131.5 464.3L138.5 464.6L140.5 465.3L145.5 471.6L146.5 471.3L150.5 466.8L153.5 466L156.2 467.5L162.5 477.4L163.5 477.7L166.9 468.5L168.5 466.8L171.2 466.5L176.5 469L180.5 468.4L184.5 468.7L189.5 465.3L195.5 463L197.5 460.5L197.7 458.5L196.5 456.4L194.5 454.8L186.5 451.3L180.5 450.8L178.6 449.5L177.7 447.5L176.8 438.5L177.8 436.5L181.5 435L188.5 434.9L193.1 433.5L191.5 432.6L166.5 432.1L159.5 429.1L157.5 429.5L153.5 431.8L148.5 432.8L140.5 432.6L131.5 433.2L123.5 432.4L88.5 432.3L88.5 405.2L149.5 405.1L159.5 406.8L166.5 405.3L193.5 405.2L200.5 405.5L203.6 406.5L205.1 410.5L205.6 416.5L204.5 427.2L202.3 431.5L204.2 434.5L204.9 437.5L204.4 450.5L202.3 459.5L203.9 465.5L204.4 470.5L205 520.5L204.5 520.5ZM131.5 453.7L129.5 453.5L127.1 451.5L126.3 449.5L125.9 446.5L125.9 437.5L127.5 435.1L130.5 433.8L132.5 434L134.5 434.9L138.1 437.5L140.8 447.5L140.5 449.5L139.5 451L131.5 453.7ZM118.5 452.6L116.5 452.6L112.5 450.6L107.5 449.6L104.5 446.5L103.5 447L101.8 449.5L100.5 450.3L98.5 449.8L97.4 446.5L97.4 437.5L98.5 436.5L100.5 436.1L105.5 437.3L111.5 435.4L117.5 435.1L119.5 435.8L121.1 438.5L121.3 447.5L120.5 450.5L118.5 452.6ZM154.5 451L152.5 451.4L149.1 450.5L147.5 449.5L146 447.5L144.9 443.5L144.4 438.5L145.2 436.5L146.5 435.7L148.5 435.3L152.5 435.9L154.9 436.5L156.2 437.5L156.7 439.5L156.7 447.5L156 449.5L154.5 451ZM89.5 448.9L88.5 449.1L88.5 436.3L90.5 436.5L92 437.5L92.3 438.5L91.6 446.5L90.5 448.4L89.5 448.9ZM170.5 449.8L169.1 449.5L168.4 447.5L169.5 439.5L170.5 438.9L171.7 446.5L171.4 448.5L170.5 449.8ZM495.5 484.6L491.5 484.4L490 483.5L488.5 481.5L487.7 476.5L488.4 473.5L489.5 471.5L491.5 470.7L498.5 472.1L504.5 470.9L505.4 471.5L506.5 474L506.9 477.5L506.5 481L505.5 483.1L504.5 483.7L500.5 483.7L495.5 484.6ZM347.5 479.6L346.5 479.3L346 477.5L347.5 476.5L348.9 477.5L348.9 478.5L347.5 479.6ZM163.8 494.5L164.5 493.5L165.1 489.5L164.5 485.5L163.5 483.3L162.5 483.6L161.5 485.5L160.5 489.5L161.5 492.7L162.5 494.2L163.5 494.8L163.8 494.5ZM555.5 520.5L549.3 520.5L550.4 500.5L551.5 492.7L552.5 489.3L553.5 490L554.5 496.1L555.5 520.5ZM91.5 520.5L88.5 520.5L88.5 507.6L91.4 514.5L92 520.5L91.5 520.5ZM521.5 520.5L521.5 517.7L522.3 520.5L521.5 520.5Z"/>
<path fill="#3ddebc" d="M114.5 86.5L88.5 86.6L88.5 26.5L115.5 26.7L126.5 30.1L134.5 26L141.5 19.9L143.3 17.5L154.3 17.5L154.2 56.5L153.3 61.5L151.5 63.9L148.5 66.3L140.5 70.9L126.5 77.2L117.5 85.2L114.5 86.5ZM530.5 431.5L401.5 432.2L386.5 427.7L384.2 425.5L380.5 420.1L378.5 418.6L364.5 417.4L344.5 413.3L329.5 401.6L310.5 398.5L304.5 396.2L293.4 390.5L288.4 379.5L284.1 368.5L268.5 317.2L262.8 290.5L260 280.5L256.7 269.5L253.2 260.5L242.5 246.7L224.3 211.5L221.6 208.5L212.9 202.5L211.1 200.5L204.7 185.5L194.7 172.5L183.4 154.5L179.5 141.3L176.5 120.5L173 108.5L172.9 99.5L169.3 90.5L168.6 87.5L163 37.5L162.4 17.5L183.2 17.5L183.3 25.5L184.5 35.5L185.4 37.5L187.5 38.7L250.5 39L252.5 40L256.5 44.1L258.5 44.9L337.5 44.9L366.5 46.1L573.5 46.1L573.5 87.6L278.5 87.6L274.8 88.5L273.5 92.4L272.5 93L271.5 92.5L270 88.5L267.5 87.7L257.5 87.5L250.5 86.8L214.5 86.8L210.7 87.5L209.9 89.5L209.1 100.5L210.5 117.6L211.5 118.5L212.5 117.6L217.8 109.5L219.5 108.8L221.5 109.4L233.5 120.5L248.7 140.5L253.5 159.3L256.5 173.4L258.7 187.5L261.7 200.5L267.2 210.5L270.6 230.5L277.6 244.5L281.5 247.2L289.5 250.9L319.1 261.5L333.9 269.5L336.3 272.5L342.3 287.5L343.6 289.5L346.8 291.5L366.6 300.5L388.1 317.5L390.3 320.5L396.5 332.5L400.2 350.5L405 369.5L410.3 379.5L413.5 382.9L415.5 383.5L426.5 383.7L452.5 395L476.5 397.4L499.5 400.8L522.5 401.9L573.5 402.4L573.5 431.2L530.5 431.5ZM185.5 430.5L166.5 430.1L164.5 429L161.5 425.2L159.5 424.5L157.5 425.1L153.4 429.5L149.5 430.9L88.5 430.4L88.5 406.1L149.5 405.8L153.5 406.6L157.5 409.5L159.5 409.9L161.5 409.4L164.5 406.9L167.5 406.2L194.5 406.1L199.5 406.5L202.5 407.7L204.5 411.2L205.1 417.5L204.5 423.1L202.5 427.6L200.5 429.1L196.5 430.2L185.5 430.5ZM200.5 457.6L199.5 457.4L193.2 450.5L192.1 448.5L191.8 446.5L192.4 437.5L196.5 434L199.5 432.9L202.5 433.9L203.6 435.5L203.9 437.5L203.4 451.5L202.5 454.8L200.5 457.6ZM203.5 520.5L192.3 520.5L189.2 496.5L189.1 483.5L190.5 471.3L191.5 469.1L194.5 466.8L199.5 461.1L200.5 460.9L202.5 464L203.5 469.5L203.9 520.5L203.5 520.5ZM139.5 504.7L138.5 504.6L134.6 501.5L131.5 500.8L121.5 500.6L113.5 504.5L104.5 501.7L99.5 501.7L93.5 499.7L88.5 500.4L88.5 493.7L93.5 494L96 492.5L97.4 490.5L96.8 488.5L93.5 485.8L91.5 485.3L88.5 485.6L88.5 474.3L93.5 473.8L98.5 471.2L100.5 471.5L103.5 473L107.5 472L112.5 471.9L117.5 470.2L121.5 473.3L123.5 474L125.5 473.2L130.5 468.6L135.5 469.2L138.5 468.6L139.5 469L141.5 471.7L145.4 479.5L145.1 481.5L141.9 489.5L142.1 491.5L143.8 495.5L144.1 497.5L139.5 504.7ZM153.5 520.5L149.4 520.5L150.9 506.5L150 503.5L147 497.5L147.5 495.5L151.5 489.5L147 481.5L146.7 479.5L149.5 475.4L152.5 473.7L153.5 474L154.6 475.5L155.9 480.5L154.5 485.4L152.5 489.2L151.8 489.5L155.1 494.5L155.9 497.5L152.2 506.5L153.5 520.5ZM498.5 481.6L494.5 482.2L491.5 480.6L490.6 477.5L491.5 475.1L493.5 474.1L495.5 474L500.5 475L502.5 476.3L503 477.5L502.4 479.5L498.5 481.6ZM125.3 492.5L128.3 490.5L127 488.5L124.5 486.9L121.5 486.8L118.8 489.5L119.3 491.5L120.6 492.5L122.5 493.1L125.3 492.5ZM104.9 491.5L105.8 490.5L105.9 489.5L105.3 488.5L103.5 487.6L102.5 488L101.3 489.5L101.3 490.5L102.5 491.7L104.9 491.5ZM174.5 504.1L171.4 498.5L171.4 495.5L172.5 494.8L174.5 496L175.1 497.5L175.2 500.5L174.5 504.1Z"/>
<path fill="#3ee3a3" d="M115.5 85.7L88.5 86L88.5 27.2L115.5 27.5L126.5 30.9L134.5 26.8L142.5 19.7L143.8 17.5L153.9 17.5L153.9 56.5L153.5 59.5L152.7 61.5L149.5 64.7L143.5 68.5L134.5 73L126.5 76.3L117.5 84.5L115.5 85.7ZM455.5 431.5L403.5 431.9L399.5 431.2L386.5 426.9L384.5 425L380.5 419.1L378.5 417.8L364.5 416.7L345.5 412.7L342.5 411.2L329.5 401.1L310.5 398L295.5 391.3L293.5 389.7L288.8 379.5L284.5 368.2L269.4 318.5L262.8 288.5L257.9 271.5L254 260.5L243.5 246.7L225.5 211.5L223.8 209.5L213.9 202.5L212.1 200.5L205.6 185.5L196 172.5L186.3 157.5L184.4 153.5L180.2 140.5L177 120.5L173.4 108.5L173.3 99.5L169.3 88.5L163.1 37.5L162.5 17.5L182.9 17.5L182.9 25.5L184.2 35.5L185.5 37.9L188.5 39.5L192.5 40.2L250.5 40.3L252.5 41.2L256.5 45L258.5 45.7L337.5 45.7L366.5 47L573.5 47L573.5 87.2L278.5 87.2L274.5 87.8L273.8 88.5L273.5 90.7L272.5 92L271.5 91.3L270.5 88L267.5 87.2L257.5 87.1L250.5 86.4L214.5 86.4L210.5 86.9L209.5 88.4L208.6 100.5L209.8 116.5L210.5 120L211.5 119.9L212.5 118.5L217.5 110.2L219.5 109.1L221 109.5L232.8 120.5L247.7 140.5L251.5 154.9L255.2 172.5L257.2 186.5L260 200.5L260.7 202.5L265.8 210.5L268.9 229.5L275.7 243.5L278.5 246.1L284.5 249.3L314.1 260.5L332.2 269.5L334.8 272.5L342.6 289.5L345.7 291.5L365.2 300.5L387 317.5L389.2 320.5L395.4 332.5L399.2 350.5L404 369.5L409.3 379.5L411.8 382.5L414.5 384L426.5 384.7L450.5 395.1L453.5 395.9L474.5 397.9L501.5 401.6L522.5 402.5L573.5 403.5L573.5 430.1L455.5 431.5ZM193.5 428.5L167.5 428.2L165.5 427.4L161.5 421.9L159.5 420.7L157.5 421.7L152.9 427.5L149.5 429.2L135.5 429.4L105.5 428.2L88.5 428.4L88.5 407.2L149.5 406.7L153.5 408.1L157.5 412.4L159.5 413.4L161.5 412.2L164.5 408.5L167.5 407.3L193.5 407.1L199.5 408L202.5 409.8L203.9 412.5L204.5 417.5L203.7 422.5L202.5 424.7L200.5 426.5L196.5 428.1L193.5 428.5ZM200.5 454.9L199.1 454.5L197.4 452.5L196.3 449.5L196 446.5L196.2 436.5L197.5 434.8L199.5 434L201.6 434.5L202.5 435.5L202.9 437.5L202.6 450.5L201.7 453.5L200.5 454.9ZM202.5 520.5L197.1 520.5L196.5 471.5L197.4 466.5L199.5 463.9L200.5 463.9L201.5 465L202.5 469.5L202.5 520.5ZM138.5 486.8L134.5 485.1L128.5 484.5L123.5 480.9L122.5 481.1L118.5 484.5L116.5 485.2L108.5 484.8L103.5 482.9L100.5 484.6L98.5 484.8L95.2 482.5L93.7 480.5L93.6 479.5L96.1 476.5L98.5 475.3L100.5 475.6L103.5 477.2L107.5 475.9L111.5 475.9L117.5 474.7L123.5 479.3L129.5 474.4L131.5 473.9L135.5 474.3L138.5 473.8L139.9 474.5L141.3 476.5L142.1 480.5L140.5 485.4L138.5 486.8ZM139.5 499.8L137.5 499.5L135 497.5L134.7 496.5L136.4 494.5L138.5 493.2L139.5 493.4L140.5 494.5L141.2 496.5L140.8 498.5L139.5 499.8ZM115.5 499.7L112.5 500L107.5 499.1L104.8 497.5L104.8 496.5L106.5 495.2L108.5 494.5L115.5 494.1L117.5 495.1L118.7 496.5L118.6 497.5L117.7 498.5L115.5 499.7ZM101.5 497.7L99.5 498.2L98.2 497.5L97.9 496.5L98.8 495.5L100.5 495.4L102 496.5L101.5 497.7Z"/>
<path fill="#3de586" d="M116.5 84.6L113.5 85.3L88.5 85.3L88.5 27.8L115.5 28.2L126.5 31.6L134.5 27.6L142.5 20.4L144.3 17.5L153.6 17.5L153.6 56.5L152.5 60.7L149.5 63.7L142.5 68.2L134.5 72.1L126.5 75.3L116.5 84.6ZM483.5 430.5L403.5 431.4L400.5 431.1L386.5 426.3L380.5 418.4L378.5 417.1L364.5 416L345.5 411.9L342.5 410.4L329.5 400.7L310.5 397.5L303.5 394.8L295.5 390.8L294 389.5L289.3 379.5L284.5 366.7L269.6 317.5L262 283.5L254.8 260.5L247.1 250.5L243.9 245.5L226.8 211.5L225.1 209.5L216.4 203.5L213.4 200.5L206.5 185.5L198 173.5L187.3 156.5L182.1 143.5L180.7 138.5L177.5 120.5L173.9 108.5L173.7 99.5L170.3 90.5L169.5 86.5L163.3 37.5L162.6 17.5L182.5 17.5L182.6 25.5L184.2 36.5L186.5 39L191.5 41.3L250.5 41.6L252.5 42.4L256.5 45.9L258.5 46.5L337.5 46.6L366.5 48L573.5 48L573.5 86.7L279.5 86.7L272.5 87.4L268.5 86.8L257.5 86.7L250.5 85.9L215.5 85.9L210.5 86.2L209.2 87.5L208.2 100.5L209.5 119.5L210.5 123L217.5 110.7L218.5 109.7L220.5 109.6L232.2 120.5L246.7 140.5L250.6 155.5L254 172.5L255.5 185.5L258.1 200.5L258.9 202.5L264.2 210.5L267.3 229.5L274.5 243.5L277.8 246.5L284.5 250L311.5 260.7L330.4 269.5L333.2 272.5L341.6 289.5L344.7 291.5L363.8 300.5L385.9 317.5L388.1 320.5L394.3 332.5L403.1 369.5L408.3 379.5L411.5 383.1L414.5 384.7L426.5 385.8L450.5 395.9L453.5 396.7L474.5 398.8L500.5 402.2L573.5 404.6L573.5 428.9L483.5 430.5ZM148.5 427.6L134.5 427.8L105.5 426.3L88.5 426.5L88.5 408.4L105.5 408.6L135.5 407.6L150.5 408L153.4 409.5L155.2 411.5L156.2 413.5L156.9 417.5L155.9 421.5L154.5 423.7L151.5 426.6L148.5 427.6ZM194.5 426.5L179.5 426.8L166.5 426L163.9 423.5L162.3 419.5L161.9 416.5L162.9 412.5L165.5 409.2L168.5 408.5L193.5 408.3L200.5 409.9L202.5 411.8L203.5 414.5L203.6 418.5L202.9 421.5L200.5 424.5L194.5 426.5ZM200.5 451.7L199.5 451.8L198.7 450.5L198.2 447.5L197.9 437.5L198.5 436L199.5 435.3L200.8 435.5L201.6 437.5L201.5 448.1L200.5 451.7ZM199.5 481.6L199 471.5L199.5 468.3L200.5 468.4L200.8 471.5L200.5 480.2L199.5 481.6Z"/>
<path fill="#3ce265" d="M114.5 84.6L88.5 84.7L88.5 28.4L115.5 28.9L126.5 32.2L134.5 28.3L142.5 21.2L144.7 17.5L153.3 17.5L153.3 55.5L152.5 59.6L150.5 62L143.5 66.8L134.5 71.3L126.5 74.4L117.5 83.1L114.5 84.6ZM451.5 430.5L403.5 431L400.5 430.6L386.5 425.6L380.5 417.7L378.5 416.5L364.5 415.3L345.5 411.2L342.5 409.7L330 400.5L310.5 397.1L303.5 394.3L296.5 390.8L294.5 389.3L290.2 380.5L285.8 369.5L270.4 318.5L262.1 281.5L255.6 260.5L248.2 250.5L245.1 245.5L228.2 211.5L226.5 209.5L217.5 203.4L214.6 200.5L207.5 185.5L188.3 155.5L182.4 141.5L178 120.5L174.4 108.5L174.1 99.5L170.3 87.5L163.4 37.5L162.7 17.5L182 17.5L182.1 25.5L183.9 36.5L185.3 38.5L188.5 40.6L191.5 42.3L194.5 42.9L250.5 43L252.5 43.7L256.5 46.8L259.5 47.4L337.5 47.4L366.5 49L573.5 49L573.5 86.2L272.5 86.4L257.5 86.1L250.5 85.5L214.5 85.5L210.5 85.6L209.5 86L208.7 87.5L207.8 100.5L208.6 107.5L209 120.5L209.5 124.5L210.5 126.7L212.9 119.5L217.5 111.3L218.5 110.2L220.5 110L231.5 120.5L245.6 140.5L249.5 155.5L252.7 172.5L254.2 186.5L256.5 201.4L262.6 210.5L265.8 229.5L273.1 243.5L276.4 246.5L283.5 250.4L328.6 269.5L331.5 272.5L340.7 289.5L343.6 291.5L362.3 300.5L384.9 317.5L387.1 320.5L393.3 332.5L402.5 370.5L408 380.5L411.5 384.1L413.5 385.2L426.5 386.9L450.5 396.8L453.5 397.6L500.5 402.9L573.5 405.9L573.5 427.7L451.5 430.5ZM150.5 425.5L147.5 426.1L135.5 426.2L105.5 424.7L88.5 424.9L88.5 409.6L105.5 409.8L135.5 408.6L149.5 408.8L151.5 409.5L153.9 411.5L155 413.5L155.6 416.5L154.5 421.7L152.5 424.2L150.5 425.5ZM195.5 424.8L179.5 425.2L166.5 424.3L164.5 422.5L163.6 420.5L163.1 416.5L163.7 413.5L165.5 410.6L168.5 409.7L193.5 409.5L198.5 410.5L200.5 411.5L202.1 413.5L202.7 416.5L202.5 419.2L201.6 421.5L200.5 422.7L195.5 424.8Z"/>
<path fill="#3bdf44" d="M115.5 83.7L88.5 84L88.5 29.1L115.5 29.7L126.5 32.9L132.5 30.3L135.5 28.2L142.9 21.5L145.1 17.5L152.9 17.5L152.9 55.5L152 59.5L149.5 61.9L143.5 66L134.5 70.5L126.5 73.4L117.5 82.4L115.5 83.7ZM405.5 430.5L400.5 430.2L387.5 425.7L385.5 424.1L380.5 417.1L378.5 415.9L364.5 414.7L345.5 410.4L342.5 408.9L330.5 400.3L310.5 396.6L304.5 394.4L297.5 391L294.6 388.5L290.7 380.5L286.3 369.5L271 318.5L262.6 280.5L256.5 260.5L246.3 245.5L238.6 230.5L229.6 211.5L227.9 209.5L218.5 203.1L215.9 200.5L207.9 184.5L189.9 155.5L183.1 140.5L178.5 120.5L174.9 108.5L174.5 99.5L171.3 89.5L168.8 74.5L163.6 37.5L162.8 17.5L181.6 17.5L181.7 25.5L183.3 35.5L184.1 37.5L190.5 42.4L192.5 43.5L195.5 44.2L250.5 44.3L252.5 44.9L256.5 47.7L259.5 48.3L337.5 48.3L365.5 50L573.5 50L573.5 85.6L272.5 85.7L257.5 85.6L250.5 85L214.5 85L209.5 85.3L208.5 86.4L207.4 99.5L208.2 107.5L208.3 120.5L209.5 129.4L210.5 130.2L213 120.5L216.5 113.6L218.5 110.7L220.5 110.5L230.8 120.5L244 139.5L248.3 155.5L251.5 172.5L254.7 201.5L261.1 210.5L264.2 229.5L271.8 243.5L275.5 246.9L283.5 251.3L326.8 269.5L329.9 272.5L339.7 289.5L342.6 291.5L360.8 300.5L383.8 317.5L386 320.5L392.2 332.5L401.5 370.5L407 380.5L411.5 385L413.5 386L426.5 388L453.5 398.4L500.5 403.6L573.5 407.2L573.5 426.4L558.5 426.5L499.5 428.9L405.5 430.5ZM149.5 424.6L135.5 424.9L105.5 423.3L88.5 423.5L88.5 410.8L105.5 411L135.5 409.6L149.5 409.9L151.5 410.7L153.4 412.5L154.3 414.5L154.6 417.5L153.5 421.5L151.5 423.6L149.5 424.6ZM194.5 423.6L179.5 423.8L166.5 422.9L165.1 421.5L164.3 419.5L164 416.5L164.5 413.8L166.2 411.5L168.5 410.9L181.5 410.5L193.5 410.6L196.5 411.1L200.6 413.5L201.5 415.8L201.5 418.2L200.6 420.5L199.5 421.6L194.5 423.6Z"/>
<path fill="#3fde33" d="M116.5 82.5L113.5 83.3L88.5 83.3L88.5 29.7L115.5 30.4L126.5 33.6L132.5 31L135.5 29L143.5 21.7L145.6 17.5L152.6 17.5L152.6 54.5L151.9 58.5L150.2 60.5L143.5 65.2L134.5 69.7L126.5 72.6L116.5 82.5ZM425.5 429.5L403.5 430.1L399.7 429.5L386.5 424.5L380.5 416.5L378.5 415.3L364.5 414.1L345.5 409.7L342.5 408.2L329.5 399.6L310.5 396.2L302.5 393.1L297.4 390.5L295.1 388.5L291.1 380.5L286.8 369.5L271.5 318.5L263.2 280.5L257.4 260.5L247 244.5L239.3 229.5L231 211.5L229.3 209.5L219.5 202.8L217.2 200.5L205.5 178.3L190.5 153.7L184.1 140.5L175.4 108.5L174.8 99.5L172 89.5L169.1 73.5L163.7 37.5L162.9 17.5L181.1 17.5L181.2 25.5L183.8 37.5L191.5 43.6L194.5 45.2L196.5 45.5L249.5 45.6L252.5 46.1L256.5 48.6L258.5 49.1L337.5 49.2L366.5 51.1L573.5 51.1L573.5 85L272.5 85.1L212.5 84.5L209.5 84.7L208.3 85.5L207.7 88.5L207 99.5L207.9 107.5L207.8 121.5L209.5 134L210.5 133.4L213.8 119.5L217.5 112.7L219.5 110.9L221.5 111.8L230.1 120.5L242.9 139.5L247.2 155.5L250.3 172.5L252.8 201.5L259.5 210.5L262.6 229.5L270.5 243.5L274.5 247.2L282.5 251.8L298.5 259.2L321.5 268L326.5 270.5L331.5 277.4L338.8 289.5L342.5 292L359.3 300.5L382.7 317.5L385 320.5L391.1 332.5L400.6 370.5L406.1 380.5L410.5 385.2L412.5 386.6L426.5 389L453.5 399.2L499.5 404.2L543.5 406.4L573.5 409L573.5 425.1L559.5 425.2L499.5 428.2L452.5 429.5L425.5 429.5ZM148.5 423.6L134.5 423.7L104.5 421.9L88.5 422.2L88.5 412L104.5 412.3L134.5 410.6L149.5 410.9L151.5 411.9L152.8 413.5L153.7 417.5L152.2 421.5L150.5 423L148.5 423.6ZM187.5 422.5L167.5 421.8L166.5 421.4L165.3 419.5L164.9 416.5L165.3 414.5L166.5 412.8L167.5 412.3L180.5 411.6L194.5 411.9L196.5 412.5L199.2 414.5L200.1 417.5L199.2 419.5L197.5 421.1L194.5 422.3L187.5 422.5Z"/>
<path fill="#4adf30" d="M114.5 82.6L88.5 82.6L88.5 30.4L115.5 31.1L125.5 34.3L127.5 34.2L134.5 30.6L141.5 24.7L144.5 21.2L146 17.5L152.2 17.5L152.2 54.5L151.5 58.3L149.5 60.4L142.5 65.1L134.5 69L126.5 71.9L117.5 81.1L114.5 82.6ZM407.5 429.5L401.3 429.5L387.5 424.5L385.5 423L380.5 416L378.5 414.7L364.5 413.6L345.5 409L342.5 407.6L330.2 399.5L310.5 395.8L302.5 392.8L297.5 390.2L295.6 388.5L291.6 380.5L287.3 369.5L272 318.5L263.9 280.5L258.3 260.5L248.2 244.5L240.6 229.5L232.3 211.5L230.7 209.5L220.5 202.6L218.5 200.5L204.5 173.9L190.5 151.1L184.7 139.5L175.9 108.5L175.2 99.5L172.6 89.5L169.5 73.1L163.8 37.5L163 17.5L180.6 17.5L180.8 25.5L183.5 37.5L192.5 44.8L196.5 46.5L249.5 46.6L252.5 47.1L256.5 49.4L258.5 49.9L337.5 50L366.5 52.3L573.5 52.3L573.5 84.4L212.5 84L209.5 84.2L208.5 84.5L207.8 85.5L206.7 98.5L207.5 107.5L207.2 120.5L208.5 135.5L209.5 139.2L211.5 132.8L214.3 119.5L218.5 112.2L219.5 111.6L220.5 111.8L229.4 120.5L242.3 140.5L246.1 155.5L249.1 172.5L250.9 201.5L257.9 210.5L261.1 229.5L269.2 243.5L271.5 246.1L276.5 249.6L290.5 257L298.5 260.5L320.5 268.4L324.8 270.5L327.5 273.7L337 288.5L338.5 290.1L357.9 300.5L381.6 317.5L383.9 320.5L390.1 332.5L399.6 370.5L405.1 380.5L410.5 386.2L412.5 387.5L426.5 390L453.5 399.9L499.5 404.9L543.9 407.5L573.5 411L573.5 423.5L559.5 423.7L499.5 427.5L452.5 428.9L407.5 429.5ZM209 158.5L210.2 154.5L209.5 143.8L208.5 148.2L207.9 155.5L208.5 159.4L209 158.5ZM147.5 422.5L133.5 422.6L104.5 420L88.5 420.5L88.5 413.5L104.5 414.1L133.5 411.6L148.5 411.7L150.5 412.4L151.6 413.5L152.7 417.5L152.1 419.5L150.8 421.5L147.5 422.5ZM194.5 420.7L180.5 421.1L168.5 420.2L166.5 419L166 416.5L167 414.5L169.5 413.8L180.5 413L194.5 413.4L197.4 415.5L197.8 417.5L196.6 419.5L194.5 420.7Z"/>
<path fill="#55e02d" d="M115.5 81.8L88.5 82L88.5 31.1L115.5 31.9L125.5 35.1L127.5 34.9L134.5 31.4L142.5 24.8L144.5 22.3L146.5 17.5L151.8 17.5L151.8 54.5L151.4 57.5L149.5 59.7L143.5 64L134.5 68.3L126.5 71.3L117.5 80.4L115.5 81.8ZM424.5 428.5L403.5 429.2L400.5 428.8L386.5 423.4L380.5 415.5L379.2 414.5L364.5 413.1L345.5 408.3L342.5 407L330.5 399.3L309.5 395.1L302.5 392.4L297.5 389.8L296.1 388.5L292.1 380.5L287.7 369.5L272.6 318.5L270.1 308.5L264.6 280.5L259.2 260.5L248.9 243.5L241.8 229.5L233.7 211.5L232.1 209.5L221.7 202.5L219.5 200.1L213 188.5L206.9 175.5L206 169.5L203.5 168.8L201.5 166.5L190.5 148.8L185.6 139.5L176.2 107.5L175.6 99.5L170.1 73.5L164.1 38.5L163.1 17.5L180.1 17.5L180.3 25.5L183.2 37.5L192.5 45.3L196.5 47.3L249.5 47.4L252.5 47.9L256.5 50.2L258.5 50.7L337.5 50.8L366.5 53.8L573.5 53.8L573.5 83.7L211.5 83.6L208.5 83.8L207.5 84.8L206.8 89.5L206.3 99.5L207.2 107.5L206.7 121.5L208 139.5L206.7 158.5L206.8 164.5L207.5 166.5L210.8 156.5L210.7 139.5L214.1 121.5L217.5 114.3L219.5 112.5L220.5 112.6L228.7 120.5L241.2 140.5L245 155.5L247.8 172.5L249.1 201.5L256.3 210.5L259.5 229.5L267.9 243.5L270.5 246.4L275.5 250.2L290.5 258.4L318.5 268.3L323.1 270.5L329.5 278.6L336 288.5L338.1 290.5L356.4 300.5L381.5 318.5L389 332.5L398.6 370.5L404.1 380.5L410.5 387.3L412.5 388.4L427.5 391.2L453.5 400.6L475.5 403.4L497.5 405.4L541.5 408.6L560.5 411.6L573.5 412.8L573.5 420.8L560.5 421.6L539.5 423.9L500.5 426.7L452.5 428.4L424.5 428.5ZM149.5 420.9L135.5 421.5L126.5 420.6L113.4 418.5L110.3 417.5L110.4 416.5L119 414.5L132.5 412.8L148.5 412.9L150.5 414L151.6 416.5L150.9 419.5L149.5 420.9ZM190.5 418.5L178.5 418.8L172.6 417.5L172.7 416.5L180.5 415.1L192.5 415.6L194.7 416.5L194.7 417.5L193.5 418.2L190.5 418.5Z"/>
<path fill="#6ae22c" d="M116.5 80.7L113.5 81.5L88.5 81.5L88.5 31.9L115.5 32.7L125.5 35.9L127.5 35.7L134.5 32.2L142.5 26.1L145 22.5L146.9 17.5L151.4 17.5L151.4 54.5L150.9 57.5L149.1 59.5L142.5 64L126.5 70.7L116.5 80.7ZM203.5 164.7L202.5 164.3L200.5 162.1L191.5 148.4L187 140.5L176.9 108.5L175.8 98.5L170.4 72.5L164.3 38.5L163.2 17.5L179.7 17.5L179.8 25.5L182.9 37.5L192.5 45.8L196.5 48L250.5 48.2L252.5 48.6L256.5 51L259.5 51.6L337.5 51.6L366.5 55.5L573.5 55.5L573.5 83L208.5 83.3L207.5 83.8L206.8 85.5L206 98.5L206.8 107.5L206.1 120.5L207.1 141.5L205.5 160.5L204.5 164.2L203.5 164.7ZM408.5 428.5L401.5 428.6L387.5 423.4L385.5 421.9L380.5 415L378.5 413.8L364.5 412.6L345.5 407.7L330.5 399L308.5 394.4L299.4 390.5L297.5 389.3L296 387.5L292.6 380.5L288.2 369.5L272.9 317.5L265.3 280.5L260.1 260.5L250.1 243.5L243.1 229.5L235.1 211.5L232.5 208.7L223.1 202.5L221.1 200.5L213.5 187.5L208.1 174.5L208.2 171.5L211.5 156.1L211.3 141.5L211.7 137.5L214.8 120.5L218.5 113.9L219.5 113.3L221.5 113.9L227.2 119.5L240.1 140.5L244.1 156.5L246.7 173.5L247.2 201.5L254.8 210.5L258 229.5L266.5 243.5L269.1 246.5L273.5 250.1L287.6 258.5L295.2 261.5L316.5 268.3L321.3 270.5L323.5 272.6L335 288.5L337.1 290.5L354.9 300.5L380.4 318.5L387.9 332.5L397.7 370.5L403.8 381.5L410.5 388.4L412.5 389.4L427.5 392.1L453.5 401.2L475.5 404.3L541.5 410.1L565.4 414.5L568.4 415.5L569.2 416.5L566.5 417.9L550.5 421.3L519.5 424.6L499.5 426L453.5 427.9L408.5 428.5ZM147.5 419.5L133.5 419.7L126.5 418.1L124.7 417.5L124.8 416.5L127.5 415.5L134.5 414.3L147.5 414.5L149.5 415.2L150.2 417.5L149.5 418.8L147.5 419.5Z"/>
<path fill="#89e72b" d="M115.5 80.6L88.5 80.9L88.5 32.7L115.5 33.5L125.5 36.7L127.5 36.6L134.5 33L142.4 27.5L144.7 24.5L147.4 17.5L151 17.5L151 54.5L150.4 57.5L143.5 63L126.5 70.2L117.5 79.3L115.5 80.6ZM203.5 160L202.5 160.2L200.5 158.9L193.5 149.4L188 140.5L177.7 109.5L175 91.5L164.4 38.5L163.4 25.5L163.3 17.5L179.2 17.5L179.4 25.5L182.6 37.5L193.5 47.1L195.5 48.3L197.5 48.7L250.5 48.8L252.5 49.3L256.5 51.8L259.5 52.4L337.5 52.5L366.5 57.2L573.5 57.2L573.5 82.3L208.5 82.7L207.5 83L206.5 84.5L205.9 89.5L205.6 99.5L206.4 108.5L205.6 120.5L206.4 140.5L205.1 153.5L204.5 157.5L203.5 160ZM423.5 427.5L403.5 428.3L400.5 427.8L386.5 422.2L379.5 413.7L364.5 412.2L345.5 407.1L330.5 398.7L308.5 394L300.1 390.5L298.3 389.5L296.5 387.5L293.1 380.5L288.7 369.5L273.4 317.5L271 307.5L265.9 280.5L260.5 259.5L249.3 239.5L236 210.5L233.5 208.2L223.5 201.5L221.5 199.2L214 186.5L209.8 175.5L209.5 172.5L212.1 155.5L212 138.5L215.2 120.5L218.5 114.7L219.5 114.2L221.5 114.7L226.5 119.5L239 140.5L243 156.5L245.5 173.5L245.2 201.5L246.4 203.5L253.2 210.5L256.4 229.5L265.2 243.5L271.5 250L284.5 258.5L292.1 261.5L315 268.5L319.6 270.5L322.5 273.3L334.1 288.5L336.2 290.5L353.4 300.5L379.4 318.5L386.9 332.5L396.7 370.5L402.1 380.5L407.2 386.5L410.5 389.5L412.5 390.4L426.5 392.6L452.5 401.6L475.5 405.1L502.5 407.2L540.5 411.5L552.5 413.7L555 414.5L556.3 415.5L556.7 416.5L556.1 417.5L554.5 418.5L548.5 420.1L521.5 423.6L499.5 425.3L453.5 427.3L423.5 427.5Z"/>
<path fill="#a9ec2a" d="M116.5 79.5L113.5 80.3L88.5 80.4L88.5 33.5L115.5 34.3L125.5 37.6L127.5 37.4L134.5 33.9L142.5 28.8L145.5 24.5L148 17.5L150.5 17.5L150.7 53.5L149.9 57.5L143.5 62.5L126.5 69.7L116.5 79.5ZM202.5 156L200.5 155.8L197.5 152.9L189 140.5L181.8 121.5L178.2 109.5L175.4 90.5L164.5 38.2L163.5 25.5L163.4 17.5L178.7 17.5L178.9 25.5L182.2 37.5L193.5 47.6L195.5 48.9L197.5 49.4L250.5 49.5L252.5 50L256.5 52.6L259.5 53.2L337.5 53.3L366.5 58.9L573.5 58.9L573.5 81.6L365.5 81.6L207.5 82.4L206.5 83.2L206.1 84.5L205.4 91.5L205.2 99.5L206.1 107.5L205 120.5L205.5 141.5L204.2 152.5L203.5 155L202.5 156ZM242.5 199.6L239.5 200.3L227.5 200.5L225.5 200.3L223.5 199.4L220.5 195.7L215.5 187.5L211.2 175.5L210.9 172.5L212.6 155.5L212.6 138.5L215.6 120.5L217.5 116.8L219.5 115L220.5 115L222.5 116.2L226.6 120.5L237 138.5L238.2 141.5L241.9 156.5L244.2 173.5L243.6 195.5L242.5 199.6ZM407.5 427.5L401.5 427.5L387.5 422.3L385.5 420.7L381.5 415.1L379.5 413.2L364.5 411.7L345.5 406.5L330.5 398.4L309.5 393.9L303.5 391.9L297.7 388.5L293.5 380.5L289.2 369.5L274 317.5L268.8 293.5L266.6 280.5L263.8 270.5L261.8 260.5L246.5 231.3L237.9 210.5L235.7 207.5L235.5 206.4L245.5 206.3L250.5 209.5L251.9 212.5L255.2 230.5L265.4 245.5L271.5 251.5L283.4 259.5L312.5 268.3L317.9 270.5L320.5 272.8L335.2 290.5L351.9 300.5L378.3 318.5L385.8 332.5L395.7 370.5L402.5 382.4L405.8 386.5L410.5 390.6L415.5 392.4L426.5 393.4L453.5 402.4L474.5 405.9L501.5 407.8L537.3 412.5L547.7 414.5L549.9 415.5L550.5 416.5L549.9 417.5L547.8 418.5L538.5 420.5L522.5 422.7L501.5 424.4L452.5 426.8L407.5 427.5Z"/>
<path fill="#c5ee2a" d="M114.5 79.7L88.5 79.8L88.5 34.3L115.5 35.1L125.5 38.4L127.5 38.2L136.7 33.5L143.5 29.2L145.5 26.1L148.5 18.2L149.6 17.5L150.2 26.5L150.2 52.5L149.5 57.2L143.5 62.1L126.5 69.2L117 78.5L114.5 79.7ZM202.5 152.9L200.5 153.3L198.5 152L194.5 147.2L190 140.5L182 120.5L178.7 109.5L175.8 89.5L171.7 72.5L164.5 37.5L163.5 17.5L178.2 17.5L178.4 25.5L181.9 37.5L193.5 48.1L195.5 49.4L197.5 50L250.5 50.1L252.5 50.6L256.5 53.4L259.5 54L337.5 54.1L366.5 60.7L573.5 60.7L573.5 80.8L366.5 80.8L207.5 81.8L206.5 82.3L205.9 83.5L205.1 89.5L204.9 99.5L205.7 107.5L204.5 120.5L204.8 140.5L203.7 149.5L202.5 152.9ZM239.5 196.6L235.5 197.2L225.5 197.2L222.5 196L219.5 192.4L216 186.5L212.7 175.5L212.3 172.5L213.1 156.5L212.9 139.5L216.1 120.5L217.5 117.6L219.5 115.9L220.5 115.9L222.5 116.9L225.9 120.5L234.9 136.5L237.1 141.5L240.1 153.5L243 174.5L241.9 193.5L241.2 195.5L239.5 196.6ZM421.5 426.5L403.5 427.2L400.5 426.7L386.5 421.1L381.4 414.5L379.5 412.8L364.5 411.3L346.5 406.3L342.5 404.7L330.5 398.1L309.5 393.6L303.5 391.6L298.3 388.5L294 380.5L289.7 369.5L279.2 332.5L274.5 317.5L268.9 291.5L267.3 280.5L264.5 270.5L262.7 260.5L247.5 230.3L244.5 221.9L244.5 218.3L248.5 218L250.5 219.3L253.1 229.5L254.1 231.5L266.4 248.5L276.5 257.2L282.8 260.5L310.5 268.3L316.1 270.5L319.5 273.5L334.3 290.5L350.5 300.5L377.2 318.5L384.7 332.5L394.8 370.5L402.5 383.8L405.5 387.6L410.5 391.8L415.5 393.7L426.5 394.3L453.5 403L475.5 406.8L499.5 408.3L508.3 409.5L538.5 414.2L543.3 415.5L544.3 416.5L543.7 417.5L541.3 418.5L531.8 420.5L521.5 422L504 423.5L453.5 426.2L421.5 426.5Z"/>
<path fill="#deef29" d="M201.5 150.8L199.5 150.7L197.5 149.1L190.5 139.6L182.5 120.5L179.2 109.5L176.4 89.5L172.2 72.5L164.7 37.5L163.7 25.5L163.6 17.5L177.7 17.5L177.9 25.5L181.6 37.5L193.5 48.6L195.5 50L197.5 50.6L250.5 50.7L252.5 51.3L256.5 54.2L259.5 54.8L337.5 54.9L366.5 62.4L573.5 62.4L573.5 80L366.5 80.1L258.5 80.5L250.5 81.1L207.5 81.3L205.7 82.5L204.8 88.5L204.5 99.5L205.4 107.5L203.9 120.5L204 140.5L203 147.5L201.5 150.8ZM115.5 78.8L88.5 79.1L88.5 35.1L114.5 35.9L125.5 39.3L127.5 39.1L143.5 30.6L145.6 27.5L148.5 20.7L149.5 22.8L149.7 29.5L149.8 52.5L149.3 56.5L147.6 58.5L143.5 61.6L126.5 68.7L115.5 78.8ZM237.5 193.6L224.5 194L221.5 192.7L217 186.5L214.3 176.5L213.7 172.5L213.4 139.5L216.5 120.8L217.5 118.5L219.5 116.8L220.5 116.7L222.5 117.7L225.1 120.5L233.9 136.5L236.1 141.5L239.3 154.5L241.8 174.5L240.4 190.5L239.5 192.5L237.5 193.6ZM406.5 426.5L401.5 426.4L387.5 421.1L385.5 419.6L381.5 414.1L379.5 412.3L364.5 410.8L346.5 405.7L342.5 404.2L329.6 397.5L308.5 392.9L302.5 390.8L298.5 388.1L294.5 380.5L290.5 370.5L284.4 350.5L273.2 310.5L269.3 290.5L267.9 280.5L264.9 269.5L263.7 260.5L255.5 242.2L254.8 239.5L255.5 238.5L266.2 250.5L273.5 257.2L276.5 259.2L283 261.5L308.9 268.5L314.5 270.6L318.5 274.1L333.4 290.5L373.5 316.3L376.2 318.5L383.7 332.5L393.9 370.5L399.3 380.5L403.5 386.7L410.5 393L415.5 394.9L426.5 395.1L451.5 403.1L473.5 407.4L502.5 409.4L532.1 414.5L536 415.5L537.7 416.5L537.2 417.5L534.9 418.5L525.8 420.5L499.5 423.1L453.5 425.7L406.5 426.5Z"/>
<path fill="#f6f028" d="M200.5 148.7L199.5 148.6L197.5 147.2L191.5 139.5L183 120.5L179.7 109.5L178.2 101.5L176.9 89.5L164.9 37.5L163.8 25.5L163.7 17.5L177.1 17.5L177.4 25.5L181.2 37.5L193.5 49.1L195.5 50.6L197.5 51.2L250.5 51.4L252.5 52.1L256.5 55L259.5 55.7L337.5 55.8L363.5 63.7L366.5 64.2L573.5 64.2L573.5 79.2L366.5 79.2L337.5 79.8L258.5 79.8L250.5 80.6L206.5 81L205.2 82.5L204.3 90.5L204.1 99.5L205 107.5L203.4 120.5L203.1 140.5L202 146.5L200.5 148.7ZM115.5 78L88.5 78.4L88.5 36.1L115.5 37L126.5 40.2L142.7 32.5L144.6 30.5L147.5 25.3L148.5 24.4L149.3 34.5L149.3 52.5L148.7 56.5L143.5 61.1L126.5 68.1L115.5 78ZM236.5 190.5L222.5 190.6L220.5 189.4L218.5 187L216.8 182.5L214.9 172.5L213.8 140.5L216.9 121.5L217.6 119.5L219.5 117.7L221.5 117.9L224.4 120.5L233.2 136.5L235 140.5L238.2 153.5L240.7 174.5L239 187.5L238.1 189.5L236.5 190.5ZM420.5 425.5L401.5 425.9L387.4 420.5L385.5 418.9L381.5 413.6L379.5 411.8L364.5 410.3L346.5 405.2L342.5 403.7L330.4 397.5L309.5 392.9L303.5 390.9L299.4 388.5L295.5 381.5L290.6 369.5L284.9 350.5L280.3 332.5L275.2 316.5L270 291.5L268.5 280.3L265.6 269.5L264.8 260.5L263.3 255.5L263.5 253.8L264.5 253.5L266.5 254.1L272.2 258.5L276.5 260.5L306.6 268.5L312.5 270.5L319.5 276.7L332.5 290.5L374.5 317.8L376.6 320.5L382.7 332.5L393.5 371.5L398.5 380.8L403.5 388.4L410.5 394.2L415.5 396.1L426.5 395.9L451.5 403.8L473.5 408.2L501.5 410.1L526.5 415L530.7 416.5L530.6 417.5L528.6 418.5L522.5 420L498.5 422.4L453.5 425.1L420.5 425.5Z"/>
<path fill="#f8e027" d="M200.5 145.9L199.5 146.4L197.5 145.4L192.5 139.3L183.5 120.6L180.1 109.5L178.5 101L177.3 89.5L165.1 37.5L163.9 25.5L163.8 17.5L176.6 17.5L176.8 25.5L180.8 37.5L193.5 49.7L195.5 51.2L197.5 51.8L250.5 52.3L252.5 52.9L256.5 56L259.5 56.6L337.5 56.8L363.5 65.7L366.5 66.3L432.5 67.6L468.5 66.5L499.5 66.5L509.5 67.2L518.5 68.7L526.5 67.4L538.5 66.6L573.5 66.5L573.5 78.2L539.5 78.2L518.5 77.2L498.5 78.2L432.5 77.6L337.5 79.1L258.5 79.1L250.5 80L206.5 80.4L205.5 80.9L204.7 82.5L204.1 87.5L203.7 99.5L204.6 108.5L202.9 120.5L202.3 139.5L201.5 143.8L200.5 145.9ZM115.5 77L88.5 77.4L88.5 37.5L115.5 38.3L126.5 41L142.5 33.6L147.5 28.1L148.5 29.8L148.8 34.5L148.8 52.5L148 56.5L143.5 60.5L126.5 67.5L115.5 77ZM235.5 187.5L221.5 187.4L219.5 186L218.6 184.5L217.1 179.5L215.9 173.5L214.8 161.5L214.3 140.5L217.5 121.5L218.4 119.5L219.5 118.6L220.5 118.5L222.5 119.4L224.5 121.9L233 137.5L235.1 143.5L238 156.5L239.7 173.5L238 184.5L237.1 186.5L235.5 187.5ZM404.5 425.5L400.5 425L387.5 419.8L385.5 418.3L381.5 413L379.5 411.3L364.5 409.8L346.5 404.7L330.5 397.3L305.5 391.3L301.4 389.5L299.1 387.5L295.5 380.5L291.1 369.5L285.4 350.5L280.5 331.6L275.7 316.5L270.5 291.5L269.1 280.5L266.2 269.5L265.9 263.5L266.5 260.2L267.5 259.6L269.5 259.6L304.2 268.5L310.5 270.6L313.5 272.5L319.5 278L331.6 290.5L373.5 317.7L375.7 320.5L381.9 332.5L392.5 371.1L402.5 388.7L409.5 394.7L414.5 397.2L426.5 396.7L452.5 404.8L473.5 409L498.5 410.6L504.6 411.5L521.4 415.5L523.8 416.5L524 417.5L522.2 418.5L516.5 419.6L474.5 423.4L452.3 424.5L404.5 425.5Z"/>
<path fill="#f9d026" d="M199.5 143.9L198.5 144L196.5 142.6L191.5 135.6L183.9 120.5L180.6 109.5L178.9 100.5L177.5 88.5L165.4 38.5L164 25.5L164 17.5L176 17.5L176.3 25.5L180.4 37.5L193.5 50.3L196.5 52.3L250.5 53.2L252.5 53.9L256.5 57L259.5 57.7L337.5 57.8L365.5 68.6L413.5 71.2L425.8 72.5L430.2 73.5L430.2 74.5L423.2 75.5L401.8 76.5L338.5 78.3L290.5 78.4L272.5 78.9L258.5 78.5L250.5 79.3L205.5 80.2L204.3 82.5L203.6 89.5L203.3 99.5L204.3 107.5L202.4 120.5L201.5 137.5L200.5 142.5L199.5 143.9ZM115.5 75.5L88.5 75.8L88.5 39.4L114.5 40L126.5 41.8L142.5 34.4L146.5 30.9L147.5 30.8L148.2 34.5L148.3 51.5L148 54.5L147.2 56.5L144.5 59.3L142.5 60.5L126.5 66.7L115.5 75.5ZM505.5 76.5L498.5 77L473.5 77L454 76.5L439.6 75.5L434.8 74.5L434.8 73.5L438.5 72.4L449.5 70.9L475.5 69.4L500.5 69.5L508.5 71.3L512.2 73.5L512.2 74.5L510.6 75.5L505.5 76.5ZM573.5 77L536.5 76.8L527.1 75.5L525.1 74.5L525.1 73.5L529.5 71.3L539.5 69.5L573.5 69.4L573.5 77ZM234.5 184.7L222.5 184.7L220.5 184.2L218.5 181L217 175.5L215 157.5L214.8 140.5L218 122.5L218.8 120.5L220.5 119.5L222.5 120.5L223.5 121.7L232.9 138.5L237 154.5L238.8 174.5L237.2 182.5L236.5 183.8L234.5 184.7ZM419.5 424.5L401.5 424.7L386.5 418.5L381.5 412.4L379.5 410.7L364.5 409.3L346.5 404.2L330.5 397L305.5 391L302.1 389.5L299.6 387.5L296 380.5L291.5 369.5L285.8 350.5L281.2 332.5L276.1 316.5L271 291.5L269.5 279.5L266.8 269.5L266.7 265.5L267.5 262.5L271.5 262L281.3 263.5L301.7 268.5L309.5 271.3L318.5 278.3L332.1 291.5L372.5 317.6L374.9 320.5L381.1 332.5L391.5 370.5L402.1 389.5L409.5 395.7L414.5 398.3L426.5 397.6L451.5 405.4L472.5 409.6L500.5 411.7L512.7 414.5L517.2 416.5L516.9 417.5L514.5 418.3L507.7 419.5L476.5 422.4L451.5 423.9L419.5 424.5Z"/>
<path fill="#fabe25" d="M198.5 141.8L196.5 140.8L194.5 138.5L187.5 126.7L184 119.5L180.8 108.5L179.3 100.5L178.1 89.5L165.5 38L164.1 25.5L164.1 17.5L175.4 17.5L175.6 25.5L180 37.5L193.5 51.1L196.5 53L250.5 54.2L252.5 54.9L256.5 58.1L259.5 58.8L337.5 58.9L346.6 62.5L364.5 70.8L387.6 73.5L387.5 74.5L378.2 75.5L339.5 77.5L290.5 77.7L272.5 78.4L257.5 77.7L250.5 78.6L205.5 79.5L204.5 80.2L204 81.5L203.4 87.5L202.9 99.5L203.9 107.5L202 119.5L201 134.5L200.1 139.5L199.5 141L198.5 141.8ZM115.5 73.8L88.5 74.1L88.5 41.5L114.5 42L125.5 42.8L127.5 42.3L142.5 35.2L146.5 32.5L147.4 33.5L147.6 35.5L147.7 50.5L147.5 53.8L146.4 56.5L144.7 58.5L142.5 59.8L126.5 65.9L115.5 73.8ZM500.5 74.8L470.5 75L465.8 74.5L465.7 73.5L471.5 72.6L498.5 72.7L501.4 73.5L501.4 74.5L500.5 74.8ZM573.5 75.1L541.5 75L538.3 74.5L538.2 73.5L542.5 72.6L573.5 72.6L573.5 75.1ZM235.5 181.7L222.5 182L220.5 181.5L219.1 179.5L217.5 174.5L215.4 156.5L215.4 140.5L218.5 124.3L219.5 121.9L220.5 121.3L222.5 122.3L225.5 126.5L231.8 137.5L233.5 141.5L236.7 156.5L238.1 172.5L237.3 178.5L236.5 180.7L235.5 181.7ZM441.5 423.5L401.5 424.1L386.5 417.7L379.5 410.1L362.5 408.2L344.5 403.2L329.5 396.4L309.5 391.9L304.5 390.3L301.2 388.5L299.5 386.5L296.9 381.5L292 369.5L286.3 350.5L281.5 331.8L276.9 317.5L271.5 291.5L270.2 280.5L267.6 270.5L267.5 266.5L268.3 264.5L272.5 264L281.5 264.6L299.1 268.5L307.7 271.5L318.5 279.3L331.2 291.5L342.9 299.5L372.5 318.3L380.3 332.5L391.3 371.5L401.5 390L409.5 396.7L414.5 399.3L426.5 398.4L452.5 406.6L472.5 410.3L500.5 412.8L507.1 414.5L509.7 415.5L510.8 416.5L509.7 417.5L506.5 418.3L498.3 419.5L472.5 421.9L441.5 423.5Z"/>
<path fill="#faaa24" d="M198.5 138.9L197.5 139.2L195.5 137.8L189.5 129.1L184.9 120.5L181.5 109.5L179.7 100.5L178.4 89.5L165.5 36.9L164.3 25.5L164.2 17.5L174.7 17.5L175 25.5L179.5 37.5L193.5 51.9L196.5 53.8L250.5 55.3L252.5 56L256.5 59.3L259.5 60.1L337.5 60.2L343.2 62.5L354.6 68.5L359.1 71.5L360.6 73.5L359.6 74.5L354.8 75.5L339.5 76.7L291.5 76.9L272.5 78L257.5 77L250.5 77.9L206.5 78.9L204.5 79.3L203.4 82.5L202.5 97.5L203.4 108.5L201.6 119.5L200.4 132.5L199.5 136.9L198.5 138.9ZM116.5 71.7L113.5 72.3L88.5 72.3L88.5 43.6L119.5 44.1L125.5 43.7L145.5 34.2L146.5 34.4L147 37.5L147 52.5L146.7 54.5L145.5 56.7L142.5 59.1L126.5 65.1L116.5 71.7ZM235.5 178.8L233.5 179.3L221.5 179.3L219.5 177.8L218.5 175.4L215.8 156.5L215.9 141.5L216.5 136.7L218.5 128.8L219.5 126.6L220.5 125.9L223.5 126.4L225.5 128.4L232.7 140.5L235.8 154.5L236.5 160.6L237.3 173.5L236.5 177.3L235.5 178.8ZM417.5 423.5L401.5 423.5L386.5 416.9L379.5 409.5L364.5 408.2L345.5 403L330.5 396.5L306.5 390.7L303.3 389.5L300.7 387.5L297 380.5L292.5 369.5L286.7 350.5L282.2 332.5L277 316.5L272 291.5L270.7 280.5L268.3 270.5L268.4 267.5L269.1 266.5L273.5 266L286.2 266.5L298.5 269.1L305.5 271.6L316.5 278.7L327.8 289.5L331.5 292.3L341.9 299.5L371.9 318.5L379.6 332.5L389.5 368.5L393.5 377.2L401.5 391.1L408.5 397L412.5 399.6L415.5 400.4L426.5 399.2L452.5 407.6L474.5 411.4L498.5 413.9L503.5 415.5L504 416.5L502.3 417.5L496.8 418.5L472.5 421L446.5 422.7L417.5 423.5Z"/>
<path fill="#fa9622" d="M197.5 136L195.5 135.5L193.5 133.6L188.5 126.2L185 119.5L182 109.5L180.2 100.5L178.8 89.5L165.7 36.5L164.5 26.5L164.3 17.5L174.1 17.5L174.4 25.5L179.1 37.5L193.5 52.7L195.5 54.2L250.5 56.4L252.5 57.2L256.5 61.1L258.5 62.1L272.5 61.5L291.5 62.3L336.8 62.5L340.4 64.5L346.2 72.5L346.5 73.5L345.5 74.5L338.5 75.6L311.5 75.3L291.5 75.9L272.5 77.5L257.5 76L250.5 77L204.5 78.6L203.2 80.5L202.3 92.5L202 99.5L203 108.5L199.5 132.4L198.5 135.1L197.5 136ZM113.5 70.5L88.5 70.5L88.5 45.7L115.5 46L122.5 45.3L127.5 44L136.3 39.5L145.5 35.7L146.2 38.5L146.2 52.5L145.5 55.5L144.5 57L142.5 58.4L126.5 64.1L116.5 70L113.5 70.5ZM233.5 176.6L221.5 176.6L219.5 175.1L218.9 173.5L216.3 156.5L216.5 142.5L217.5 136L218.5 133.2L220.5 131.5L224.5 131.5L226.5 132.3L230.5 137.6L232.5 142L235.5 156.5L236.3 170.5L235.7 175.5L233.5 176.6ZM436.5 422.5L404.5 423.3L401.5 422.9L386.5 416.1L379.5 408.9L364.5 407.6L346.5 402.9L330.5 396.2L307.5 390.7L304.1 389.5L301.5 387.8L297.5 380.6L292.9 369.5L287.2 350.5L282.6 332.5L277.4 316.5L272.5 291.5L271.3 280.5L269.3 272.5L269.5 268.6L271.5 268L289.5 268.2L297.5 269.6L304.5 272.2L315.5 278.9L328.2 290.5L338.5 297.9L371.2 318.5L378.9 332.5L389.2 369.5L393.5 378.7L400.9 391.5L411.5 400L413.5 401.2L415.5 401.5L426.5 400.1L452.5 408.6L473.5 412.2L491.2 414.5L494.9 415.5L495.6 416.5L492.7 417.5L478 419.5L436.5 422.5Z"/>
<path fill="#f87d20" d="M196.5 132.7L194.5 132.3L192.5 130.6L187.5 123.4L185.4 119.5L182.4 109.5L178.9 88.5L171 55.5L166.1 37.5L164.5 25.5L164.4 17.5L173.5 17.5L173.8 25.5L178.6 37.5L194.5 54.6L196.5 55.2L213.5 55.4L249.5 57.8L251.9 58.5L253.5 60.8L254.8 69.5L256.1 73.5L255.3 74.5L252.6 75.5L220.6 77.5L205.5 77.9L203.5 78.5L202.6 81.5L201.6 98.5L202.6 108.5L199.5 127.9L198.5 131.2L197.5 132.4L196.5 132.7ZM115.5 68.6L88.5 68.8L88.5 47.8L114.5 48L118.5 47.6L126.5 45.4L142.5 37.5L144.5 37.1L144.9 37.5L145.3 52.5L145 54.5L144 56.5L142.5 57.6L126.5 63.1L115.5 68.6ZM275.5 76.6L269.5 76.7L259.3 74.5L258.6 73.5L260.5 71.4L268.4 65.5L270.5 64.5L272.5 64.2L276.1 65.5L279.5 68.1L285.8 71.5L287.9 73.5L287.1 74.5L275.5 76.6ZM234.5 172.7L232.5 173.4L221.5 173.3L220.5 172.8L219.5 170.9L217.5 161.6L216.8 154.5L217.5 141.1L218.5 138.1L219.5 137.3L228.5 137.5L230.5 139.5L231.5 141.5L234.8 156.5L235.2 168.5L234.5 172.7ZM415.5 422.5L401.5 422.3L386.5 415.2L379.5 408.2L364.5 407L345.5 402.2L330.5 395.9L308 390.5L304.5 389.3L301.8 387.5L298 380.5L293.4 369.5L287.5 350L283.1 332.5L277.9 316.5L273 291.5L271.8 280.5L270.2 273.5L270.5 270.3L274.5 269.6L293.5 269.8L298.5 270.7L304.5 273.2L315.2 279.5L327.4 290.5L338.5 298.6L370.4 318.5L378.2 332.5L388.6 369.5L393.2 379.5L397.7 386.5L400.5 392.2L411.5 401.1L413.5 402.2L415.5 402.5L426.5 400.9L452.5 409.7L479.8 414.5L483.6 415.5L484.5 416.5L482.2 417.5L476.6 418.5L460.5 420.3L439.5 421.8L415.5 422.5Z"/>
<path fill="#f7641f" d="M197.5 128.7L193.5 128.9L190.5 126.5L186.4 120.5L183.5 111.6L182 105.5L179.2 88.5L171.1 54.5L166.4 37.5L164.7 25.5L164.6 17.5L172.8 17.5L173.1 25.5L178 37.5L194.5 55.5L196.5 56L212.5 56L224.5 57L236.1 58.5L240.6 59.5L241.8 60.5L242 72.5L241.7 73.5L240.1 74.5L225.1 76.5L204.5 77.4L202.7 78.5L201.1 98.5L202.2 108.5L199.2 124.5L198.5 127.3L197.5 128.7ZM116.5 66.6L113.5 67L88.5 67L88.5 49.9L116.5 49.8L128.5 47L141.2 39.5L143.5 39.1L143.9 52.5L143.3 55.5L142.1 56.5L128.5 60.9L116.5 66.6ZM276.5 75.6L272.5 76.5L270.5 76.3L267.8 75.5L266.6 74.5L266.5 73.5L269.5 68.8L271.4 67.5L272.5 67.4L275.5 69.3L277.9 72.5L278.3 74.5L276.5 75.6ZM232.5 164.9L221.5 165L219.5 163.8L218.5 161.4L217.5 155.5L218.5 147L219.5 145.6L230.5 145.7L232.5 150L233.9 156.5L233.7 162.5L233.5 163.8L232.5 164.9ZM433.5 421.5L404.5 422.1L401.5 421.7L386.5 414.4L379.5 407.5L364.5 406.4L345.5 401.8L330.5 395.7L309.1 390.5L304.5 389L302.3 387.5L298.5 380.5L293.8 369.5L288.1 350.5L283.5 332.5L278.5 317.3L276.5 309.1L273.5 291.3L271.1 274.5L271.5 271.7L275.5 270.8L294.5 270.9L298.5 271.7L304.5 274.1L314.5 279.9L326.5 290.5L338.5 299.3L369.6 318.5L377.5 332.5L388 369.5L392.4 379.5L397 386.5L399.7 392.5L410.5 401.5L414.5 403.5L424.5 401.8L427.5 402L441.2 406.5L451.5 410.6L470.4 414.5L473.2 415.5L474 416.5L472.5 417.5L464.5 418.9L433.5 421.5Z"/>
<path fill="#f54b1d" d="M197.5 125L192.5 125.4L189.5 123.6L186.5 119.2L183.5 109.8L179.9 89.5L175.5 72.8L171.8 55.5L166.5 36.7L164.9 25.5L164.8 17.5L172.2 17.5L172.5 25.5L177.5 37.5L193.5 55.8L196.5 56.7L211.5 56.8L219.8 57.5L225.3 58.5L227.4 59.5L227.9 60.5L228 72.5L227.1 74.5L224 75.5L215.4 76.5L203.5 76.9L202 78.5L200.6 99.5L201.7 108.5L198.5 123.4L197.5 125ZM116.5 64.8L88.5 65.2L88.5 52.1L119.5 52.1L121.2 54.5L122.9 60.5L121.3 62.5L116.5 64.8ZM273.5 75.6L270.5 75.6L269 74.5L269.6 72.5L271.5 70.7L273.5 71.1L275.4 73.5L275.5 74.5L273.5 75.6ZM408.5 421.5L401.5 421.1L388.2 414.5L385.5 412.7L379.5 406.9L364.5 405.8L345.5 401.4L330.5 395.4L309.5 390.3L304.5 388.6L302.9 387.5L299.5 381.5L294.3 369.5L288.5 350.2L284 332.5L278.5 315.7L273.9 290.5L272 275.5L272.5 273.1L273.5 272.3L276.5 271.8L294.5 271.8L298.5 272.6L304.5 275L313.5 280L325.6 290.5L337.8 299.5L368.8 318.5L376.8 332.5L387.3 369.5L392.2 380.5L396.3 386.5L399.5 393.7L408.9 401.5L412.5 403.9L414.5 404.6L424.5 402.7L427.5 402.9L438.5 406.5L451.5 411.8L463.1 414.5L465.6 415.5L466.3 416.5L464.7 417.5L459.7 418.5L441.9 420.5L408.5 421.5Z"/>
<path fill="#f2311b" d="M196.5 121.7L190.5 121.7L188.5 120.6L186.5 116.9L183.5 107.8L180.3 89.5L175.5 71L172.1 54.5L166.5 35.1L165.1 25.5L165 17.5L171.5 17.5L171.9 25.5L176.8 37.5L193.5 57L196.5 57.7L213.5 57.9L216.9 58.5L219.3 59.5L219.9 60.5L220 72.5L219 74.5L213.5 75.7L203.5 76L201.7 77.5L200.1 99.5L201.2 108.5L198.5 119.4L197.5 121.2L196.5 121.7ZM114.5 62.6L88.5 62.6L88.5 59.7L113.5 59.7L115.5 60.3L116.1 61.5L114.5 62.6ZM431.5 420.5L402.5 420.8L386.5 412.7L379.5 406.2L364.5 405.2L345.5 401L330.5 395.1L310.5 390.3L305.5 388.6L303.6 387.5L299.6 380.5L294.8 369.5L289.1 350.5L284.2 331.5L279.5 317.5L277.5 309.5L274.5 290.6L273.1 277.5L273.5 274.3L274.5 273.4L277.5 272.8L294.5 272.8L298.5 273.5L305.5 276.3L313 280.5L325.5 291.1L337.5 300L367.9 318.5L376 332.5L387 370.5L391.3 380.5L395.6 386.5L397.7 392.5L399.5 395.2L402.9 397.5L407.5 401.8L413.5 405.5L415.5 405.7L424.5 403.7L427.5 403.9L438.2 407.5L450.5 412.8L456.2 414.5L458.3 415.5L458.7 416.5L456.8 417.5L447.5 419.2L431.5 420.5Z"/>
<path fill="#ee221c" d="M197.5 115.5L188.5 115.7L186.5 113.4L184.5 108.5L181 90.5L176.5 73.3L173 55.5L166.5 33.2L165.3 25.5L165.2 17.5L170.9 17.5L171.2 25.5L175.9 37.5L178.2 40.5L192.5 57.6L201.5 63.2L204.5 63.5L204.5 64.5L206.5 67.5L206.5 70.5L205.5 70.6L205.4 71.5L204.5 72L201.5 75.8L200.9 77.5L199.5 99.5L200.5 108.2L199.5 111.9L197.5 115.5ZM438.5 419.6L424.5 420.3L402.5 420.2L387.5 412.4L379.5 405.6L364.5 404.6L345.5 400.6L330.5 394.9L310.5 389.9L304.3 387.5L300.5 381.1L295.3 369.5L289.5 350.3L285 332.5L279.5 315.8L277.5 306.4L274.5 284.5L274.1 277.5L274.5 275.7L275.4 274.5L278.5 273.7L295.5 273.7L299.5 274.6L306.5 277.5L311.8 280.5L324.5 291.2L336.5 300.2L366.7 318.5L368.5 320.8L375 332.5L386.1 370.5L390.9 381.5L395.3 387.5L396.6 392.5L398 395.5L402.5 398.6L406.5 402.7L413.5 406.8L415.5 406.9L426.5 404.8L437.5 408.7L448.4 413.5L451.6 415.5L451.6 416.5L450.2 417.5L438.5 419.6Z"/>
<path fill="#e91d1f" d="M172.5 40.8L169.5 38.1L167.5 34.8L165.5 26.2L165.4 17.5L170.2 17.5L170.3 24.5L174 35.5L173.5 40.4L172.5 40.8ZM198.5 106.7L196.5 107.2L186.5 107L184.5 103.4L177.5 74.6L175.5 64.1L175.1 55.5L175.5 53L177.5 49.5L183.5 52.6L189.5 56.9L194.5 63.1L200.2 72.5L199.6 90.5L198.5 99.5L198.5 106.7ZM429.5 419.5L402.5 419.6L387.7 411.5L379.5 404.9L364.5 404L345.5 400.1L329.5 394.3L310.1 389.5L307.2 388.5L304.5 386.9L300.5 379.7L295.6 368.5L290.1 350.5L285.2 331.5L279.5 313.5L275.5 286.7L275.1 278.5L276.5 275.5L279.5 274.6L296.5 274.7L300.5 275.7L307 278.5L311.8 281.5L334.5 299.9L352.5 310.5L364.7 318.5L366.5 320.6L373.5 332.3L384.9 370.5L389.6 381.5L394.2 387.5L396 394.5L397.5 397.7L401.5 400.1L405.5 403.8L413.5 408.1L415.5 408.3L426.5 406.5L438.5 410.8L444.4 413.5L446.9 415.5L446.8 416.5L445.3 417.5L441.5 418.4L429.5 419.5Z"/>
<path fill="#e41822" d="M171.5 33.6L168.5 33.6L167.5 32.2L165.8 25.5L165.6 17.5L169.5 17.5L169.6 24.5L171.5 30.5L171.5 33.6ZM194.5 84.5L186.5 84.5L186.5 83.5L185.5 82.5L185.5 79.5L184.5 78.5L184.5 77.5L194.5 77.5L194.5 84.5ZM433.5 418.6L416.5 419.2L402.5 418.9L390.1 411.5L379.5 404.2L364.5 403.4L344.6 399.5L329.5 394L309.5 388.9L305.5 386.9L301.7 380.5L296.5 369.5L290.5 349.9L285.8 331.5L280.5 315L279.1 308.5L276.7 289.5L276.2 280.5L277.5 276.5L280.5 275.5L296.5 275.5L299.5 276.1L305.5 278.6L310.3 281.5L332.5 299.7L351.5 311.5L361.4 318.5L371.2 332.5L383 370.5L388.4 382.5L392.9 388.5L394 394.5L394.1 399.5L394.8 400.5L397.5 402.2L401.5 403.5L405.5 406.1L412.5 409.3L415.5 409.6L426.5 408.6L438.3 412.5L441.7 414.5L442.3 415.5L442.1 416.5L440.4 417.5L433.5 418.6Z"/>
<path fill="#db172a" d="M169.5 29.7L168.5 30.1L167.5 29.4L166.5 27.2L166.1 17.5L168.7 17.5L168.8 24.5L169.5 29.7ZM383.5 405.7L378.5 403.3L364.5 402.8L344.5 399L330.5 393.9L309.5 388.6L306 386.5L297.2 369.5L291.3 350.5L286.4 331.5L281.5 316.2L279.8 308.5L277.8 290.5L277.6 280.5L278.6 277.5L281.5 276.4L297.5 276.5L300.5 277.2L305.7 279.5L308.7 281.5L330.1 299.5L349.7 312.5L356.5 317.5L359.5 320.6L368.7 332.5L380.9 370.5L386.3 382.5L390.2 388.5L389.7 393.5L388.5 395.2L385.4 397.5L384.7 404.5L384.2 405.5L383.5 405.7ZM419.5 418.5L407.5 418.4L401.5 417.6L395.5 412.5L395 409.5L396.5 407.8L400.5 407.2L413.5 411L426.5 410.6L435 413.5L437.4 415.5L436.9 416.5L433.8 417.5L419.5 418.5Z"/>
<path fill="#c4153f" d="M382.5 403.7L378.5 402.6L364.5 402.1L344.5 398.6L329.5 393.3L310.6 388.5L307.1 386.5L303.4 380.5L297.5 368.5L291.6 349.5L287 331.5L281.5 313.1L280.6 308.5L278.8 289.5L278.9 280.5L279.6 278.5L280.5 277.8L283.5 277.3L298.5 277.4L302 278.5L305.8 280.5L327.9 299.5L343.8 310.5L352.8 317.5L364.8 330.5L366.9 334.5L378.3 369.5L384.5 383.1L387.1 387.5L387.1 390.5L383.7 395.5L383.2 402.5L382.5 403.7ZM428.5 416.6L424.5 417.3L408.5 417.2L404 416.5L402.7 415.5L402.5 413.5L402.7 412.5L404.5 411.8L414.5 412.8L425.5 412.7L429.3 414.5L429.7 415.5L428.5 416.6Z"/>
<path fill="#9c145d" d="M381.5 401.6L364.7 401.5L346.9 398.5L342.7 397.5L329.5 392.8L312.2 388.5L308.2 386.5L304.5 380.6L298.5 369.2L292.5 350.2L288 332.5L282.5 313.8L281.4 308.5L280 290.5L280.2 281.5L280.7 279.5L281.5 278.7L284.5 278.2L298.5 278.3L304.2 280.5L325.5 299.3L339.4 309.5L349 317.5L362.9 331.5L364.4 334.5L376.2 369.5L384.3 387.5L382.3 392.5L381.5 401.6Z"/>
<path fill="#6c1270" d="M378.5 400.6L364.5 400.6L345.3 397.5L329.5 392.2L311.2 387.5L308.7 385.5L299.5 369.3L293.5 350.6L289 332.5L283.5 313.9L282.5 309.1L281.2 290.5L281.6 282.5L282.5 279.9L284.5 279.4L298.5 279.4L302.5 280.6L323.5 299.5L338.6 311.5L360.3 331.5L361.9 334.5L374 369.5L381.5 386.5L380.5 390.5L380.2 399.5L379.5 400.4L378.5 400.6Z"/>
</g>
<g filter="url(#b2)" fill="#7a2ca8"><ellipse cx="179.6" cy="62" rx="3" ry="8" opacity=".8"/><ellipse cx="186.8" cy="91" rx="3.4" ry="10" opacity=".85"/></g>
<g filter="url(#bl)"><ellipse cx="167.4" cy="38" rx="1.8" ry="10" fill="#b01040" opacity=".75" transform="rotate(-8 167.4 38)"/><ellipse cx="165.6" cy="27" rx="1.9" ry="6" fill="#ea207c"/></g>
<g filter="url(#bs)"><rect x="86" y="5" width="490" height="528" fill="url(#st)"/></g>
<!-- saturated (pink) area -->
<path fill="#ee2c7c" shape-rendering="crispEdges" d="M290 283L294 283L300 285.5L306 288.5L316 296L326 306L337 316L346 326L356 334L360 346L364 358L369 370L374 382L376 391L372 398L350 397L330 392L318 389L310 385L306 376L300 366L296 356L293 344L290 332L288 320L285 306L284 296L285 288Z"/>
<!-- marker lines -->
<g fill="none">
<path d="M156.5 25V513" stroke="#e8e9f2" stroke-width="1" stroke-dasharray="20.65 2.7" stroke-dashoffset="23" opacity=".9"/>
<path d="M518.5 25V513" stroke="#e2e3ee" stroke-width="1" stroke-dasharray="20.65 2.7" stroke-dashoffset="23" opacity=".75"/>
<path d="M336.6 25V513" stroke="#dfe2f6" stroke-width="1.4" stroke-dasharray="20.65 2.7" stroke-dashoffset="23" opacity=".47"/>
<path d="M433.5 25V513" stroke="#7c1c30" stroke-width="1" opacity=".95"/>
<path d="M307 166.5H411M518 166.5H566" stroke="#a8145a" stroke-width="1" opacity=".7"/>
<path d="M519 334.5H566M519 351.5H566M519 386.5H566M519 196.5H566" stroke="#a8145a" stroke-width="1" opacity=".22"/>
<!-- DCI box -->
<rect x="209.5" y="195" width="237" height="201.5" stroke="#fff" stroke-width="1.3" stroke-dasharray="3.4 1.8"/>
<rect x="215.7" y="201.2" width="224.5" height="189" stroke="#fff" stroke-width="1.3" stroke-dasharray="3.4 1.8"/>
<!-- IRP box -->
<rect x="159.2" y="387.7" width="175.8" height="60" stroke="#fff" stroke-width="1.3" stroke-dasharray="3 1.5" opacity=".95"/>
<rect x="161.1" y="389.7" width="172" height="56.1" stroke="#fff" stroke-width="1.3" stroke-dasharray="3 1.5" opacity=".95"/>
</g>
<!-- DL arrow -->
<path fill="#f7e93a" d="M159.3 387.3L170.8 381.4V385.2H279.5V381.4L291 387.3L279.5 393.2V389.4H170.8V393.2Z"/>
<circle cx="302.7" cy="386.8" r="6.7" fill="#f7e62e" stroke="#1a1a1a" stroke-width="1.5"/>
<text transform="translate(388 233.8) scale(.9 1)" font-size="18" fill="#fff" stroke="#fff" stroke-width=".3">DCI</text>
<text transform="translate(300.3 432.6) scale(.87 1)" font-size="17.5" fill="#f2f6ff" stroke="#f2f6ff" stroke-width=".3">IRP</text>
<text transform="translate(217.8 373) scale(.93 1)" font-size="17" fill="#f5e840" stroke="#f5e840" stroke-width=".45">DL</text>
<text transform="translate(310.6 372.2) scale(.88 1)" font-size="10" font-weight="bold" fill="#f6c531">CDP</text>
</g>
<!-- axes -->
<g stroke="#111" stroke-width="2" fill="none">
<path d="M77 25.5H96M77 101.5H96M77 167H96M77 233H96M77 303H96M77 378.4H96M77 449H96M77 513H97V527"/>
<path d="M196 513.5V527M295.3 513.5V527M385 513.5V527M478.3 513.5V527M566 513.5V527"/>
</g>
<g font-size="17.5" fill="#111" stroke="#111" stroke-width=".3" text-anchor="end">
<text x="70.6" y="32">0</text>
<text x="70.6" y="108">5</text>
<text x="70.6" y="174.3">10</text>
<text x="70.6" y="240">15</text>
<text x="70.6" y="310">20</text>
<text x="70.6" y="385">25</text>
<text x="70.6" y="456">30</text>
<text x="70.6" y="520">35</text>
</g>
<g font-size="17.5" fill="#111" stroke="#111" stroke-width=".3" text-anchor="middle">
<text x="95.5" y="548.6">0</text>
<text x="195.5" y="548.6">5</text>
<text x="294.2" y="548.6">10</text>
<text x="385.2" y="548.6">15</text>
<text x="478" y="548.6">20</text>
<text x="565" y="548.6">25</text>
<text x="404" y="574.8">Time (sec)</text>
</g>
<text transform="translate(32.6 273.2) rotate(-90)" font-size="17.5" fill="#111" stroke="#111" stroke-width=".3" text-anchor="middle" textLength="322" lengthAdjust="spacingAndGlyphs">Length along the esophageal body (cm)</text>
<!-- colour bar -->
<rect x="611" y="65.5" width="15" height="428.5" fill="url(#cb)"/>
<g stroke="#2a2a2a" stroke-width="1.1">
<path d="M626 66H633.5M626 144.8H633.5M626 222.8H633.5M626 301H633.5M611 379.8H633.5M626 457.6H633.5"/>
</g>
<g font-size="17.3" fill="#2c2c2c" stroke="#2c2c2c" stroke-width=".3">
<text transform="translate(639.3 72.4) scale(.81 1)">150</text>
<text transform="translate(637.8 152.2) scale(.81 1)">120</text>
<text transform="translate(639.8 232.1) scale(.81 1)">100</text>
<text transform="translate(639.1 313.8) scale(.81 1)">50</text>
<text transform="translate(639.1 392.6) scale(.81 1)">30</text>
<text transform="translate(638.1 465.6) scale(.81 1)">0</text>
<text transform="translate(613.3 49.5) scale(.8 1)" font-size="20" font-style="italic">mmHg</text>
</g>
</svg>
</body></html>
